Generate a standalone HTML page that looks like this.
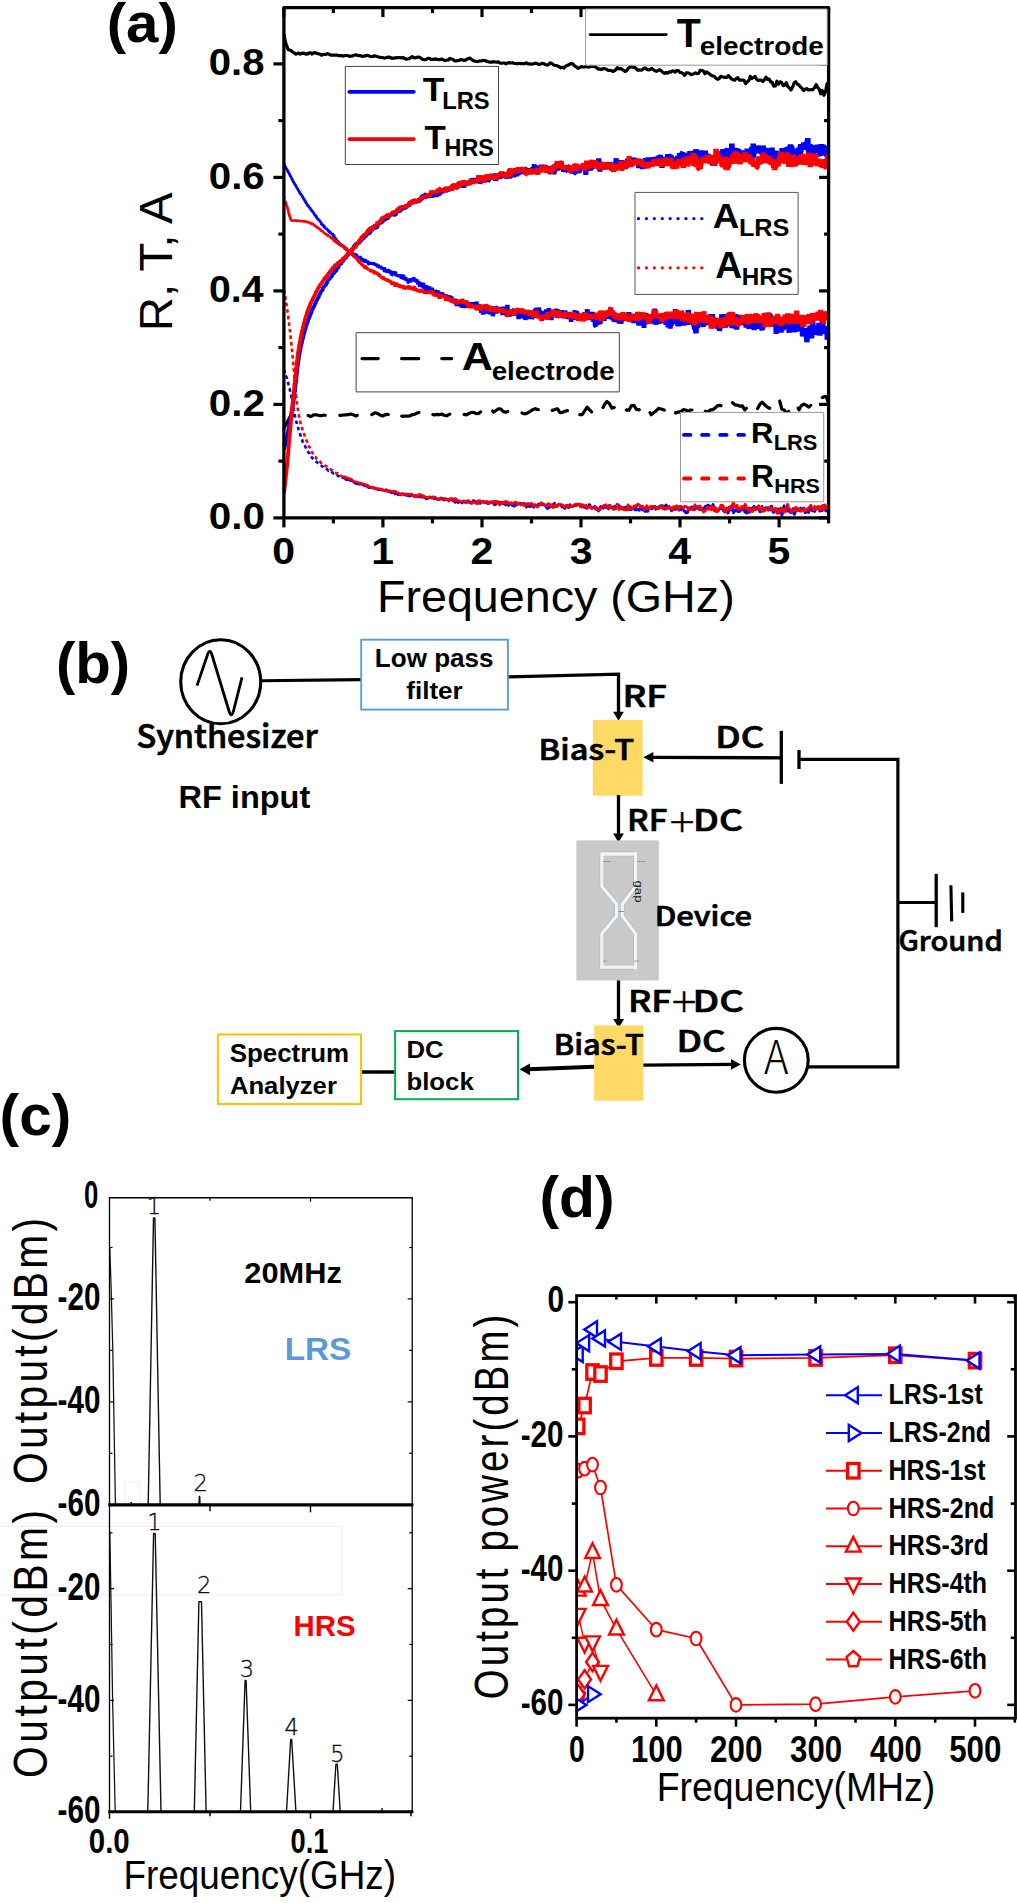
<!DOCTYPE html>
<html lang="en"><head><meta charset="utf-8"><title>Figure</title>
<style>
html,body{margin:0;padding:0;background:#fff;}
body{width:1017px;height:1903px;overflow:hidden;}
svg{display:block;font-family:"Liberation Sans",sans-serif;}
</style></head><body>
<svg width="1017" height="1903" viewBox="0 0 1017 1903">
<rect width="1017" height="1903" fill="#fff"/>
<g id="panel-a" stroke-linejoin="round" stroke-linecap="butt">
<clipPath id="clipA"><rect x="282.7" y="7.6" width="546.7" height="510.3"/></clipPath>
<g clip-path="url(#clipA)">
<polyline points="283.9,33.9 284.6,38.0 285.4,41.5 286.1,44.0 286.9,46.1 287.6,48.3 288.4,49.6 289.1,49.8 289.8,50.2 290.6,50.3 291.3,50.7 292.1,51.6 292.8,52.2 293.6,52.8 294.3,53.0 295.0,53.4 295.8,54.2 296.5,53.8 297.3,53.7 298.0,53.1 298.8,53.2 299.5,53.3 300.2,54.1 301.0,53.8 301.7,53.5 302.5,53.2 303.2,53.5 304.0,53.1 304.7,53.5 305.4,53.9 306.2,54.2 306.9,53.7 307.7,53.8 308.4,53.8 309.2,52.9 309.9,52.8 310.6,52.8 311.4,53.3 312.1,54.0 312.9,53.5 313.6,52.8 315.2,52.6 316.7,53.4 318.3,53.8 319.9,54.2 321.4,55.2 323.0,54.5 324.6,54.3 326.1,54.3 327.7,53.7 329.3,54.3 330.8,55.2 332.4,55.2 334.0,55.1 335.5,55.2 337.1,55.2 338.7,55.6 340.2,55.7 341.8,55.7 343.4,56.1 344.9,55.5 346.5,55.5 348.0,55.6 349.6,56.3 351.2,56.2 352.7,55.9 354.3,55.2 355.9,54.8 357.4,55.5 359.0,55.6 360.6,55.6 362.1,56.5 363.7,56.1 365.3,55.9 366.8,55.3 368.4,55.6 370.0,56.3 371.5,56.7 373.1,56.5 374.7,55.7 376.2,56.2 377.8,56.7 379.4,57.1 380.9,57.4 382.5,57.5 384.1,58.1 385.6,57.8 387.2,57.4 388.7,56.9 390.3,57.5 391.9,58.3 393.4,58.2 395.0,58.1 396.6,57.5 398.1,57.8 399.7,57.5 401.3,57.9 402.8,57.4 404.4,58.3 406.0,59.1 407.5,59.0 409.1,58.7 410.7,57.5 412.2,56.6 413.8,57.7 415.4,57.8 416.9,57.4 418.5,57.0 420.1,57.5 421.6,58.6 423.2,59.5 424.7,59.8 426.3,59.4 427.9,58.3 429.4,58.3 431.0,59.4 432.6,59.4 434.1,59.4 435.7,58.9 437.3,59.5 438.8,59.6 440.4,59.4 442.0,59.1 443.5,60.0 445.1,60.5 446.7,60.2 448.2,60.1 449.8,58.4 451.4,59.0 452.9,59.3 454.5,60.9 456.1,60.8 457.6,60.6 459.2,60.4 460.8,59.5 462.3,59.8 463.9,60.4 465.4,60.2 467.0,59.2 468.6,58.6 470.1,58.1 471.7,59.6 473.3,60.5 474.8,61.2 476.4,61.3 478.0,61.6 479.5,60.9 481.1,61.0 482.7,60.4 484.2,60.5 485.8,60.9 487.4,61.4 488.9,62.0 490.5,62.1 492.1,62.1 493.6,61.7 495.2,62.0 496.8,62.1 498.3,61.9 499.9,63.0 501.4,63.3 503.0,63.0 504.6,63.0 506.1,63.8 507.7,62.9 509.3,62.6 510.8,63.0 512.4,62.7 514.0,63.3 515.5,63.5 517.1,63.8 518.7,63.3 520.2,63.7 521.8,63.6 523.4,63.7 524.9,63.6 526.5,62.8 528.1,63.8 529.6,63.9 531.2,64.1 532.8,64.0 534.3,63.5 535.9,63.1 537.5,63.9 539.0,64.3 540.6,64.1 542.1,63.3 543.7,63.6 545.3,64.5 546.8,65.1 548.4,64.7 550.0,62.9 551.5,63.2 553.1,64.7 554.7,65.2 556.2,65.5 557.8,66.1 559.4,66.8 560.9,67.8 562.5,67.1 564.1,68.0 565.6,66.2 567.2,65.5 568.8,64.8 570.3,63.8 571.9,63.3 573.5,64.6 575.0,66.3 576.6,66.9 578.1,68.4 579.7,67.6 581.3,66.5 582.8,66.9 584.4,67.0 586.0,66.5 587.5,67.0 589.1,67.1 590.7,66.3 592.2,66.2 593.8,66.7 595.4,66.7 596.9,67.9 598.5,69.2 600.1,69.1 601.6,69.4 603.2,68.5 604.8,68.7 606.3,69.2 607.9,70.2 609.5,70.5 611.0,70.3 612.6,71.4 614.2,70.9 615.7,69.7 617.3,67.6 618.8,69.0 620.4,68.4 622.0,69.4 623.5,70.3 625.1,71.6 626.7,70.6 628.2,68.3 629.8,67.2 631.4,66.6 632.9,67.2 634.5,67.3 636.1,68.6 637.6,70.3 639.2,69.9 640.8,70.1 642.3,69.8 643.9,68.2 645.5,68.2 647.0,69.5 648.6,70.0 650.2,69.4 651.7,68.3 653.3,69.7 654.8,70.7 656.4,71.3 658.0,70.6 659.5,69.7 661.1,70.6 662.7,72.1 664.2,73.4 665.8,72.5 667.4,73.2 668.9,71.9 670.5,72.2 672.1,70.9 673.6,71.0 675.2,72.1 676.8,70.4 678.3,70.5 679.9,72.4 681.5,72.7 683.0,73.6 684.6,75.3 686.2,72.9 687.7,72.9 689.3,73.2 690.9,74.6 692.4,74.2 694.0,73.7 695.5,72.8 697.1,73.7 698.7,73.3 700.2,70.3 701.8,70.5 703.4,71.0 704.9,73.7 706.5,71.8 708.1,72.9 709.6,74.1 711.2,75.3 712.8,76.0 714.3,76.3 715.9,78.2 717.5,79.3 719.0,78.8 720.6,76.4 722.2,76.8 723.7,77.2 725.3,77.4 726.9,77.3 728.4,75.5 730.0,77.5 731.6,78.9 733.1,79.8 734.7,80.2 736.2,78.5 737.8,77.7 739.4,80.1 740.9,80.2 742.5,80.1 744.1,80.3 745.6,83.6 747.2,81.9 748.8,80.5 750.3,76.4 751.9,78.5 753.5,77.5 755.0,76.4 756.6,79.1 758.2,80.5 759.7,80.1 761.3,80.2 762.9,81.5 764.4,79.8 766.0,77.2 767.6,79.5 769.1,79.1 770.7,81.9 772.2,82.3 773.8,86.1 775.4,85.9 776.9,81.2 778.5,84.2 780.1,81.8 781.6,82.5 783.2,85.6 784.8,85.2 786.3,82.6 787.9,86.6 789.5,88.0 791.0,90.0 792.6,87.1 794.2,82.9 795.7,81.8 797.3,84.2 798.9,85.0 800.4,86.9 802.0,88.3 803.6,90.6 805.1,89.3 806.7,88.6 808.3,89.9 809.8,89.8 811.4,89.5 812.9,89.6 814.5,87.8 816.1,84.6 817.6,87.5 819.2,89.2 820.8,93.9 822.3,90.5 823.9,95.3 825.5,91.7 827.0,83.7 828.6,82.7" fill="none" stroke="#000" stroke-width="3.2" stroke-linejoin="round"/>
<polyline points="283.9,428.7 284.9,426.4 285.9,424.5 286.9,422.7 287.9,420.9 288.9,419.0 289.8,417.1 290.8,416.2 291.8,415.7 292.8,415.2 293.8,415.2 294.8,415.9 295.8,415.7 296.8,415.1 297.8,415.1 298.8,415.2 299.7,415.4 300.7,416.0 301.7,416.0 302.7,416.0 303.7,415.3 304.7,415.7 305.7,415.7 306.7,415.3 307.7,415.2 308.7,415.8 309.6,416.0 310.6,416.5 311.6,416.2 312.6,415.5 313.6,414.8 316.1,414.8 318.5,415.3 321.0,415.7 323.5,415.2 325.9,415.3 328.4,415.0 330.9,414.1 333.3,413.8 335.8,414.0 338.3,415.0 340.7,415.5 343.2,415.0 345.6,414.8 348.1,414.7 350.6,414.0 353.0,414.6 355.5,415.9 358.0,415.1 360.4,414.5 362.9,414.8 365.4,415.3 367.8,415.3 370.3,415.5 372.7,414.0 375.2,412.8 377.7,413.5 380.1,415.1 382.6,416.0 385.1,414.8 387.5,414.4 390.0,414.9 392.5,415.3 394.9,413.3 397.4,413.6 399.9,415.1 402.3,416.3 404.8,416.1 407.2,416.1 409.7,416.0 412.2,414.6 414.6,414.3 417.1,413.0 419.6,412.2 422.0,412.7 424.5,413.6 427.0,412.2 429.4,413.1 431.9,414.3 434.3,415.0 436.8,414.4 439.3,414.7 441.7,414.0 444.2,415.3 446.7,415.8 449.1,414.4 451.6,413.6 454.1,413.7 456.5,413.4 459.0,412.6 461.5,412.8 463.9,414.4 466.4,414.9 468.8,413.5 471.3,412.4 473.8,412.5 476.2,413.6 478.7,413.5 481.2,411.4 483.6,412.2 486.1,412.3 488.6,409.5 491.0,408.6 493.5,412.1 496.0,410.5 498.4,408.8 500.9,409.0 503.3,411.6 505.8,412.3 508.3,411.2 510.7,412.1 513.2,412.2 515.7,411.3 518.1,411.6 520.6,412.2 523.1,413.5 525.5,413.8 528.0,412.7 530.4,411.3 532.9,409.6 535.4,408.7 537.8,409.7 540.3,409.6 542.8,411.4 545.2,410.6 547.7,409.3 550.2,410.1 552.6,410.5 555.1,409.4 557.6,408.8 560.0,412.6 562.5,412.3 564.9,411.3 567.4,410.6 569.9,410.7 572.3,409.4 574.8,412.4 577.3,414.7 579.7,414.6 582.2,414.7 584.7,410.8 587.1,407.1 589.6,409.9 592.0,412.3 594.5,410.1 597.0,408.2 599.4,407.6 601.9,409.5 604.4,404.8 606.8,401.5 609.3,403.4 611.8,408.1 614.2,407.5 616.7,408.5 619.2,410.8 621.6,410.2 624.1,412.3 626.5,409.9 629.0,410.2 631.5,405.6 633.9,405.4 636.4,409.3 638.9,410.0 641.3,408.3 643.8,407.3 646.3,406.6 648.7,410.2 651.2,414.7 653.7,412.7 656.1,410.9 658.6,408.4 661.0,409.0 663.5,409.8 666.0,410.9 668.4,409.2 670.9,408.3 673.4,408.1 675.8,413.0 678.3,412.1 680.8,411.7 683.2,409.7 685.7,410.0 688.1,411.1 690.6,410.0 693.1,410.0 695.5,409.1 698.0,407.5 700.5,408.7 702.9,409.6 705.4,411.3 707.9,411.9 710.3,409.9 712.8,409.7 715.3,407.7 717.7,405.6 720.2,405.3 722.6,406.5 725.1,405.3 727.6,402.9 730.0,400.3 732.5,402.6 735.0,404.9 737.4,405.1 739.9,406.2 742.4,405.9 744.8,409.9 747.3,407.2 749.7,410.9 752.2,409.9 754.7,408.6 757.1,409.6 759.6,404.7 762.1,402.2 764.5,404.5 767.0,406.9 769.5,408.3 771.9,406.0 774.4,404.6 776.9,402.8 779.3,399.3 781.8,409.2 784.2,410.0 786.7,413.5 789.2,410.8 791.6,409.4 794.1,404.9 796.6,404.7 799.0,409.8 801.5,405.5 804.0,404.1 806.4,405.4 808.9,407.1 811.4,404.8 813.8,404.0 816.3,399.4 818.7,398.9 821.2,398.2 823.7,396.8 826.1,396.3 828.6,403.4" fill="none" stroke="#000" stroke-width="3.2" stroke-dasharray="18 15" stroke-linecap="round"/>
<polyline points="283.9,369.3 284.1,370.0 284.4,370.7 284.6,371.5 284.9,372.3 285.1,373.1 285.4,373.8 285.6,374.7 285.9,375.5 286.1,376.0 286.4,376.7 286.6,377.4 286.9,378.3 287.1,379.2 287.4,380.3 287.6,381.1 287.9,381.9 288.1,382.9 288.4,384.0 288.6,385.0 288.9,386.0 289.1,386.9 289.3,387.8 289.6,388.6 289.8,389.7 290.1,390.8 290.3,391.9 290.6,393.1 290.8,394.4 291.1,395.4 291.3,396.5 291.6,398.0 291.8,399.5 292.1,400.7 292.3,401.9 292.6,403.3 292.8,404.9 293.1,406.2 293.3,407.3 293.6,408.6 293.8,410.0 294.1,411.4 294.3,412.6 294.5,413.8 294.8,415.1 295.0,416.6 295.3,417.8 295.5,418.7 295.8,419.5 296.0,420.5 296.3,421.4 296.5,422.2 296.8,423.3 297.0,424.2 297.3,424.9 297.5,425.8 297.8,426.6 298.0,427.4 298.3,428.3 298.5,429.3 298.8,430.3 299.0,431.3 299.3,432.0 299.5,432.6 299.7,433.3 300.0,433.9 300.2,434.7 300.5,435.4 300.7,436.2 301.0,437.0 301.2,437.8 301.5,438.5 301.7,439.1 302.0,439.7 302.2,440.3 302.5,440.9 302.7,441.9 303.0,442.5 303.2,442.8 303.5,443.1 303.7,443.5 304.0,443.9 304.2,444.6 304.5,445.2 304.7,445.5 304.9,445.7 305.2,446.3 305.4,447.0 305.7,447.6 305.9,447.9 306.2,448.2 306.4,448.7 306.7,449.2 306.9,449.8 307.2,450.3 307.4,450.9 307.7,451.3 307.9,451.8 308.2,452.2 308.4,452.4 308.7,452.7 308.9,452.9 309.2,453.2 309.4,453.9 309.6,454.6 309.9,454.9 310.1,455.1 310.4,455.4 310.6,455.9 310.9,456.2 311.1,456.5 311.4,456.9 311.6,457.2 311.9,457.5 312.1,457.9 312.4,458.2 312.6,458.3 312.9,458.5 313.1,459.0 313.4,459.4 313.6,459.5 314.1,459.8 314.5,460.4 315.0,460.7 315.5,461.2 316.0,461.6 316.4,462.0 316.9,462.2 317.4,462.5 317.8,463.1 318.3,463.5 318.8,463.8 319.2,464.3 319.7,464.5 320.2,464.7 320.6,465.1 321.1,465.5 321.6,465.8 322.0,466.3 322.5,466.7 323.0,466.7 323.5,467.0 323.9,467.7 324.4,468.1 324.9,468.3 325.3,468.7 325.8,468.8 326.3,469.0 326.7,469.1 327.2,469.3 327.7,469.9 328.1,470.5 328.6,470.7 329.1,470.5 329.5,470.5 330.0,471.2 330.5,471.6 330.9,471.6 331.4,471.9 331.9,472.1 332.4,472.4 332.8,473.0 333.3,473.4 333.8,473.5 334.2,473.5 334.7,473.7 335.2,474.0 335.6,474.4 336.1,474.8 336.6,474.9 337.0,474.9 337.5,475.5 338.0,476.0 338.4,476.2 338.9,476.3 339.4,476.3 339.9,476.6 340.3,477.0 340.8,477.1 341.3,477.1 341.7,477.3" fill="none" stroke="#00f" stroke-width="2.6" stroke-dasharray="3.6 3"/>
<polyline points="341.7,477.3 342.2,477.5 342.7,477.8 343.1,477.8 343.6,478.0 344.1,478.1 344.5,478.2 345.0,478.4 345.5,478.9 345.9,479.5 346.4,479.7 346.9,479.4 347.3,479.3 347.8,479.7 348.3,479.8 348.8,479.8 349.2,480.1 349.7,480.3 350.2,480.4 350.6,480.7 351.1,480.7 351.6,480.6 352.0,480.9 352.5,481.1 353.0,481.0 353.4,481.6 353.9,482.3 354.4,482.7 354.8,482.8 355.3,483.0 355.8,483.6 356.3,483.7 356.7,483.6 357.2,483.6 357.7,483.8 358.1,484.2 358.6,484.1 359.1,483.9 359.5,484.1 360.0,484.3 360.5,484.3 360.9,484.1 361.4,483.9 361.9,484.1 362.3,484.4 362.8,484.8 363.3,485.1 363.8,485.0 364.2,485.4 364.7,485.8 365.2,486.0 365.6,486.1 366.1,486.0 366.6,485.9 367.0,486.1 367.5,486.7 368.0,487.2 368.4,487.5 368.9,487.8 369.4,487.5 369.8,487.1 370.3,487.5 370.8,487.7 371.2,487.4 371.7,487.4 372.2,487.6 372.7,488.1 373.1,488.2 373.6,487.9 374.1,488.2 374.5,488.3 375.0,488.6 375.5,489.0 375.9,489.0 376.4,488.7 376.9,488.7 377.3,489.1 377.8,489.4 378.3,489.4 378.7,489.8 379.2,489.8 379.7,489.7 380.2,489.8 380.6,489.6 381.1,489.6 381.6,490.1 382.0,490.2 382.5,489.9 383.0,489.8 383.4,489.9 383.9,490.1 384.4,490.4 384.8,490.7 385.3,490.6 385.8,490.1 386.2,489.7 386.7,490.0 387.2,490.9 387.6,491.3 388.1,491.2 388.6,491.6 389.1,491.6 389.5,491.0 390.0,491.1 390.5,492.0 390.9,492.5 391.4,492.7 391.9,492.9 392.3,492.7 392.8,492.0 393.3,491.7 393.7,491.8 394.2,492.2 394.7,493.5 395.1,494.0 395.6,493.2 396.1,493.1 396.6,493.3 397.0,493.4 397.5,494.2 398.0,494.8 398.4,494.5 398.9,493.8 399.4,494.2 399.8,494.6 400.3,494.1 400.8,494.0 401.2,494.4 401.7,494.3 402.2,493.8 402.6,493.7 403.1,494.1 403.6,494.5 404.1,494.4 404.5,494.5 405.0,494.8 405.5,495.2 405.9,495.4 406.4,495.5 406.9,495.3 407.3,494.9 407.8,495.1 408.3,495.7 408.7,496.0 409.2,496.0 409.7,496.1 410.1,495.8 410.6,495.6 411.1,495.5 411.5,495.2 412.0,495.0 412.5,495.1 413.0,495.4 413.4,495.7 413.9,496.3 414.4,496.4 414.8,495.9 415.3,495.4 415.8,495.3 416.2,496.2 416.7,496.8 417.2,496.7 417.6,496.9 418.1,496.8 418.6,496.0 419.0,495.7 419.5,496.5 420.0,497.1 420.5,496.9 420.9,497.1 421.4,497.2 421.9,496.7 422.3,496.2 422.8,496.4 423.3,496.9 423.7,497.1 424.2,497.5 424.7,497.5 425.1,497.2 425.6,498.2 426.1,498.9 426.5,498.7 427.0,498.8 427.5,498.4 427.9,498.3 428.4,498.2 428.9,498.0 429.4,497.9 429.8,497.9 430.3,497.8 430.8,497.5 431.2,497.4 431.7,497.8 432.2,498.1 432.6,498.0 433.1,497.9 433.6,498.2 434.0,498.8 434.5,498.8 435.0,498.5 435.4,498.8 435.9,498.7 436.4,498.6 436.9,499.1 437.3,499.4 437.8,499.5 438.3,499.4 438.7,499.1 439.2,498.6 439.7,498.6 440.1,499.1 440.6,498.6 441.1,497.8 441.5,498.2 442.0,499.2 442.5,499.2 442.9,499.0 443.4,499.7 443.9,500.2 444.3,499.9 444.8,499.5 445.3,498.7 445.8,498.7 446.2,499.2 446.7,499.2 447.2,499.4 447.6,499.8 448.1,499.7 448.6,499.8 449.0,500.0 449.5,499.5 450.0,499.1 450.4,499.2 450.9,499.3 451.4,499.5 451.8,499.8 452.3,500.1 452.8,500.7 453.3,500.9 453.7,500.4 454.2,500.6 454.7,502.1 455.1,502.4 455.6,501.2 456.1,500.7 456.5,500.9 457.0,501.3 457.5,502.0 457.9,502.7 458.4,502.3 458.9,501.2 459.3,500.9 459.8,501.6 460.3,502.3 460.8,502.3 461.2,502.1 461.7,502.6 462.2,503.1 462.6,501.9 463.1,501.1 463.6,501.8 464.0,502.1 464.5,502.2 465.0,502.5 465.4,502.4 465.9,502.5 466.4,502.4 466.8,501.9 467.3,501.9 467.8,502.2 468.2,502.3 468.7,502.3 469.2,502.4 469.7,502.3 470.1,502.8 470.6,503.2 471.1,503.0 471.5,502.9 472.0,502.5 472.5,501.7 472.9,500.8 473.4,500.4 473.9,500.6 474.3,501.4 474.8,502.0 475.3,501.7 475.7,501.5 476.2,501.7 476.7,502.2 477.2,502.2 477.6,502.3 478.1,503.0 478.6,502.7 479.0,502.3 479.5,503.2 480.0,503.6 480.4,503.2 480.9,502.7 481.4,502.0 481.8,501.5 482.3,501.7 482.8,502.0 483.2,502.4 483.7,502.5 484.2,502.4 484.6,502.2 485.1,502.0 485.6,502.3 486.1,502.9 486.5,503.2 487.0,503.2 487.5,503.3 487.9,503.6 488.4,503.7 488.9,502.5 489.3,502.1 489.8,502.6 490.3,502.1 490.7,501.9 491.2,502.5 491.7,502.5 492.1,502.3 492.6,503.0 493.1,503.0 493.6,502.6 494.0,504.2 494.5,505.0 495.0,504.2 495.4,503.9 495.9,504.1 496.4,504.1 496.8,503.4 497.3,501.7 497.8,501.6 498.2,502.8 498.7,502.9 499.2,502.4 499.6,502.3 500.1,502.4 500.6,502.1 501.1,502.8 501.5,503.7 502.0,503.8 502.5,503.1 502.9,502.3 503.4,503.0 503.9,504.0 504.3,503.5 504.8,503.3 505.3,504.6 505.7,505.0 506.2,503.6 506.7,503.6 507.1,504.5 507.6,504.3 508.1,504.8 508.5,505.6 509.0,504.8 509.5,504.1 510.0,504.3 510.4,503.4 510.9,502.8 511.4,503.5 511.8,504.8 512.3,505.7 512.8,505.0 513.2,504.4 513.7,505.9 514.2,506.4 514.6,504.9 515.1,503.6 515.6,503.8 516.0,504.6 516.5,505.1 517.0,504.8 517.5,504.0 517.9,503.8 518.4,503.7 518.9,503.9 519.3,503.7 519.8,503.1 520.3,503.3 520.7,503.2 521.2,503.8 521.7,504.7 522.1,504.3 522.6,503.5 523.1,503.9 523.5,505.0 524.0,505.1 524.5,503.9 524.9,503.4 525.4,503.9 525.9,505.4 526.4,507.3 526.8,506.8 527.3,505.6 527.8,505.7 528.2,506.0 528.7,506.0 529.2,506.4 529.6,506.8 530.1,506.6 530.6,506.1 531.0,506.1 531.5,505.6 532.0,504.8 532.4,505.3 532.9,506.6 533.4,507.4 533.9,506.8 534.3,505.6 534.8,505.4 535.3,505.9 535.7,506.0 536.2,505.6 536.7,505.4 537.1,506.4 537.6,506.6 538.1,504.4 538.5,503.9 539.0,504.5 539.5,504.8 539.9,505.2 540.4,504.6 540.9,504.1 541.3,504.4 541.8,504.7 542.3,504.6 542.8,503.9 543.2,503.8 543.7,504.2 544.2,505.1 544.6,505.4 545.1,505.0 545.6,505.7 546.0,506.9 546.5,507.7 547.0,508.3 547.4,508.6 547.9,508.4 548.4,507.4 548.8,506.6 549.3,506.7 549.8,507.1 550.3,506.8 550.7,505.8 551.2,505.4 551.7,506.6 552.1,506.4 552.6,504.6 553.1,505.0 553.5,505.7 554.0,504.2 554.5,503.2 554.9,504.8 555.4,506.6 555.9,506.5 556.3,506.2 556.8,506.6 557.3,506.1 557.8,505.0 558.2,505.2 558.7,505.1 559.2,504.4 559.6,504.3 560.1,504.8 560.6,505.3 561.0,505.3 561.5,506.4 562.0,507.1 562.4,506.2 562.9,506.3 563.4,507.0 563.8,507.4 564.3,508.2 564.8,508.7 565.2,508.2 565.7,506.4 566.2,505.3 566.7,506.3 567.1,506.5 567.6,505.6 568.1,506.2 568.5,507.9 569.0,507.7 569.5,505.6 569.9,504.5 570.4,505.6 570.9,506.4 571.3,506.5 571.8,506.8 572.3,506.5 572.7,506.2 573.2,505.9 573.7,505.7 574.2,505.8 574.6,505.2 575.1,505.0 575.6,505.6 576.0,505.8 576.5,504.9 577.0,504.3 577.4,504.6 577.9,504.0 578.4,503.8 578.8,504.2 579.3,504.7 579.8,506.1 580.2,505.6 580.7,504.8 581.2,504.6 581.6,504.7 582.1,505.5 582.6,505.5 583.1,505.2 583.5,506.4 584.0,507.3 584.5,506.9 584.9,507.2 585.4,507.5 585.9,507.4 586.3,508.1 586.8,508.3 587.3,507.5 587.7,506.7 588.2,506.7 588.7,506.2 589.1,504.6 589.6,504.5 590.1,505.4 590.6,506.9 591.0,508.0 591.5,507.3 592.0,507.1 592.4,507.6 592.9,507.7 593.4,507.4 593.8,507.7 594.3,507.4 594.8,506.1 595.2,507.0 595.7,509.1 596.2,509.4 596.6,508.8 597.1,508.5 597.6,508.6 598.0,510.0 598.5,511.1 599.0,510.4 599.5,508.8 599.9,507.5 600.4,506.6 600.9,506.4 601.3,507.1 601.8,507.4 602.3,507.1 602.7,507.6 603.2,508.3 603.7,507.8 604.1,506.3 604.6,505.1 605.1,506.2 605.5,507.5 606.0,507.3 606.5,507.6 607.0,507.4 607.4,507.0 607.9,508.3 608.4,508.9 608.8,507.4 609.3,505.4 609.8,505.8 610.2,507.5 610.7,507.6 611.2,507.1 611.6,507.5 612.1,507.4 612.6,506.8 613.0,506.9 613.5,507.7 614.0,508.3 614.5,507.6 614.9,506.2 615.4,507.0 615.9,508.5 616.3,507.4 616.8,506.3 617.3,506.5 617.7,505.3 618.2,504.6 618.7,505.5 619.1,505.9 619.6,506.0 620.1,506.3 620.5,506.3 621.0,507.3 621.5,509.0 621.9,509.0 622.4,507.4 622.9,507.5 623.4,508.6 623.8,507.9 624.3,507.6 624.8,509.4 625.2,509.2 625.7,507.1 626.2,507.0 626.6,508.6 627.1,508.8 627.6,507.1 628.0,506.2 628.5,508.2 629.0,509.7 629.4,508.3 629.9,508.2 630.4,509.8 630.9,509.8 631.3,508.6 631.8,508.5 632.3,509.0 632.7,509.1 633.2,508.9 633.7,507.9 634.1,508.1 634.6,509.7 635.1,510.0 635.5,508.7 636.0,507.5 636.5,508.8 636.9,510.0 637.4,509.4 637.9,509.3 638.3,509.4 638.8,509.5 639.3,510.5 639.8,509.6 640.2,507.1 640.7,507.7 641.2,508.8 641.6,507.5 642.1,507.8 642.6,510.0 643.0,510.1 643.5,509.6 644.0,510.0 644.4,510.4 644.9,511.4 645.4,511.6 645.8,510.6 646.3,509.9 646.8,510.3 647.3,510.9 647.7,511.5 648.2,510.7 648.7,508.2 649.1,508.2 649.6,508.7 650.1,507.6 650.5,506.8 651.0,507.1 651.5,508.4 651.9,509.0 652.4,508.2 652.9,508.0 653.3,507.9 653.8,507.3 654.3,506.5 654.8,506.2 655.2,508.1 655.7,509.3 656.2,507.6 656.6,507.4 657.1,508.5 657.6,507.6 658.0,507.2 658.5,507.7 659.0,507.2 659.4,506.5 659.9,506.0 660.4,506.0 660.8,507.0 661.3,506.3 661.8,505.6 662.2,507.4 662.7,508.3 663.2,507.3 663.7,505.9 664.1,506.1 664.6,507.0 665.1,506.8 665.5,505.9 666.0,504.9 666.5,505.4 666.9,506.0 667.4,506.2 667.9,506.8 668.3,507.7 668.8,507.9 669.3,507.8 669.7,507.8 670.2,508.0 670.7,509.1 671.2,510.4 671.6,510.9 672.1,510.4 672.6,509.5 673.0,508.3 673.5,508.5 674.0,509.5 674.4,508.6 674.9,507.9 675.4,509.6 675.8,509.4 676.3,507.0 676.8,506.9 677.2,506.7 677.7,506.3 678.2,508.1 678.6,509.8 679.1,510.2 679.6,508.8 680.1,508.3 680.5,509.6 681.0,509.9 681.5,509.3 681.9,508.1 682.4,507.2 682.9,508.3 683.3,509.3 683.8,510.3 684.3,511.4 684.7,511.7 685.2,511.4 685.7,511.7 686.1,513.0 686.6,512.3 687.1,511.3 687.6,512.6 688.0,511.5 688.5,509.3 689.0,509.4 689.4,508.8 689.9,508.2 690.4,509.7 690.8,509.2 691.3,507.0 691.8,506.8 692.2,507.4 692.7,507.5 693.2,507.9 693.6,509.1 694.1,510.0 694.6,509.5 695.0,508.9 695.5,508.7 696.0,508.1 696.5,507.9 696.9,508.1 697.4,508.1 697.9,508.6 698.3,507.9 698.8,506.4 699.3,507.8 699.7,509.8 700.2,509.7 700.7,509.8 701.1,508.9 701.6,508.4 702.1,509.4 702.5,509.4 703.0,508.1 703.5,507.9 704.0,509.4 704.4,509.2 704.9,507.2 705.4,506.1 705.8,506.7 706.3,507.8 706.8,507.3 707.2,505.9 707.7,505.0 708.2,505.1 708.6,506.4 709.1,507.1 709.6,506.2 710.0,505.9 710.5,506.2 711.0,506.3 711.5,506.7 711.9,506.9 712.4,506.0 712.9,504.3 713.3,504.8 713.8,507.8 714.3,510.6 714.7,510.7 715.2,509.2 715.7,508.8 716.1,509.8 716.6,511.6 717.1,511.5 717.5,509.6 718.0,509.6 718.5,510.8 718.9,510.0 719.4,508.7 719.9,508.6 720.4,507.6 720.8,506.5 721.3,507.5 721.8,508.9 722.2,508.7 722.7,508.6 723.2,510.5 723.6,511.2 724.1,511.0 724.6,511.0 725.0,510.3 725.5,510.5 726.0,510.8 726.4,511.2 726.9,511.3 727.4,511.9 727.9,513.2 728.3,512.7 728.8,509.6 729.3,506.8 729.7,506.9 730.2,509.0 730.7,510.2 731.1,509.0 731.6,507.9 732.1,507.2 732.5,507.7 733.0,511.2 733.5,512.8 733.9,512.1 734.4,511.8 734.9,510.7 735.3,510.0 735.8,510.4 736.3,510.5 736.8,509.9 737.2,510.2 737.7,511.7 738.2,511.4 738.6,510.0 739.1,511.0 739.6,511.7 740.0,510.9 740.5,510.5 741.0,510.2 741.4,509.4 741.9,508.2 742.4,508.2 742.8,510.1 743.3,509.6 743.8,507.7 744.3,509.3 744.7,512.1 745.2,512.1 745.7,510.8 746.1,511.5 746.6,513.2 747.1,513.2 747.5,511.8 748.0,510.0 748.5,509.9 748.9,511.4 749.4,512.3 749.9,511.0 750.3,509.4 750.8,508.6 751.3,508.2 751.7,508.2 752.2,507.9 752.7,508.2 753.2,508.2 753.6,506.9 754.1,506.3 754.6,507.3 755.0,509.2 755.5,509.8 756.0,509.1 756.4,508.5 756.9,507.5 757.4,506.7 757.8,506.7 758.3,508.5 758.8,510.2 759.2,510.1 759.7,511.1 760.2,512.0 760.7,511.2 761.1,510.1 761.6,507.7 762.1,506.3 762.5,507.5 763.0,508.7 763.5,509.8 763.9,510.6 764.4,511.0 764.9,510.1 765.3,508.0 765.8,507.7 766.3,508.8 766.7,508.7 767.2,507.5 767.7,508.6 768.2,510.2 768.6,509.3 769.1,508.0 769.6,507.0 770.0,507.6 770.5,510.1 771.0,509.6 771.4,506.2 771.9,506.0 772.4,509.0 772.8,511.2 773.3,512.4 773.8,512.5 774.2,511.6 774.7,511.3 775.2,510.8 775.6,509.3 776.1,509.3 776.6,509.6 777.1,509.2 777.5,511.0 778.0,512.6 778.5,510.7 778.9,508.9 779.4,510.2 779.9,511.7 780.3,512.3 780.8,512.2 781.3,513.0 781.7,515.4 782.2,514.8 782.7,512.5 783.1,510.3 783.6,506.9 784.1,505.6 784.6,507.6 785.0,509.0 785.5,508.2 786.0,508.5 786.4,510.9 786.9,511.2 787.4,509.6 787.8,510.2 788.3,511.3 788.8,510.9 789.2,510.6 789.7,509.1 790.2,509.9 790.6,512.8 791.1,512.0 791.6,511.7 792.0,512.3 792.5,510.2 793.0,508.6 793.5,510.7 793.9,513.7 794.4,514.5 794.9,513.7 795.3,511.4 795.8,508.6 796.3,508.2 796.7,508.5 797.2,508.0 797.7,508.6 798.1,509.7 798.6,510.8 799.1,510.7 799.5,510.5 800.0,509.8 800.5,507.9 801.0,508.7 801.4,509.7 801.9,509.6 802.4,510.0 802.8,509.2 803.3,508.0 803.8,507.9 804.2,510.0 804.7,511.9 805.2,512.8 805.6,512.7 806.1,511.9 806.6,511.7 807.0,511.4 807.5,510.5 808.0,511.1 808.5,512.7 808.9,511.2 809.4,509.7 809.9,510.4 810.3,509.7 810.8,508.4 811.3,509.3 811.7,510.2 812.2,510.7 812.7,510.9 813.1,509.9 813.6,509.7 814.1,511.0 814.5,511.7 815.0,510.9 815.5,509.6 815.9,509.7 816.4,509.2 816.9,507.6 817.4,507.3 817.8,507.7 818.3,508.2 818.8,508.5 819.2,509.8 819.7,511.2 820.2,510.8 820.6,510.7 821.1,510.5 821.6,510.1 822.0,510.9 822.5,510.3 823.0,506.7 823.4,505.4 823.9,506.9 824.4,506.9 824.9,507.8 825.3,510.2 825.8,511.0 826.3,510.7 826.7,510.8 827.2,511.0 827.7,511.7 828.1,512.0 828.6,511.6" fill="none" stroke="#00f" stroke-width="2.6"/>
<polyline points="283.9,289.7 284.1,290.9 284.4,292.0 284.6,293.4 284.9,294.7 285.1,295.9 285.4,297.2 285.6,298.9 285.9,300.5 286.1,302.1 286.4,303.7 286.6,305.3 286.9,307.1 287.1,308.8 287.4,310.7 287.6,312.5 287.9,314.3 288.1,316.3 288.4,318.2 288.6,320.0 288.9,321.9 289.1,323.7 289.3,325.7 289.6,327.8 289.8,329.7 290.1,331.7 290.3,334.0 290.6,336.5 290.8,338.9 291.1,341.1 291.3,343.6 291.6,346.1 291.8,348.6 292.1,351.2 292.3,353.8 292.6,356.4 292.8,359.1 293.1,361.8 293.3,364.3 293.6,366.9 293.8,369.5 294.1,372.1 294.3,374.7 294.5,377.3 294.8,380.3 295.0,383.2 295.3,386.1 295.5,388.9 295.8,391.8 296.0,394.2 296.3,396.7 296.5,399.3 296.8,401.5 297.0,403.6 297.3,405.6 297.5,407.3 297.8,408.9 298.0,410.4 298.3,411.8 298.5,413.1 298.8,414.6 299.0,416.0 299.3,417.1 299.5,418.2 299.7,419.5 300.0,420.7 300.2,421.7 300.5,422.8 300.7,423.9 301.0,424.7 301.2,425.4 301.5,426.4 301.7,427.4 302.0,428.1 302.2,428.8 302.5,429.6 302.7,430.5 303.0,431.1 303.2,431.7 303.5,432.6 303.7,433.3 304.0,433.9 304.2,434.6 304.5,435.3 304.7,436.1 304.9,436.9 305.2,437.5 305.4,437.9 305.7,438.6 305.9,439.2 306.2,439.8 306.4,440.3 306.7,440.9 306.9,441.5 307.2,442.0 307.4,442.9 307.7,443.8 307.9,444.2 308.2,444.5 308.4,445.1 308.7,445.9 308.9,446.7 309.2,446.9 309.4,446.9 309.6,447.3 309.9,448.0 310.1,448.9 310.4,449.5 310.6,449.9 310.9,450.3 311.1,450.7 311.4,451.2 311.6,451.6 311.9,452.0 312.1,452.5 312.4,452.8 312.6,453.2 312.9,453.7 313.1,454.1 313.4,454.7 313.6,455.3 314.1,456.1 314.5,456.5 315.0,456.7 315.5,457.1 316.0,457.8 316.4,458.5 316.9,459.1 317.4,459.6 317.8,459.9 318.3,460.3 318.8,460.7 319.2,461.1 319.7,461.4 320.2,462.0 320.6,462.6 321.1,463.0 321.6,463.4 322.0,463.7 322.5,463.8 323.0,464.0 323.5,464.5 323.9,465.0 324.4,465.3 324.9,465.5 325.3,465.9 325.8,466.3 326.3,466.4 326.7,466.4 327.2,466.7 327.7,467.2 328.1,467.9 328.6,468.2 329.1,468.5 329.5,468.8 330.0,468.9 330.5,469.3 330.9,469.7 331.4,470.1 331.9,470.2 332.4,470.3 332.8,470.8 333.3,471.4 333.8,471.7 334.2,471.8 334.7,472.1 335.2,472.4 335.6,472.8 336.1,473.4 336.6,473.4 337.0,473.1 337.5,473.3 338.0,473.9 338.4,474.3 338.9,474.3 339.4,474.4 339.9,475.0 340.3,475.4 340.8,475.5 341.3,475.8 341.7,476.5" fill="none" stroke="#f00" stroke-width="2.6" stroke-dasharray="3.6 3"/>
<polyline points="341.7,476.5 342.2,476.8 342.7,476.8 343.1,476.7 343.6,476.7 344.1,477.0 344.5,477.1 345.0,476.7 345.5,476.7 345.9,477.3 346.4,477.9 346.9,477.9 347.3,477.9 347.8,478.0 348.3,478.0 348.8,478.4 349.2,479.0 349.7,479.3 350.2,479.1 350.6,478.9 351.1,479.0 351.6,479.5 352.0,480.2 352.5,480.6 353.0,481.0 353.4,481.4 353.9,481.6 354.4,481.5 354.8,481.6 355.3,481.8 355.8,481.9 356.3,482.0 356.7,482.2 357.2,482.3 357.7,482.3 358.1,482.7 358.6,483.2 359.1,482.9 359.5,482.8 360.0,483.0 360.5,483.1 360.9,483.3 361.4,483.5 361.9,483.6 362.3,483.5 362.8,483.8 363.3,484.4 363.8,484.5 364.2,484.2 364.7,484.2 365.2,484.6 365.6,485.0 366.1,485.1 366.6,484.9 367.0,484.9 367.5,485.3 368.0,485.7 368.4,485.9 368.9,486.3 369.4,486.8 369.8,487.1 370.3,487.4 370.8,487.5 371.2,487.2 371.7,486.9 372.2,487.1 372.7,487.6 373.1,487.7 373.6,487.6 374.1,487.7 374.5,487.9 375.0,488.2 375.5,488.4 375.9,488.4 376.4,489.0 376.9,489.2 377.3,488.9 377.8,488.9 378.3,488.7 378.7,488.6 379.2,488.8 379.7,489.1 380.2,489.5 380.6,489.4 381.1,489.1 381.6,489.2 382.0,489.8 382.5,490.2 383.0,490.2 383.4,490.1 383.9,490.0 384.4,490.3 384.8,490.5 385.3,490.5 385.8,490.4 386.2,490.7 386.7,491.1 387.2,490.9 387.6,490.9 388.1,491.3 388.6,491.0 389.1,490.7 389.5,490.7 390.0,490.8 390.5,490.9 390.9,491.3 391.4,491.5 391.9,491.3 392.3,491.6 392.8,491.9 393.3,491.5 393.7,491.1 394.2,491.5 394.7,491.8 395.1,491.6 395.6,491.4 396.1,491.6 396.6,492.1 397.0,492.6 397.5,492.9 398.0,492.9 398.4,492.9 398.9,493.5 399.4,493.8 399.8,493.8 400.3,494.3 400.8,494.9 401.2,494.7 401.7,494.0 402.2,493.4 402.6,493.6 403.1,494.3 403.6,494.4 404.1,494.1 404.5,493.9 405.0,493.9 405.5,494.1 405.9,494.3 406.4,494.0 406.9,494.1 407.3,495.0 407.8,494.7 408.3,494.2 408.7,494.1 409.2,494.2 409.7,494.2 410.1,494.2 410.6,494.3 411.1,494.2 411.5,494.0 412.0,494.2 412.5,495.0 413.0,495.9 413.4,496.2 413.9,496.3 414.4,496.6 414.8,496.7 415.3,496.6 415.8,495.8 416.2,495.6 416.7,496.2 417.2,496.6 417.6,496.5 418.1,495.6 418.6,494.6 419.0,494.7 419.5,494.7 420.0,494.3 420.5,494.6 420.9,495.4 421.4,495.8 421.9,495.5 422.3,495.2 422.8,496.4 423.3,497.5 423.7,497.0 424.2,496.1 424.7,496.4 425.1,497.1 425.6,497.4 426.1,497.5 426.5,497.3 427.0,497.5 427.5,497.7 427.9,497.8 428.4,497.5 428.9,496.7 429.4,496.8 429.8,497.6 430.3,497.5 430.8,497.1 431.2,497.6 431.7,498.0 432.2,497.6 432.6,496.8 433.1,496.8 433.6,497.1 434.0,497.4 434.5,497.3 435.0,497.0 435.4,497.4 435.9,498.1 436.4,498.6 436.9,498.7 437.3,498.5 437.8,498.8 438.3,499.2 438.7,499.1 439.2,499.3 439.7,499.6 440.1,499.0 440.6,498.9 441.1,499.2 441.5,498.8 442.0,498.3 442.5,498.3 442.9,498.4 443.4,498.3 443.9,498.5 444.3,499.0 444.8,499.0 445.3,498.5 445.8,498.8 446.2,499.3 446.7,499.5 447.2,499.5 447.6,499.8 448.1,500.6 448.6,501.1 449.0,500.8 449.5,499.7 450.0,498.6 450.4,498.5 450.9,498.9 451.4,498.9 451.8,498.5 452.3,498.6 452.8,498.7 453.3,498.7 453.7,499.7 454.2,500.5 454.7,499.7 455.1,498.5 455.6,498.5 456.1,499.3 456.5,499.9 457.0,500.2 457.5,500.5 457.9,500.8 458.4,500.9 458.9,501.0 459.3,500.8 459.8,501.3 460.3,501.8 460.8,501.8 461.2,501.7 461.7,501.7 462.2,502.0 462.6,501.6 463.1,501.0 463.6,500.9 464.0,500.9 464.5,501.1 465.0,501.7 465.4,501.7 465.9,501.3 466.4,501.2 466.8,500.8 467.3,500.5 467.8,501.1 468.2,501.2 468.7,500.6 469.2,501.2 469.7,501.9 470.1,502.1 470.6,502.8 471.1,502.9 471.5,502.9 472.0,503.5 472.5,503.2 472.9,502.0 473.4,501.6 473.9,502.2 474.3,502.3 474.8,502.2 475.3,502.9 475.7,503.0 476.2,503.1 476.7,503.8 477.2,503.8 477.6,502.3 478.1,500.9 478.6,500.4 479.0,501.1 479.5,502.3 480.0,501.6 480.4,500.8 480.9,501.9 481.4,502.4 481.8,501.9 482.3,501.5 482.8,501.5 483.2,501.4 483.7,501.2 484.2,501.3 484.6,501.9 485.1,502.1 485.6,502.1 486.1,502.2 486.5,501.7 487.0,501.3 487.5,502.0 487.9,502.8 488.4,502.5 488.9,501.9 489.3,502.3 489.8,503.1 490.3,503.1 490.7,502.1 491.2,501.8 491.7,502.1 492.1,502.1 492.6,501.6 493.1,501.2 493.6,502.1 494.0,503.1 494.5,502.7 495.0,501.6 495.4,501.0 495.9,501.4 496.4,502.5 496.8,503.1 497.3,502.9 497.8,502.4 498.2,501.9 498.7,502.6 499.2,504.4 499.6,505.1 500.1,504.0 500.6,503.3 501.1,503.6 501.5,503.1 502.0,502.0 502.5,502.3 502.9,503.3 503.4,502.8 503.9,502.5 504.3,502.7 504.8,502.4 505.3,501.6 505.7,501.2 506.2,502.3 506.7,503.5 507.1,503.5 507.6,502.5 508.1,502.0 508.5,502.5 509.0,503.2 509.5,503.7 510.0,504.0 510.4,504.3 510.9,504.2 511.4,503.3 511.8,502.7 512.3,503.1 512.8,503.4 513.2,503.4 513.7,503.0 514.2,502.8 514.6,502.7 515.1,502.4 515.6,501.8 516.0,502.2 516.5,503.4 517.0,504.0 517.5,503.6 517.9,503.1 518.4,503.2 518.9,503.3 519.3,503.5 519.8,503.9 520.3,504.6 520.7,505.0 521.2,504.8 521.7,504.9 522.1,504.8 522.6,504.2 523.1,503.6 523.5,504.0 524.0,505.3 524.5,505.8 524.9,505.8 525.4,505.8 525.9,504.5 526.4,503.9 526.8,504.4 527.3,504.2 527.8,503.7 528.2,503.4 528.7,504.1 529.2,504.8 529.6,504.4 530.1,504.3 530.6,503.9 531.0,503.2 531.5,503.3 532.0,503.7 532.4,504.5 532.9,505.5 533.4,505.9 533.9,505.8 534.3,504.8 534.8,504.3 535.3,505.1 535.7,505.7 536.2,505.6 536.7,506.5 537.1,507.1 537.6,506.5 538.1,506.4 538.5,506.0 539.0,505.2 539.5,505.1 539.9,504.4 540.4,503.2 540.9,502.7 541.3,502.9 541.8,503.6 542.3,503.6 542.8,503.5 543.2,504.4 543.7,504.9 544.2,504.9 544.6,504.9 545.1,504.9 545.6,505.0 546.0,505.1 546.5,505.4 547.0,505.3 547.4,505.0 547.9,503.9 548.4,503.5 548.8,504.3 549.3,504.7 549.8,504.3 550.3,504.6 550.7,505.9 551.2,505.8 551.7,504.9 552.1,505.6 552.6,507.3 553.1,507.8 553.5,507.4 554.0,507.0 554.5,506.2 554.9,504.9 555.4,504.5 555.9,505.2 556.3,505.5 556.8,506.0 557.3,506.2 557.8,505.8 558.2,505.1 558.7,504.1 559.2,504.7 559.6,504.8 560.1,504.0 560.6,505.0 561.0,505.7 561.5,505.7 562.0,505.7 562.4,504.8 562.9,504.9 563.4,506.3 563.8,506.6 564.3,506.6 564.8,507.3 565.2,507.2 565.7,506.7 566.2,506.3 566.7,505.6 567.1,505.2 567.6,505.7 568.1,506.6 568.5,507.5 569.0,507.5 569.5,506.7 569.9,506.3 570.4,506.2 570.9,505.9 571.3,506.3 571.8,506.6 572.3,505.9 572.7,506.3 573.2,506.6 573.7,505.4 574.2,504.7 574.6,505.0 575.1,504.9 575.6,504.2 576.0,503.9 576.5,504.3 577.0,505.1 577.4,504.8 577.9,504.0 578.4,504.5 578.8,504.7 579.3,504.0 579.8,504.4 580.2,504.8 580.7,505.4 581.2,506.8 581.6,507.3 582.1,506.4 582.6,505.0 583.1,504.9 583.5,506.2 584.0,506.2 584.5,505.6 584.9,505.8 585.4,506.0 585.9,505.3 586.3,505.1 586.8,506.7 587.3,508.1 587.7,507.8 588.2,507.5 588.7,507.3 589.1,506.6 589.6,506.2 590.1,506.3 590.6,506.7 591.0,507.6 591.5,508.4 592.0,508.6 592.4,508.3 592.9,507.8 593.4,507.7 593.8,507.6 594.3,507.5 594.8,507.5 595.2,506.9 595.7,507.2 596.2,508.1 596.6,507.9 597.1,508.6 597.6,509.6 598.0,509.9 598.5,510.0 599.0,508.8 599.5,508.6 599.9,509.7 600.4,509.1 600.9,508.0 601.3,507.5 601.8,507.2 602.3,507.3 602.7,507.1 603.2,506.1 603.7,505.5 604.1,505.2 604.6,505.4 605.1,505.8 605.5,505.5 606.0,504.7 606.5,505.3 607.0,507.2 607.4,508.0 607.9,507.5 608.4,506.8 608.8,506.1 609.3,505.7 609.8,505.2 610.2,505.2 610.7,506.5 611.2,507.8 611.6,508.2 612.1,508.0 612.6,508.0 613.0,508.7 613.5,509.5 614.0,509.4 614.5,508.4 614.9,508.4 615.4,508.5 615.9,507.6 616.3,505.9 616.8,504.3 617.3,504.8 617.7,506.8 618.2,508.0 618.7,509.1 619.1,509.7 619.6,508.5 620.1,506.7 620.5,507.2 621.0,508.7 621.5,508.8 621.9,508.7 622.4,508.2 622.9,508.2 623.4,509.7 623.8,509.7 624.3,508.5 624.8,509.0 625.2,510.1 625.7,509.8 626.2,509.7 626.6,510.1 627.1,509.5 627.6,506.9 628.0,504.7 628.5,506.0 629.0,508.4 629.4,508.9 629.9,507.0 630.4,506.4 630.9,507.2 631.3,507.6 631.8,508.8 632.3,508.9 632.7,508.2 633.2,508.2 633.7,506.8 634.1,505.9 634.6,506.6 635.1,506.3 635.5,505.5 636.0,505.4 636.5,504.9 636.9,505.3 637.4,505.8 637.9,504.2 638.3,504.0 638.8,504.9 639.3,505.0 639.8,505.3 640.2,506.3 640.7,507.3 641.2,507.5 641.6,506.8 642.1,506.1 642.6,506.2 643.0,507.0 643.5,507.1 644.0,507.9 644.4,509.9 644.9,509.3 645.4,507.5 645.8,507.4 646.3,506.6 646.8,505.7 647.3,506.9 647.7,508.8 648.2,509.1 648.7,508.6 649.1,507.3 649.6,506.7 650.1,507.3 650.5,507.5 651.0,506.9 651.5,506.1 651.9,506.7 652.4,507.2 652.9,506.7 653.3,506.3 653.8,506.8 654.3,507.7 654.8,507.8 655.2,507.3 655.7,507.5 656.2,508.4 656.6,508.8 657.1,508.2 657.6,507.7 658.0,508.4 658.5,508.9 659.0,508.4 659.4,507.6 659.9,507.0 660.4,507.3 660.8,506.6 661.3,505.2 661.8,506.2 662.2,507.3 662.7,507.0 663.2,507.9 663.7,508.7 664.1,508.7 664.6,509.5 665.1,509.1 665.5,507.9 666.0,507.9 666.5,508.8 666.9,509.0 667.4,507.7 667.9,507.5 668.3,508.3 668.8,507.5 669.3,506.3 669.7,506.8 670.2,507.7 670.7,507.8 671.2,508.1 671.6,508.2 672.1,509.2 672.6,510.2 673.0,508.5 673.5,506.6 674.0,506.5 674.4,507.8 674.9,508.1 675.4,507.1 675.8,506.7 676.3,505.8 676.8,505.7 677.2,507.2 677.7,508.3 678.2,509.4 678.6,510.0 679.1,508.3 679.6,506.5 680.1,506.3 680.5,506.3 681.0,506.1 681.5,507.2 681.9,507.9 682.4,507.9 682.9,507.6 683.3,507.4 683.8,507.4 684.3,506.8 684.7,506.1 685.2,506.5 685.7,507.0 686.1,506.8 686.6,506.9 687.1,506.8 687.6,507.7 688.0,509.7 688.5,509.1 689.0,507.7 689.4,508.6 689.9,509.6 690.4,509.5 690.8,508.9 691.3,508.8 691.8,508.6 692.2,508.2 692.7,509.2 693.2,509.8 693.6,509.0 694.1,507.5 694.6,505.2 695.0,504.7 695.5,506.6 696.0,507.1 696.5,506.5 696.9,506.3 697.4,506.7 697.9,507.2 698.3,507.9 698.8,508.8 699.3,507.8 699.7,505.8 700.2,506.0 700.7,508.1 701.1,508.6 701.6,509.0 702.1,510.2 702.5,510.5 703.0,511.2 703.5,512.1 704.0,511.8 704.4,510.7 704.9,511.0 705.4,510.8 705.8,509.6 706.3,508.8 706.8,507.3 707.2,506.8 707.7,508.4 708.2,509.4 708.6,509.4 709.1,509.2 709.6,508.7 710.0,507.1 710.5,506.8 711.0,509.6 711.5,509.9 711.9,507.8 712.4,506.6 712.9,507.2 713.3,508.4 713.8,509.6 714.3,511.1 714.7,509.7 715.2,507.3 715.7,508.1 716.1,510.2 716.6,511.5 717.1,512.0 717.5,511.5 718.0,510.5 718.5,509.4 718.9,508.7 719.4,507.9 719.9,507.8 720.4,507.0 720.8,505.1 721.3,505.8 721.8,507.4 722.2,506.3 722.7,505.4 723.2,505.8 723.6,507.9 724.1,510.2 724.6,511.2 725.0,512.3 725.5,512.0 726.0,509.7 726.4,507.8 726.9,508.0 727.4,508.2 727.9,508.3 728.3,508.7 728.8,507.8 729.3,508.2 729.7,509.6 730.2,509.4 730.7,508.0 731.1,506.1 731.6,505.3 732.1,506.4 732.5,505.9 733.0,502.7 733.5,500.8 733.9,502.7 734.4,505.8 734.9,507.1 735.3,506.8 735.8,507.6 736.3,508.1 736.8,505.8 737.2,505.2 737.7,508.2 738.2,509.7 738.6,509.6 739.1,509.0 739.6,508.3 740.0,508.5 740.5,507.6 741.0,506.6 741.4,507.6 741.9,509.0 742.4,508.3 742.8,506.8 743.3,506.2 743.8,506.9 744.3,507.1 744.7,505.4 745.2,504.1 745.7,505.3 746.1,507.2 746.6,508.2 747.1,509.3 747.5,509.3 748.0,509.8 748.5,509.9 748.9,507.7 749.4,508.4 749.9,511.5 750.3,512.0 750.8,511.0 751.3,511.0 751.7,511.3 752.2,511.3 752.7,511.6 753.2,509.9 753.6,507.7 754.1,508.8 754.6,509.2 755.0,507.9 755.5,508.1 756.0,509.1 756.4,509.3 756.9,508.6 757.4,508.4 757.8,507.8 758.3,506.5 758.8,505.7 759.2,506.4 759.7,508.5 760.2,509.8 760.7,509.7 761.1,508.4 761.6,507.3 762.1,509.6 762.5,511.6 763.0,509.5 763.5,508.7 763.9,509.7 764.4,510.1 764.9,510.6 765.3,510.2 765.8,509.4 766.3,508.9 766.7,508.9 767.2,509.1 767.7,508.6 768.2,508.9 768.6,508.2 769.1,507.8 769.6,509.4 770.0,508.8 770.5,506.7 771.0,507.4 771.4,509.9 771.9,510.2 772.4,509.2 772.8,509.3 773.3,509.7 773.8,509.6 774.2,509.2 774.7,509.6 775.2,508.7 775.6,508.0 776.1,510.3 776.6,512.4 777.1,513.4 777.5,512.1 778.0,510.5 778.5,512.6 778.9,513.2 779.4,511.0 779.9,509.6 780.3,508.3 780.8,507.8 781.3,509.0 781.7,510.6 782.2,511.5 782.7,510.7 783.1,509.2 783.6,508.8 784.1,510.2 784.6,512.1 785.0,511.8 785.5,510.4 786.0,510.0 786.4,508.9 786.9,506.5 787.4,504.3 787.8,504.6 788.3,507.1 788.8,508.3 789.2,508.2 789.7,509.1 790.2,509.5 790.6,509.9 791.1,511.6 791.6,512.3 792.0,511.4 792.5,510.3 793.0,510.9 793.5,510.9 793.9,509.9 794.4,509.6 794.9,509.0 795.3,507.7 795.8,507.3 796.3,509.9 796.7,510.9 797.2,509.5 797.7,509.4 798.1,510.1 798.6,510.3 799.1,509.7 799.5,509.1 800.0,509.8 800.5,511.3 801.0,511.1 801.4,510.0 801.9,510.1 802.4,510.1 802.8,509.9 803.3,510.0 803.8,508.6 804.2,509.1 804.7,510.8 805.2,510.9 805.6,510.6 806.1,509.9 806.6,509.6 807.0,508.7 807.5,508.5 808.0,510.3 808.5,509.9 808.9,507.8 809.4,506.9 809.9,506.7 810.3,505.8 810.8,505.1 811.3,506.1 811.7,507.0 812.2,508.1 812.7,509.0 813.1,509.1 813.6,510.0 814.1,508.7 814.5,506.4 815.0,507.6 815.5,508.9 815.9,508.4 816.4,508.9 816.9,508.4 817.4,506.9 817.8,506.3 818.3,506.5 818.8,507.7 819.2,509.0 819.7,509.5 820.2,509.8 820.6,508.3 821.1,506.3 821.6,506.0 822.0,505.8 822.5,505.6 823.0,507.4 823.4,509.8 823.9,509.1 824.4,506.9 824.9,504.7 825.3,505.1 825.8,507.9 826.3,508.2 826.7,507.2 827.2,507.7 827.7,508.0 828.1,508.6 828.6,509.3" fill="none" stroke="#f00" stroke-width="2.6"/>
<polyline points="283.9,163.8 284.1,164.2 284.4,165.1 284.6,165.2 284.9,165.8 285.1,166.3 285.4,166.7 285.6,167.6 285.9,167.6 286.1,168.1 286.4,168.9 286.6,169.0 286.9,169.1 287.1,170.0 287.4,170.2 287.6,170.9 287.9,171.4 288.1,171.9 288.4,172.2 288.6,172.3 288.9,172.8 289.1,173.6 289.3,173.7 289.6,174.4 289.8,175.0 290.1,175.2 290.3,176.0 290.6,176.6 290.8,176.4 291.1,177.7 291.3,177.5 291.6,178.6 291.8,178.6 292.1,179.2 292.3,179.7 292.6,180.7 292.8,180.6 293.1,181.1 293.3,181.8 293.6,182.0 293.8,182.2 294.1,183.1 294.3,183.3 294.5,184.1 294.8,184.1 295.0,184.5 295.3,184.4 295.5,185.3 295.8,185.8 296.0,185.9 296.3,187.1 296.5,186.9 296.8,187.8 297.0,188.2 297.3,188.1 297.5,188.7 297.8,188.8 298.0,190.1 298.3,189.9 298.5,190.6 298.8,190.9 299.0,191.8 299.3,191.3 299.5,191.9 299.7,192.7 300.0,193.3 300.2,193.5 300.5,193.1 300.7,194.0 301.0,194.5 301.2,194.6 301.5,195.1 301.7,195.4 302.0,195.6 302.2,196.2 302.5,196.4 302.7,197.5 303.0,197.4 303.2,198.0 303.5,198.2 303.7,198.7 304.0,199.3 304.2,199.7 304.5,199.6 304.7,200.6 304.9,201.3 305.2,201.0 305.4,201.3 305.7,202.2 305.9,202.5 306.2,203.2 306.4,203.4 306.7,203.3 306.9,203.8 307.2,204.5 307.4,205.0 307.7,206.0 307.9,205.6 308.2,205.9 308.4,206.0 308.7,206.0 308.9,207.0 309.2,207.1 309.4,208.2 309.6,207.6 309.9,208.0 310.1,208.1 310.4,208.7 310.6,209.1 310.9,209.0 311.1,210.2 311.4,210.0 311.6,210.1 311.9,211.2 312.1,211.7 312.4,211.3 312.6,211.8 312.9,211.9 313.1,212.2 313.4,213.1 313.6,213.0 313.9,213.0 314.2,214.1 314.5,214.4 314.8,215.2 315.0,214.7 315.3,214.6 315.6,216.5 315.9,215.9 316.2,216.3 316.5,217.3 316.8,217.7 317.0,218.4 317.3,218.6 317.6,218.6 317.9,218.8 318.2,219.4 318.5,219.4 318.8,220.1 319.0,221.1 319.3,220.2 319.6,220.7 319.9,222.0 320.2,221.1 320.5,222.1 320.8,222.6 321.1,222.1 321.3,224.6 321.6,224.5 321.9,223.7 322.2,224.5 322.5,225.2 322.8,224.3 323.1,225.1 323.3,226.3 323.6,226.3 323.9,225.9 324.2,225.7 324.5,228.0 324.8,227.1 325.1,227.7 325.3,228.7 325.6,228.2 325.9,229.2 326.2,229.0 326.5,228.1 326.8,229.0 327.1,229.1 327.4,229.5 327.6,229.9 327.9,229.8 328.2,231.2 328.5,231.1 328.8,230.7 329.1,231.8 329.4,231.9 329.6,231.3 329.9,231.4 330.2,232.9 330.5,233.3 330.8,232.8 331.1,233.3 331.4,234.1 331.6,233.7 331.9,234.1 332.2,234.7 332.5,233.4 332.8,234.6 333.1,235.3 333.4,235.5" fill="none" stroke="#00f" stroke-width="2.8" stroke-linejoin="bevel"/>
<polyline points="333.4,235.5 333.6,234.8 333.9,236.2 334.2,237.7 334.5,237.5 334.8,238.0 335.1,238.7 335.4,238.6 335.7,239.0 335.9,239.6 336.2,240.2 336.5,239.8 336.8,241.6 337.1,240.5 337.4,241.3 337.7,241.5 337.9,243.4 338.2,241.2 338.5,243.6 338.8,243.4 339.1,242.7 339.4,243.8 339.7,243.9 339.9,245.3 340.2,244.4 340.5,244.3 340.8,244.2 341.1,245.1 341.4,245.0 341.7,245.0 342.0,246.0 342.2,246.3 342.5,244.7 342.8,246.8 343.1,245.6 343.4,246.6 343.7,245.9 344.0,247.6 344.2,247.0 344.5,247.4 344.8,248.0 345.1,247.8 345.4,248.8 345.7,248.6 346.0,249.1 346.2,248.5 346.5,249.3 346.8,250.5 347.1,250.0 347.4,250.1 347.7,250.9 348.0,249.6 348.2,250.5 348.5,250.5 348.8,251.8 349.1,251.8 349.4,251.1 349.7,253.0 350.0,251.9 350.3,252.3 350.5,252.9 350.8,252.7 351.1,253.7 351.4,252.9 351.7,254.1 352.0,254.3 352.3,252.4 352.5,254.1 352.8,255.3 353.1,253.1 353.4,254.5 353.7,256.7 354.0,254.2 354.3,253.6 354.5,254.2 354.8,253.3 355.1,254.8 355.4,254.5 355.7,255.8 356.0,255.1 356.3,254.2 356.6,255.2 356.8,255.7 357.1,257.5 357.4,256.5 357.7,257.4 358.0,256.0 358.3,257.4 358.6,256.8 358.8,258.1 359.1,256.0 359.4,258.7 359.7,257.9 360.0,256.1 360.3,258.2 360.6,259.3 360.8,258.3 361.1,258.1 361.4,258.4 361.7,260.9 362.0,259.3 362.3,261.4 362.6,258.2 362.8,259.9 363.1,260.5 363.4,259.8 363.7,260.1 364.0,261.6 364.3,259.4 364.6,261.2 364.9,262.6 365.1,260.1 365.4,260.2 365.7,260.5 366.0,261.3 366.3,262.7 366.6,261.2 366.9,260.6 367.1,261.6 367.4,261.1 367.7,263.2 368.0,261.8 368.3,262.0 368.6,264.2 368.9,264.4 369.1,263.7 369.4,263.0 369.7,262.8 370.0,263.4 370.3,263.4 370.6,263.5 370.9,263.3 371.1,262.9 371.4,263.1 371.7,263.6 372.0,263.4 372.3,264.1 372.6,263.0 372.9,264.2 373.2,262.3 373.4,263.9 373.7,263.7 374.0,264.7 374.3,264.4 374.6,264.0 374.9,264.2 375.2,264.9 375.4,265.5 375.7,264.5 376.0,264.5 376.3,264.3 376.6,263.7 376.9,265.3 377.2,267.1 377.4,265.5 377.7,267.3 378.0,266.9 378.3,264.9 378.6,265.5 378.9,266.9 379.2,267.1 379.5,266.7 379.7,268.5 380.0,266.6 380.3,267.6 380.6,265.6 380.9,268.6 381.2,266.8 381.5,268.6 381.7,267.1 382.0,269.3 382.3,267.7 382.6,269.0 382.9,269.6" fill="none" stroke="#00f" stroke-width="3.3" stroke-linejoin="bevel"/>
<polyline points="382.9,269.6 383.2,269.0 383.5,268.6 383.7,268.8 384.0,267.7 384.3,268.6 384.6,272.2 384.9,270.1 385.2,271.8 385.5,270.3 385.7,269.4 386.0,271.5 386.3,271.5 386.6,270.3 386.9,270.9 387.2,269.1 387.5,270.5 387.8,270.4 388.0,269.3 388.3,271.7 388.6,271.3 388.9,272.5 389.2,271.3 389.5,270.6 389.8,270.4 390.0,271.9 390.3,272.7 390.6,272.9 390.9,273.6 391.2,272.1 391.5,270.9 391.8,275.0 392.0,274.9 392.3,271.1 392.6,274.5 392.9,272.5 393.2,274.3 393.5,272.2 393.8,272.4 394.1,273.2 394.3,272.6 394.6,273.6 394.9,273.2 395.2,271.9 395.5,272.9 395.8,275.0 396.1,275.3 396.3,274.9 396.6,275.0 396.9,274.9 397.2,275.8 397.5,274.5 397.8,275.4 398.1,275.2 398.3,275.7 398.6,275.1 398.9,277.3 399.2,274.3 399.5,275.8 399.8,275.8 400.1,275.7 400.3,275.2 400.6,275.7 400.9,276.4 401.2,276.9 401.5,278.7 401.8,276.7 402.1,277.4 402.4,277.5 402.6,274.4 402.9,279.5 403.2,277.5 403.5,276.3 403.8,276.8 404.1,276.6 404.4,279.8 404.6,279.6 404.9,277.9 405.2,279.2 405.5,277.0 405.8,279.0 406.1,279.2 406.4,279.1 406.6,280.2 406.9,279.9 407.2,281.0 407.5,280.4 407.8,281.1 408.1,280.3 408.4,282.4 408.7,282.6 408.9,280.3 409.2,280.6 409.5,282.0 409.8,281.1 410.1,282.1 410.4,278.2 410.7,282.5 410.9,278.4 411.2,281.4 411.5,279.8 411.8,280.5 412.1,280.6 412.4,278.9 412.7,279.0 412.9,280.3 413.2,281.1 413.5,277.3 413.8,278.2 414.1,279.9 414.4,280.5 414.7,279.9 414.9,280.3 415.2,279.1 415.5,282.0 415.8,281.0 416.1,282.2 416.4,279.8 416.7,279.4 417.0,282.1 417.2,281.6 417.5,280.7 417.8,283.2 418.1,284.2 418.4,281.9 418.7,282.9 419.0,284.0 419.2,282.1 419.5,283.9 419.8,286.7 420.1,284.1 420.4,284.8 420.7,282.4 421.0,285.0 421.2,285.4 421.5,284.6 421.8,285.0 422.1,287.3 422.4,285.4 422.7,286.1 423.0,284.0 423.3,282.8 423.5,287.6 423.8,287.6 424.1,287.6 424.4,287.5 424.7,287.7 425.0,286.9 425.3,285.7 425.5,289.1 425.8,289.6 426.1,290.2 426.4,286.3 426.7,286.2 427.0,290.2 427.3,290.5 427.5,288.2 427.8,287.0 428.1,287.2 428.4,288.4 428.7,287.9 429.0,288.5 429.3,289.8 429.5,286.5 429.8,289.3 430.1,291.0 430.4,290.2 430.7,291.9 431.0,289.8 431.3,288.5 431.6,292.0 431.8,288.8 432.1,287.6 432.4,290.2" fill="none" stroke="#00f" stroke-width="3.7" stroke-linejoin="bevel"/>
<polyline points="432.4,290.2 432.7,292.6 433.0,292.3 433.3,291.8 433.6,293.4 433.8,293.5 434.1,292.3 434.4,292.4 434.7,291.5 435.0,294.2 435.3,290.0 435.6,291.3 435.8,291.7 436.1,294.0 436.4,290.7 436.7,293.8 437.0,290.8 437.3,292.0 437.6,294.9 437.8,294.3 438.1,291.0 438.4,292.3 438.7,294.0 439.0,293.6 439.3,293.6 439.6,295.1 439.9,294.4 440.1,295.1 440.4,294.9 440.7,293.6 441.0,295.9 441.3,293.4 441.6,294.5 441.9,293.6 442.1,293.5 442.4,293.1 442.7,294.1 443.0,294.1 443.3,295.6 443.6,294.6 443.9,296.9 444.1,296.1 444.4,294.7 444.7,296.0 445.0,295.3 445.3,297.8 445.6,294.2 445.9,297.3 446.2,295.9 446.4,296.6 446.7,295.3 447.0,297.4 447.3,298.4 447.6,299.9 447.9,297.5 448.2,299.0 448.4,296.4 448.7,295.1 449.0,300.9 449.3,299.6 449.6,297.2 449.9,295.9 450.2,297.5 450.4,297.7 450.7,297.6 451.0,297.7 451.3,296.2 451.6,298.1 451.9,301.2 452.2,300.3 452.4,299.4 452.7,301.3 453.0,300.6 453.3,301.3 453.6,301.9 453.9,299.9 454.2,301.9 454.5,303.2 454.7,302.8 455.0,301.8 455.3,298.7 455.6,301.9 455.9,300.0 456.2,301.8 456.5,306.2 456.7,302.2 457.0,304.4 457.3,305.3 457.6,304.9 457.9,300.3 458.2,305.9 458.5,304.4 458.7,301.5 459.0,302.4 459.3,306.4 459.6,303.8 459.9,304.6 460.2,304.2 460.5,302.8 460.8,305.1 461.0,304.8 461.3,302.0 461.6,307.7 461.9,305.4 462.2,304.2 462.5,307.2 462.8,306.3 463.0,307.6 463.3,305.3 463.6,306.7 463.9,304.4 464.2,304.1 464.5,305.8 464.8,306.6 465.0,305.5 465.3,305.8 465.6,308.0 465.9,304.1 466.2,305.5 466.5,304.4 466.8,308.0 467.0,304.1 467.3,301.8 467.6,304.3 467.9,307.8 468.2,305.1 468.5,305.1 468.8,304.5 469.1,305.2 469.3,303.8 469.6,305.4 469.9,304.1 470.2,305.6 470.5,304.2 470.8,302.6 471.1,305.2 471.3,303.1 471.6,305.9 471.9,305.0 472.2,304.8 472.5,302.2 472.8,305.8 473.1,302.4 473.3,307.3 473.6,305.0 473.9,303.2 474.2,303.7 474.5,306.8 474.8,307.3 475.1,303.6 475.4,307.6 475.6,304.4 475.9,306.5 476.2,305.7 476.5,301.6 476.8,303.1 477.1,304.5 477.4,308.7 477.6,305.7 477.9,306.4 478.2,306.8 478.5,304.4 478.8,310.1 479.1,306.6 479.4,307.1 479.6,309.0 479.9,304.6 480.2,310.4 480.5,308.2 480.8,308.3 481.1,312.8 481.4,311.7 481.6,311.1 481.9,308.1" fill="none" stroke="#00f" stroke-width="4.0" stroke-linejoin="bevel"/>
<polyline points="481.9,308.1 482.2,308.1 482.5,309.0 482.8,309.9 483.1,314.7 483.4,310.3 483.7,311.9 483.9,308.9 484.2,308.6 484.5,307.0 484.8,310.0 485.1,309.8 485.4,313.2 485.7,311.1 485.9,313.5 486.2,309.3 486.5,313.2 486.8,311.2 487.1,312.2 487.4,311.4 487.7,309.5 487.9,311.3 488.2,309.7 488.5,311.9 488.8,307.3 489.1,311.1 489.4,307.9 489.7,305.7 489.9,314.4 490.2,311.7 490.5,310.2 490.8,307.5 491.1,310.8 491.4,309.2 491.7,311.4 492.0,309.0 492.2,312.5 492.5,308.6 492.8,316.2 493.1,314.1 493.4,307.0 493.7,310.2 494.0,312.4 494.2,306.3 494.5,308.6 494.8,308.4 495.1,311.4 495.4,309.3 495.7,309.5 496.0,313.7 496.2,309.2 496.5,310.6 496.8,307.6 497.1,307.5 497.4,311.3 497.7,311.1 498.0,309.4 498.3,308.4 498.5,310.5 498.8,309.8 499.1,308.3 499.4,308.6 499.7,307.1 500.0,308.9 500.3,311.2 500.5,313.0 500.8,307.9 501.1,310.2 501.4,310.3 501.7,310.3 502.0,312.9 502.3,310.7 502.5,315.2 502.8,310.9 503.1,312.0 503.4,306.6 503.7,309.6 504.0,311.1 504.3,310.5 504.5,309.5 504.8,312.7 505.1,311.7 505.4,312.1 505.7,306.5 506.0,311.5 506.3,315.7 506.6,310.2 506.8,306.6 507.1,313.9 507.4,304.9 507.7,312.2 508.0,310.1 508.3,313.3 508.6,312.8 508.8,314.8 509.1,314.5 509.4,316.7 509.7,309.9 510.0,314.7 510.3,311.5 510.6,311.6 510.8,313.7 511.1,312.2 511.4,312.5 511.7,313.4 512.0,312.3 512.3,312.3 512.6,314.6 512.9,315.3 513.1,314.4 513.4,312.4 513.7,309.9 514.0,309.7 514.3,312.2 514.6,311.0 514.9,312.8 515.1,310.8 515.4,312.9 515.7,312.4 516.0,313.9 516.3,313.4 516.6,309.4 516.9,315.9 517.1,313.4 517.4,314.6 517.7,311.3 518.0,309.5 518.3,314.0 518.6,319.2 518.9,311.9 519.1,311.9 519.4,316.8 519.7,313.6 520.0,313.2 520.3,318.0 520.6,311.6 520.9,312.1 521.2,312.5 521.4,315.3 521.7,314.6 522.0,314.5 522.3,312.2 522.6,315.5 522.9,310.3 523.2,312.8 523.4,318.5 523.7,310.3 524.0,313.8 524.3,315.5 524.6,314.2 524.9,318.5 525.2,314.2 525.4,320.0 525.7,316.9 526.0,311.8 526.3,312.0 526.6,315.6 526.9,316.9 527.2,312.8 527.5,314.9 527.7,314.3 528.0,313.3 528.3,317.0 528.6,312.8 528.9,319.1 529.2,311.1 529.5,317.7 529.7,315.5 530.0,315.5 530.3,312.2 530.6,312.0 530.9,312.7 531.2,312.2 531.5,312.2 531.7,313.3 532.0,317.2 532.3,318.0 532.6,317.8 532.9,312.6 533.2,312.9 533.5,312.5 533.7,311.5 534.0,312.4 534.3,314.0 534.6,315.0 534.9,315.8 535.2,308.7 535.5,309.3 535.8,314.4 536.0,312.0 536.3,310.4 536.6,307.8 536.9,312.9 537.2,311.2 537.5,309.1 537.8,315.8 538.0,313.6 538.3,312.2 538.6,313.9 538.9,307.5 539.2,310.5 539.5,312.2 539.8,315.1 540.0,311.0 540.3,311.7 540.6,314.5 540.9,314.5 541.2,317.0 541.5,313.9 541.8,311.9 542.0,311.6 542.3,312.6 542.6,312.1 542.9,315.4 543.2,315.1 543.5,311.2 543.8,312.9 544.1,315.8 544.3,312.7 544.6,311.9 544.9,312.1 545.2,313.4 545.5,314.8 545.8,312.5 546.1,309.5 546.3,313.0 546.6,314.9 546.9,312.5 547.2,316.2 547.5,312.8 547.8,314.0 548.1,311.1 548.3,313.2 548.6,311.0 548.9,308.2 549.2,314.3 549.5,315.9 549.8,313.0 550.1,314.4 550.4,314.1 550.6,316.0 550.9,313.4 551.2,314.7 551.5,320.1 551.8,315.6 552.1,314.4 552.4,312.4 552.6,316.6 552.9,317.1 553.2,312.4 553.5,316.4 553.8,314.6 554.1,313.6 554.4,312.8 554.6,314.4 554.9,316.9 555.2,311.6 555.5,314.9 555.8,314.9 556.1,308.7 556.4,311.2 556.6,315.7 556.9,314.2 557.2,313.6 557.5,314.7 557.8,317.5 558.1,311.0 558.4,311.1 558.7,312.4 558.9,314.1 559.2,312.7 559.5,311.8 559.8,316.0 560.1,314.4 560.4,315.1 560.7,312.2 560.9,313.4 561.2,317.3 561.5,315.7 561.8,310.0 562.1,316.7 562.4,314.0 562.7,315.9 562.9,311.3 563.2,314.5 563.5,315.4 563.8,317.2 564.1,314.9 564.4,312.3 564.7,312.7 565.0,317.5 565.2,310.5 565.5,314.9 565.8,316.9 566.1,314.1 566.4,316.0 566.7,316.0 567.0,316.2 567.2,314.9 567.5,316.0 567.8,319.1 568.1,313.6 568.4,316.3 568.7,312.1 569.0,313.8 569.2,313.6 569.5,314.7 569.8,312.0 570.1,316.1 570.4,317.7 570.7,314.4 571.0,322.0 571.2,316.2 571.5,314.8 571.8,316.4 572.1,312.2 572.4,313.6 572.7,315.1 573.0,316.4 573.3,312.6 573.5,317.1 573.8,316.4 574.1,313.5 574.4,313.9 574.7,310.3 575.0,316.0 575.3,320.2 575.5,313.9 575.8,312.4 576.1,316.0 576.4,311.7 576.7,311.2 577.0,317.4 577.3,317.0 577.5,319.0 577.8,314.5 578.1,314.1 578.4,314.4 578.7,319.0 579.0,317.8 579.3,319.5 579.6,319.9 579.8,319.2 580.1,319.8 580.4,316.2 580.7,314.6 581.0,314.1" fill="none" stroke="#00f" stroke-width="4.4" stroke-linejoin="bevel"/>
<polyline points="581.0,314.1 581.3,315.7 581.6,317.3 581.8,315.7 582.1,314.2 582.4,316.5 582.7,315.6 583.0,316.6 583.3,317.2 583.6,315.8 583.8,318.8 584.1,313.3 584.4,320.0 584.7,314.8 585.0,319.4 585.3,312.1 585.6,313.7 585.8,318.0 586.1,317.0 586.4,318.7 586.7,315.9 587.0,314.7 587.3,309.2 587.6,319.2 587.9,312.5 588.1,317.2 588.4,315.0 588.7,313.5 589.0,314.4 589.3,314.7 589.6,316.4 589.9,316.0 590.1,315.6 590.4,313.0 590.7,320.0 591.0,317.6 591.3,319.8 591.6,319.2 591.9,319.0 592.1,314.4 592.4,312.0 592.7,314.3 593.0,321.3 593.3,318.4 593.6,321.9 593.9,318.1 594.1,316.3 594.4,318.4 594.7,318.0 595.0,320.8 595.3,325.8 595.6,326.0 595.9,321.2 596.2,319.5 596.4,317.7 596.7,321.9 597.0,320.8 597.3,320.2 597.6,318.0 597.9,320.8 598.2,323.3 598.4,317.3 598.7,318.8 599.0,318.6 599.3,322.7 599.6,319.1 599.9,323.3 600.2,323.7 600.4,318.8 600.7,319.0 601.0,316.0 601.3,313.4 601.6,317.1 601.9,312.0 602.2,318.1 602.5,314.3 602.7,319.6 603.0,315.7 603.3,316.8 603.6,316.5 603.9,314.3 604.2,320.9 604.5,315.5 604.7,317.9 605.0,315.4 605.3,314.6 605.6,316.5 605.9,316.4 606.2,318.5 606.5,313.8 606.7,317.0 607.0,314.0 607.3,318.9 607.6,311.4 607.9,317.8 608.2,311.9 608.5,316.2 608.7,313.5 609.0,315.3 609.3,313.1 609.6,314.9 609.9,311.5 610.2,313.1 610.5,313.1 610.8,310.5 611.0,317.0 611.3,311.7 611.6,315.1 611.9,319.5 612.2,314.3 612.5,316.3 612.8,311.3 613.0,317.3 613.3,316.0 613.6,315.7 613.9,321.7 614.2,315.3 614.5,319.6 614.8,313.3 615.0,312.8 615.3,317.6 615.6,322.1 615.9,317.5 616.2,317.7 616.5,316.4 616.8,319.4 617.1,322.1 617.3,319.4 617.6,321.7 617.9,314.5 618.2,321.5 618.5,321.5 618.8,320.0 619.1,323.4 619.3,321.3 619.6,320.6 619.9,321.6 620.2,321.0 620.5,316.8 620.8,319.0 621.1,323.8 621.3,321.2 621.6,317.8 621.9,321.5 622.2,319.3 622.5,319.4 622.8,317.7 623.1,319.4 623.3,319.1 623.6,320.8 623.9,317.2 624.2,320.5 624.5,312.9 624.8,317.5 625.1,317.9 625.4,315.0 625.6,317.3 625.9,316.8 626.2,317.1 626.5,319.0 626.8,319.6 627.1,319.0 627.4,313.9 627.6,319.0 627.9,318.4 628.2,318.7 628.5,315.6 628.8,312.1 629.1,320.4 629.4,316.3 629.6,317.7 629.9,319.0 630.2,316.8 630.5,321.9 630.8,316.0 631.1,317.7 631.4,321.2 631.7,313.9 631.9,315.9 632.2,315.0 632.5,322.3 632.8,318.9 633.1,319.5 633.4,316.1 633.7,313.9 633.9,323.1 634.2,317.5 634.5,317.9 634.8,314.6 635.1,317.5 635.4,321.1 635.7,318.1 635.9,320.5 636.2,319.9 636.5,317.7 636.8,319.4 637.1,317.4 637.4,322.7 637.7,311.9 637.9,315.1 638.2,316.8 638.5,322.8 638.8,325.5 639.1,322.0 639.4,320.3 639.7,313.4 640.0,316.2 640.2,321.5 640.5,316.6 640.8,316.7 641.1,320.2 641.4,316.8 641.7,319.4 642.0,322.3 642.2,323.8 642.5,320.7 642.8,317.4 643.1,324.2 643.4,324.9 643.7,318.5 644.0,327.9 644.2,314.6 644.5,321.1 644.8,317.6 645.1,314.3 645.4,323.9 645.7,322.7 646.0,313.1 646.2,320.5 646.5,320.1 646.8,319.1 647.1,316.7 647.4,315.9 647.7,319.4 648.0,320.7 648.3,319.8 648.5,318.8 648.8,315.8 649.1,319.1 649.4,314.1 649.7,322.0 650.0,317.8 650.3,314.2 650.5,315.5 650.8,318.2 651.1,321.8 651.4,321.2 651.7,319.5 652.0,318.1 652.3,319.7 652.5,323.3 652.8,321.2 653.1,317.5 653.4,316.6 653.7,323.2 654.0,320.2 654.3,324.1 654.6,320.8 654.8,308.6 655.1,318.9 655.4,320.1 655.7,320.9 656.0,322.7 656.3,324.6 656.6,319.1 656.8,319.7 657.1,314.4 657.4,323.6 657.7,317.3 658.0,314.5 658.3,324.2 658.6,316.3 658.8,323.0 659.1,316.5 659.4,313.6 659.7,318.0 660.0,317.1 660.3,320.1 660.6,317.1 660.8,314.6 661.1,318.6 661.4,318.6 661.7,317.1 662.0,315.9 662.3,323.4 662.6,318.4 662.9,320.8 663.1,317.4 663.4,316.0 663.7,318.4 664.0,315.6 664.3,322.8 664.6,321.2 664.9,323.2 665.1,320.2 665.4,320.3 665.7,321.4 666.0,324.7 666.3,321.4 666.6,322.6 666.9,319.6 667.1,322.3 667.4,318.0 667.7,320.9 668.0,327.3 668.3,322.2 668.6,326.1 668.9,318.7 669.2,317.3 669.4,321.7 669.7,320.3 670.0,326.0 670.3,328.5 670.6,323.3 670.9,322.3 671.2,326.1 671.4,321.1 671.7,320.3 672.0,319.2 672.3,316.4 672.6,318.6 672.9,322.1 673.2,320.6 673.4,319.0 673.7,324.1 674.0,316.7 674.3,318.0 674.6,321.5 674.9,322.8 675.2,309.1 675.4,318.3 675.7,318.0 676.0,315.4 676.3,318.0 676.6,320.5 676.9,319.0 677.2,324.1 677.5,319.1 677.7,326.2 678.0,320.2 678.3,319.8 678.6,326.5 678.9,315.6 679.2,325.3 679.5,318.4 679.7,323.4 680.0,320.8" fill="none" stroke="#00f" stroke-width="4.9" stroke-linejoin="bevel"/>
<polyline points="680.0,320.8 680.3,323.9 680.6,314.0 680.9,318.6 681.2,316.2 681.5,319.4 681.7,319.6 682.0,321.3 682.3,322.4 682.6,319.7 682.9,321.0 683.2,321.9 683.5,325.6 683.8,322.1 684.0,319.1 684.3,322.3 684.6,319.5 684.9,320.8 685.2,323.3 685.5,322.7 685.8,321.9 686.0,320.2 686.3,319.9 686.6,315.2 686.9,322.0 687.2,324.9 687.5,316.1 687.8,319.6 688.0,318.5 688.3,310.0 688.6,313.5 688.9,316.4 689.2,315.5 689.5,318.3 689.8,315.9 690.0,321.2 690.3,321.9 690.6,321.5 690.9,315.3 691.2,315.8 691.5,323.2 691.8,317.9 692.1,322.6 692.3,319.1 692.6,324.0 692.9,320.2 693.2,324.0 693.5,324.9 693.8,324.4 694.1,324.0 694.3,326.6 694.6,329.2 694.9,319.3 695.2,326.0 695.5,330.4 695.8,331.7 696.1,333.1 696.3,325.7 696.6,318.9 696.9,328.1 697.2,323.4 697.5,327.9 697.8,317.8 698.1,319.8 698.3,319.5 698.6,315.8 698.9,314.5 699.2,316.3 699.5,321.3 699.8,323.6 700.1,322.7 700.4,325.0 700.6,313.4 700.9,320.0 701.2,319.1 701.5,319.0 701.8,313.2 702.1,321.8 702.4,316.3 702.6,319.4 702.9,321.0 703.2,327.0 703.5,317.9 703.8,323.5 704.1,322.7 704.4,320.6 704.6,321.1 704.9,317.8 705.2,323.7 705.5,320.9 705.8,320.5 706.1,321.2 706.4,318.9 706.7,321.9 706.9,316.8 707.2,323.0 707.5,325.2 707.8,320.4 708.1,316.1 708.4,321.5 708.7,321.7 708.9,320.6 709.2,318.8 709.5,319.9 709.8,318.2 710.1,324.9 710.4,314.2 710.7,317.3 710.9,322.1 711.2,314.7 711.5,317.9 711.8,314.5 712.1,323.5 712.4,314.2 712.7,319.7 712.9,327.0 713.2,317.8 713.5,321.6 713.8,324.3 714.1,321.9 714.4,328.0 714.7,319.8 715.0,322.8 715.2,323.4 715.5,318.0 715.8,323.0 716.1,325.7 716.4,327.0 716.7,324.4 717.0,320.8 717.2,326.7 717.5,328.4 717.8,322.0 718.1,325.0 718.4,325.4 718.7,318.2 719.0,329.4 719.2,324.5 719.5,331.0 719.8,325.8 720.1,322.6 720.4,320.5 720.7,328.3 721.0,320.8 721.3,320.7 721.5,323.4 721.8,314.3 722.1,322.3 722.4,325.1 722.7,320.3 723.0,327.9 723.3,316.0 723.5,317.8 723.8,322.4 724.1,318.8 724.4,319.0 724.7,314.1 725.0,322.8 725.3,325.0 725.5,327.5 725.8,321.5 726.1,325.9 726.4,321.1 726.7,319.1 727.0,322.1 727.3,323.9 727.5,316.7 727.8,321.6 728.1,320.2 728.4,317.8 728.7,325.6 729.0,324.4 729.3,312.6 729.6,321.9 729.8,325.0 730.1,322.3 730.4,323.5 730.7,325.8 731.0,323.1 731.3,321.8 731.6,321.8 731.8,320.0 732.1,327.9 732.4,327.1 732.7,319.2 733.0,323.5 733.3,317.7 733.6,320.9 733.8,326.8 734.1,320.0 734.4,325.4 734.7,320.9 735.0,317.4 735.3,314.1 735.6,321.6 735.9,318.8 736.1,320.0 736.4,318.1 736.7,329.7 737.0,322.0 737.3,319.5 737.6,318.7 737.9,322.9 738.1,317.3 738.4,316.3 738.7,319.9 739.0,320.9 739.3,321.4 739.6,319.7 739.9,316.1 740.1,315.0 740.4,322.1 740.7,323.8 741.0,323.4 741.3,317.2 741.6,320.0 741.9,319.8 742.1,319.3 742.4,319.7 742.7,321.5 743.0,324.9 743.3,323.4 743.6,320.9 743.9,320.0 744.2,322.7 744.4,323.0 744.7,316.7 745.0,323.3 745.3,321.0 745.6,323.0 745.9,325.1 746.2,327.5 746.4,324.2 746.7,325.3 747.0,319.4 747.3,326.6 747.6,324.1 747.9,320.4 748.2,323.2 748.4,321.1 748.7,320.0 749.0,328.9 749.3,324.6 749.6,326.6 749.9,318.4 750.2,323.7 750.4,321.6 750.7,317.4 751.0,324.8 751.3,323.3 751.6,322.1 751.9,324.6 752.2,319.2 752.5,320.8 752.7,320.2 753.0,323.7 753.3,325.1 753.6,325.3 753.9,325.4 754.2,330.1 754.5,323.0 754.7,321.5 755.0,324.6 755.3,326.4 755.6,324.6 755.9,324.1 756.2,323.8 756.5,318.6 756.7,328.1 757.0,323.8 757.3,322.6 757.6,324.7 757.9,325.8 758.2,328.5 758.5,326.9 758.8,322.0 759.0,319.2 759.3,326.6 759.6,322.3 759.9,322.0 760.2,320.0 760.5,322.6 760.8,321.8 761.0,320.0 761.3,327.3 761.6,322.9 761.9,329.3 762.2,330.0 762.5,325.8 762.8,328.4 763.0,321.0 763.3,319.2 763.6,323.9 763.9,323.3 764.2,323.6 764.5,323.6 764.8,322.1 765.0,321.1 765.3,323.9 765.6,324.9 765.9,323.8 766.2,318.8 766.5,323.0 766.8,316.1 767.1,322.0 767.3,316.0 767.6,325.2 767.9,323.3 768.2,318.9 768.5,318.8 768.8,321.1 769.1,313.1 769.3,320.2 769.6,319.4 769.9,322.6 770.2,314.5 770.5,317.5 770.8,319.1 771.1,326.7 771.3,319.4 771.6,322.5 771.9,319.4 772.2,317.6 772.5,323.7 772.8,320.2 773.1,317.9 773.4,320.6 773.6,322.4 773.9,325.2 774.2,323.8 774.5,326.1 774.8,317.8 775.1,321.1 775.4,326.0 775.6,321.6 775.9,326.4 776.2,333.9 776.5,317.6 776.8,317.9 777.1,327.8 777.4,325.3 777.6,322.1 777.9,324.6 778.2,326.7 778.5,325.7 778.8,325.1 779.1,326.6 779.4,324.1 779.6,326.0 779.9,328.2 780.2,325.6 780.5,332.0 780.8,320.6 781.1,332.5 781.4,326.4 781.7,324.9 781.9,324.6 782.2,325.2 782.5,321.4 782.8,330.2 783.1,326.2 783.4,325.3 783.7,327.6 783.9,327.9 784.2,320.8 784.5,328.2 784.8,327.2 785.1,326.3 785.4,326.0 785.7,324.5 785.9,325.8 786.2,323.6 786.5,324.5 786.8,323.2 787.1,319.9 787.4,328.1 787.7,318.9 788.0,326.8 788.2,322.7 788.5,324.7 788.8,326.5 789.1,332.8 789.4,319.6 789.7,328.6 790.0,328.8 790.2,322.0 790.5,325.8 790.8,319.1 791.1,320.0 791.4,323.7 791.7,325.5 792.0,323.7 792.2,331.5 792.5,326.0 792.8,326.2 793.1,328.6 793.4,326.0 793.7,332.4 794.0,323.6 794.2,322.2 794.5,331.8 794.8,326.4 795.1,321.0 795.4,325.2 795.7,330.5 796.0,330.2 796.3,323.2 796.5,319.4 796.8,330.3 797.1,326.0 797.4,329.1 797.7,327.2 798.0,325.0 798.3,326.4 798.5,328.8 798.8,318.4 799.1,326.9 799.4,327.1 799.7,322.4 800.0,326.7 800.3,327.7 800.5,323.6 800.8,331.4 801.1,325.0 801.4,324.3 801.7,326.1 802.0,329.7 802.3,329.6 802.5,336.5 802.8,331.0 803.1,330.0 803.4,328.3 803.7,331.6 804.0,334.0 804.3,336.1 804.6,333.5 804.8,333.1 805.1,329.2 805.4,333.9 805.7,335.9 806.0,334.5 806.3,335.9 806.6,334.9 806.8,342.3 807.1,339.8 807.4,338.1 807.7,331.6 808.0,333.4 808.3,332.3 808.6,328.1 808.8,336.2 809.1,327.6 809.4,330.2 809.7,334.1 810.0,325.5 810.3,336.4 810.6,335.0 810.9,331.3 811.1,328.8 811.4,330.9 811.7,338.3 812.0,331.2 812.3,330.4 812.6,320.3 812.9,324.8 813.1,329.6 813.4,334.3 813.7,328.9 814.0,334.8 814.3,329.7 814.6,329.2 814.9,332.3 815.1,329.9 815.4,332.2 815.7,333.3 816.0,325.3 816.3,329.0 816.6,332.5 816.9,334.3 817.1,330.7 817.4,329.2 817.7,328.0 818.0,325.5 818.3,329.3 818.6,335.2 818.9,322.9 819.2,326.1 819.4,327.2 819.7,325.0 820.0,335.7 820.3,331.1 820.6,331.4 820.9,324.6 821.2,333.6 821.4,330.0 821.7,322.7 822.0,325.9 822.3,329.7 822.6,320.8 822.9,333.1 823.2,326.1 823.4,328.8 823.7,325.9 824.0,329.1 824.3,331.4 824.6,327.6 824.9,333.8 825.2,326.9 825.5,330.5 825.7,326.1 826.0,331.8 826.3,333.1 826.6,329.4 826.9,326.5 827.2,339.8 827.5,331.6 827.7,330.0 828.0,338.4 828.3,336.6 828.6,330.9" fill="none" stroke="#00f" stroke-width="5.3" stroke-linejoin="bevel"/>
<polyline points="283.9,196.0 284.1,196.7 284.4,197.7 284.6,198.8 284.9,199.3 285.1,200.4 285.4,201.1 285.6,201.8" fill="none" stroke="#f00" stroke-width="2.4" stroke-dasharray="2.5 2.5"/>
<polyline points="285.6,201.8 285.9,202.8 286.1,203.8 286.4,204.3 286.6,205.1 286.9,206.0 287.1,206.9 287.4,207.4 287.6,208.5 287.9,209.5 288.1,210.5 288.4,211.3 288.6,212.3 288.9,213.3 289.1,214.5 289.3,215.2 289.6,216.1 289.8,216.8 290.1,217.3 290.3,218.1 290.6,218.7 290.8,219.4 291.1,219.9 291.3,220.1 291.6,220.5 291.8,220.6 292.1,220.7 292.3,220.6 292.6,220.6 292.8,220.2 293.1,220.5 293.3,220.7 293.6,220.4 293.8,220.7 294.1,220.4 294.3,220.4 294.5,219.9 294.8,220.8 295.0,220.6 295.3,220.6 295.5,220.5 295.8,220.4 296.0,220.9 296.3,220.8 296.5,220.6 296.8,220.4 297.0,221.0 297.3,221.1 297.5,220.4 297.8,220.5 298.0,220.5 298.3,221.0 298.5,220.9 298.8,220.8 299.0,220.7 299.3,220.9 299.5,220.9 299.7,220.6 300.0,221.0 300.2,221.1 300.5,221.1 300.7,221.1 301.0,221.0 301.2,221.1 301.5,221.2 301.7,220.7 302.0,221.0 302.2,221.2 302.5,220.8 302.7,221.3 303.0,221.2 303.2,221.2 303.5,221.4 303.7,221.4 304.0,221.3 304.2,221.8 304.5,221.5 304.7,221.4 304.9,221.4 305.2,221.5 305.4,221.0 305.7,221.5 305.9,221.8 306.2,221.9 306.4,221.9 306.7,221.9 306.9,222.2 307.2,221.7 307.4,222.5 307.7,222.1 307.9,222.2 308.2,222.8 308.4,222.3 308.7,222.4 308.9,222.8 309.2,222.0 309.4,222.5 309.6,222.9 309.9,223.0 310.1,223.2 310.4,223.0 310.6,223.1 310.9,223.7 311.1,223.7 311.4,223.7 311.6,223.7 311.9,223.8 312.1,224.0 312.4,223.7 312.6,223.8 312.9,224.2 313.1,225.1 313.4,224.6 313.6,224.5 313.9,224.9 314.2,225.0 314.5,225.3 314.8,226.0 315.0,226.6 315.3,225.7 315.6,226.3 315.9,226.2 316.2,226.7 316.5,226.9 316.8,226.5 317.0,227.7 317.3,227.5 317.6,228.1 317.9,227.9 318.2,228.0 318.5,228.2 318.8,228.6 319.0,229.4 319.3,229.0 319.6,229.0 319.9,229.2 320.2,229.0 320.5,229.9 320.8,230.7 321.1,230.7 321.3,230.7 321.6,230.6 321.9,231.6 322.2,231.1 322.5,231.4 322.8,232.2 323.1,231.8 323.3,232.6 323.6,232.5 323.9,232.8 324.2,232.8 324.5,233.6 324.8,233.1 325.1,234.4 325.3,233.8 325.6,234.1 325.9,233.4 326.2,234.0 326.5,234.6 326.8,235.0 327.1,234.8 327.4,235.3 327.6,234.3 327.9,236.6 328.2,235.6 328.5,236.9 328.8,235.6 329.1,236.6 329.4,235.8 329.6,236.9 329.9,236.4 330.2,237.0 330.5,236.8 330.8,237.5 331.1,239.1 331.4,238.3 331.6,238.9 331.9,238.0 332.2,238.4 332.5,238.9 332.8,238.9 333.1,239.2 333.4,239.8" fill="none" stroke="#f00" stroke-width="2.8" stroke-linejoin="bevel"/>
<polyline points="333.4,239.8 333.6,238.9 333.9,239.9 334.2,240.4 334.5,241.2 334.8,241.0 335.1,241.0 335.4,241.3 335.7,241.6 335.9,241.7 336.2,242.4 336.5,242.1 336.8,243.0 337.1,242.9 337.4,243.1 337.7,242.5 337.9,242.9 338.2,243.3 338.5,244.1 338.8,243.9 339.1,243.5 339.4,243.5 339.7,245.1 339.9,244.8 340.2,244.7 340.5,244.8 340.8,245.2 341.1,245.1 341.4,246.3 341.7,245.0 342.0,246.6 342.2,246.2 342.5,246.1 342.8,246.0 343.1,246.3 343.4,246.5 343.7,246.5 344.0,247.5 344.2,247.2 344.5,247.0 344.8,248.4 345.1,248.9 345.4,248.9 345.7,247.8 346.0,248.1 346.2,249.1 346.5,249.0 346.8,249.1 347.1,249.0 347.4,250.8 347.7,250.3 348.0,250.4 348.2,250.3 348.5,250.7 348.8,251.2 349.1,251.1 349.4,252.9 349.7,250.1 350.0,251.6 350.3,251.8 350.5,252.9 350.8,252.6 351.1,252.0 351.4,252.3 351.7,253.6 352.0,254.6 352.3,254.1 352.5,254.6 352.8,254.2 353.1,255.7 353.4,255.3 353.7,255.3 354.0,256.0 354.3,255.4 354.5,257.0 354.8,257.3 355.1,257.1 355.4,256.7 355.7,257.7 356.0,258.2 356.3,257.7 356.6,258.4 356.8,259.2 357.1,259.2 357.4,259.8 357.7,259.7 358.0,260.3 358.3,261.3 358.6,261.4 358.8,261.8 359.1,261.6 359.4,262.0 359.7,263.1 360.0,263.0 360.3,263.0 360.6,262.8 360.8,263.6 361.1,262.8 361.4,264.3 361.7,264.1 362.0,265.0 362.3,265.6 362.6,265.1 362.8,265.1 363.1,265.4 363.4,265.8 363.7,266.3 364.0,266.8 364.3,266.7 364.6,266.4 364.9,266.2 365.1,269.2 365.4,266.9 365.7,266.7 366.0,266.8 366.3,267.6 366.6,267.6 366.9,268.5 367.1,268.4 367.4,268.2 367.7,269.5 368.0,269.4 368.3,268.9 368.6,270.1 368.9,269.4 369.1,270.6 369.4,269.6 369.7,269.9 370.0,270.5 370.3,270.9 370.6,270.8 370.9,272.2 371.1,271.1 371.4,270.9 371.7,270.3 372.0,271.7 372.3,271.6 372.6,270.7 372.9,270.6 373.2,272.3 373.4,271.3 373.7,271.4 374.0,272.0 374.3,273.2 374.6,273.3 374.9,272.4 375.2,271.3 375.4,273.2 375.7,272.1 376.0,272.0 376.3,274.4 376.6,274.0 376.9,272.6 377.2,273.2 377.4,273.6 377.7,274.2 378.0,273.9 378.3,275.0 378.6,272.9 378.9,275.7 379.2,276.4 379.5,275.2 379.7,274.4 380.0,276.1 380.3,276.0 380.6,277.0 380.9,276.5 381.2,277.5 381.5,277.7 381.7,278.3 382.0,277.9 382.3,276.3 382.6,278.0 382.9,278.0" fill="none" stroke="#f00" stroke-width="3.3" stroke-linejoin="bevel"/>
<polyline points="382.9,278.0 383.2,276.6 383.5,279.0 383.7,279.4 384.0,278.4 384.3,279.9 384.6,278.8 384.9,278.3 385.2,280.1 385.5,279.8 385.7,278.2 386.0,280.4 386.3,280.2 386.6,279.6 386.9,280.1 387.2,280.6 387.5,278.8 387.8,280.6 388.0,280.0 388.3,280.7 388.6,280.7 388.9,281.8 389.2,280.1 389.5,281.4 389.8,280.2 390.0,282.3 390.3,282.0 390.6,281.4 390.9,281.9 391.2,282.7 391.5,282.5 391.8,283.7 392.0,282.7 392.3,285.1 392.6,283.0 392.9,282.1 393.2,282.6 393.5,282.8 393.8,283.9 394.1,283.2 394.3,284.0 394.6,283.8 394.9,283.9 395.2,286.7 395.5,283.1 395.8,283.6 396.1,283.3 396.3,284.9 396.6,283.6 396.9,283.9 397.2,286.3 397.5,286.0 397.8,284.6 398.1,285.4 398.3,285.0 398.6,285.7 398.9,284.0 399.2,287.2 399.5,286.9 399.8,286.8 400.1,287.3 400.3,286.8 400.6,286.5 400.9,287.9 401.2,286.5 401.5,285.8 401.8,286.1 402.1,285.4 402.4,286.3 402.6,287.4 402.9,285.8 403.2,286.8 403.5,285.7 403.8,287.6 404.1,289.3 404.4,288.5 404.6,287.2 404.9,286.9 405.2,287.6 405.5,286.5 405.8,288.4 406.1,288.0 406.4,286.5 406.6,287.3 406.9,287.3 407.2,286.1 407.5,286.5 407.8,288.3 408.1,287.4 408.4,289.2 408.7,287.7 408.9,287.4 409.2,289.4 409.5,286.4 409.8,286.0 410.1,287.5 410.4,287.2 410.7,286.7 410.9,288.3 411.2,287.2 411.5,287.9 411.8,289.8 412.1,289.3 412.4,289.1 412.7,287.6 412.9,288.6 413.2,287.8 413.5,289.3 413.8,290.2 414.1,287.0 414.4,286.5 414.7,288.9 414.9,289.6 415.2,288.3 415.5,290.7 415.8,289.9 416.1,291.2 416.4,289.4 416.7,289.7 417.0,290.5 417.2,290.8 417.5,291.7 417.8,291.1 418.1,289.1 418.4,290.7 418.7,289.1 419.0,291.3 419.2,290.6 419.5,291.0 419.8,290.8 420.1,289.8 420.4,292.7 420.7,289.9 421.0,290.0 421.2,290.8 421.5,290.8 421.8,291.2 422.1,290.3 422.4,291.0 422.7,292.0 423.0,291.1 423.3,290.3 423.5,291.1 423.8,291.5 424.1,291.5 424.4,292.3 424.7,292.4 425.0,293.9 425.3,292.3 425.5,291.1 425.8,292.6 426.1,293.2 426.4,291.4 426.7,292.2 427.0,292.3 427.3,292.0 427.5,291.8 427.8,292.6 428.1,293.4 428.4,290.7 428.7,292.5 429.0,293.4 429.3,292.4 429.5,291.3 429.8,294.1 430.1,291.2 430.4,292.7 430.7,290.5 431.0,291.9 431.3,292.8 431.6,291.4 431.8,291.4 432.1,293.2 432.4,292.7" fill="none" stroke="#f00" stroke-width="3.7" stroke-linejoin="bevel"/>
<polyline points="432.4,292.7 432.7,293.6 433.0,292.1 433.3,294.8 433.6,293.6 433.8,295.9 434.1,293.1 434.4,296.3 434.7,295.2 435.0,293.9 435.3,294.7 435.6,295.0 435.8,295.7 436.1,295.3 436.4,296.9 436.7,294.7 437.0,294.2 437.3,294.4 437.6,295.4 437.8,294.1 438.1,295.1 438.4,294.6 438.7,295.3 439.0,295.8 439.3,296.8 439.6,298.9 439.9,295.3 440.1,296.2 440.4,293.9 440.7,298.4 441.0,295.2 441.3,297.2 441.6,296.2 441.9,297.2 442.1,295.8 442.4,296.2 442.7,295.2 443.0,296.0 443.3,295.7 443.6,294.8 443.9,295.7 444.1,296.6 444.4,295.1 444.7,296.7 445.0,296.3 445.3,297.3 445.6,297.8 445.9,300.8 446.2,296.7 446.4,299.1 446.7,297.1 447.0,296.1 447.3,300.0 447.6,297.7 447.9,299.1 448.2,298.8 448.4,301.0 448.7,299.7 449.0,299.8 449.3,298.5 449.6,297.8 449.9,300.2 450.2,301.1 450.4,298.2 450.7,301.1 451.0,301.1 451.3,301.0 451.6,300.7 451.9,300.4 452.2,302.0 452.4,301.5 452.7,299.2 453.0,299.6 453.3,301.1 453.6,301.4 453.9,302.0 454.2,300.6 454.5,302.6 454.7,301.9 455.0,302.7 455.3,303.0 455.6,302.2 455.9,302.3 456.2,303.1 456.5,302.5 456.7,302.4 457.0,303.1 457.3,303.3 457.6,302.7 457.9,301.6 458.2,301.0 458.5,302.1 458.7,302.6 459.0,302.2 459.3,299.6 459.6,300.8 459.9,303.0 460.2,301.7 460.5,302.2 460.8,301.9 461.0,303.4 461.3,301.1 461.6,302.8 461.9,301.8 462.2,299.1 462.5,299.7 462.8,302.1 463.0,302.4 463.3,302.3 463.6,303.6 463.9,302.6 464.2,301.8 464.5,303.0 464.8,300.9 465.0,302.2 465.3,303.0 465.6,300.3 465.9,301.9 466.2,303.0 466.5,301.0 466.8,302.0 467.0,304.9 467.3,303.9 467.6,305.2 467.9,306.8 468.2,302.7 468.5,303.4 468.8,307.3 469.1,305.2 469.3,308.2 469.6,304.8 469.9,306.5 470.2,306.9 470.5,304.9 470.8,306.7 471.1,307.1 471.3,305.6 471.6,307.3 471.9,305.7 472.2,306.9 472.5,305.8 472.8,306.1 473.1,305.9 473.3,308.4 473.6,304.5 473.9,307.4 474.2,304.8 474.5,308.1 474.8,307.7 475.1,307.8 475.4,305.9 475.6,308.2 475.9,307.1 476.2,309.9 476.5,308.4 476.8,307.5 477.1,308.0 477.4,310.4 477.6,307.2 477.9,309.2 478.2,305.1 478.5,308.1 478.8,304.6 479.1,306.8 479.4,307.0 479.6,308.2 479.9,307.6 480.2,306.7 480.5,310.0 480.8,305.8 481.1,308.7 481.4,307.3 481.6,310.8 481.9,306.2" fill="none" stroke="#f00" stroke-width="4.0" stroke-linejoin="bevel"/>
<polyline points="481.9,306.2 482.2,305.8 482.5,306.4 482.8,306.3 483.1,307.3 483.4,306.6 483.7,305.1 483.9,307.5 484.2,306.3 484.5,306.0 484.8,307.5 485.1,306.9 485.4,307.0 485.7,308.1 485.9,304.0 486.2,308.2 486.5,305.2 486.8,306.2 487.1,310.7 487.4,307.5 487.7,306.4 487.9,306.8 488.2,309.4 488.5,307.7 488.8,309.9 489.1,309.8 489.4,308.7 489.7,308.1 489.9,306.1 490.2,308.0 490.5,307.0 490.8,310.4 491.1,310.5 491.4,309.6 491.7,306.3 492.0,311.0 492.2,311.4 492.5,309.3 492.8,307.5 493.1,311.8 493.4,309.8 493.7,311.5 494.0,307.3 494.2,308.5 494.5,309.1 494.8,309.6 495.1,309.9 495.4,309.3 495.7,310.4 496.0,310.8 496.2,311.1 496.5,309.4 496.8,310.7 497.1,308.1 497.4,312.6 497.7,308.7 498.0,308.7 498.3,307.8 498.5,310.0 498.8,312.0 499.1,311.2 499.4,308.1 499.7,310.4 500.0,310.6 500.3,310.9 500.5,310.2 500.8,310.6 501.1,312.7 501.4,311.3 501.7,309.0 502.0,308.4 502.3,310.9 502.5,311.6 502.8,308.8 503.1,311.3 503.4,312.9 503.7,311.3 504.0,310.1 504.3,308.9 504.5,312.1 504.8,310.5 505.1,311.9 505.4,309.6 505.7,311.0 506.0,311.0 506.3,313.0 506.6,312.0 506.8,312.0 507.1,317.1 507.4,310.2 507.7,311.6 508.0,312.0 508.3,312.2 508.6,311.6 508.8,311.3 509.1,313.8 509.4,311.5 509.7,311.5 510.0,311.7 510.3,314.1 510.6,312.0 510.8,313.8 511.1,311.2 511.4,309.7 511.7,310.4 512.0,312.4 512.3,312.7 512.6,312.7 512.9,311.3 513.1,312.8 513.4,312.6 513.7,315.7 514.0,313.0 514.3,312.8 514.6,312.3 514.9,309.4 515.1,313.4 515.4,313.3 515.7,310.1 516.0,312.6 516.3,311.2 516.6,310.6 516.9,310.7 517.1,311.9 517.4,309.2 517.7,308.2 518.0,312.2 518.3,311.0 518.6,309.1 518.9,310.9 519.1,312.3 519.4,311.4 519.7,309.4 520.0,312.4 520.3,310.5 520.6,310.3 520.9,312.1 521.2,310.2 521.4,310.1 521.7,309.7 522.0,309.9 522.3,313.9 522.6,310.1 522.9,310.6 523.2,310.0 523.4,313.1 523.7,310.2 524.0,311.2 524.3,313.7 524.6,309.8 524.9,313.2 525.2,313.7 525.4,311.5 525.7,313.2 526.0,311.7 526.3,312.8 526.6,312.0 526.9,311.2 527.2,312.7 527.5,311.3 527.7,311.4 528.0,314.3 528.3,311.6 528.6,312.0 528.9,312.9 529.2,311.3 529.5,310.5 529.7,312.1 530.0,315.8 530.3,312.7 530.6,313.7 530.9,314.0 531.2,313.0 531.5,314.1 531.7,310.9 532.0,313.2 532.3,313.6 532.6,312.4 532.9,312.4 533.2,311.8 533.5,312.7 533.7,313.9 534.0,313.7 534.3,317.7 534.6,316.6 534.9,312.6 535.2,315.1 535.5,311.6 535.8,311.9 536.0,317.2 536.3,314.8 536.6,310.7 536.9,317.2 537.2,315.4 537.5,316.7 537.8,316.9 538.0,317.2 538.3,316.9 538.6,315.8 538.9,318.6 539.2,316.6 539.5,318.8 539.8,316.8 540.0,317.3 540.3,319.3 540.6,317.8 540.9,319.3 541.2,319.5 541.5,316.1 541.8,321.1 542.0,317.0 542.3,316.6 542.6,318.8 542.9,315.7 543.2,315.9 543.5,319.5 543.8,316.2 544.1,316.1 544.3,318.0 544.6,315.6 544.9,315.1 545.2,317.5 545.5,319.5 545.8,315.2 546.1,317.0 546.3,318.5 546.6,316.1 546.9,319.4 547.2,315.7 547.5,312.3 547.8,319.8 548.1,313.9 548.3,316.2 548.6,315.2 548.9,316.0 549.2,313.1 549.5,314.2 549.8,315.4 550.1,316.3 550.4,314.7 550.6,311.8 550.9,315.9 551.2,313.0 551.5,313.1 551.8,317.2 552.1,311.7 552.4,313.7 552.6,309.7 552.9,310.6 553.2,314.1 553.5,314.0 553.8,315.5 554.1,316.2 554.4,312.4 554.6,314.3 554.9,314.7 555.2,314.3 555.5,312.8 555.8,312.4 556.1,314.2 556.4,314.5 556.6,314.0 556.9,310.5 557.2,318.0 557.5,316.4 557.8,313.5 558.1,314.1 558.4,312.1 558.7,311.9 558.9,310.7 559.2,315.7 559.5,313.1 559.8,314.7 560.1,312.4 560.4,313.9 560.7,312.6 560.9,315.5 561.2,313.9 561.5,315.1 561.8,314.7 562.1,315.2 562.4,316.3 562.7,312.5 562.9,314.1 563.2,312.7 563.5,316.7 563.8,318.5 564.1,316.2 564.4,315.4 564.7,313.7 565.0,313.3 565.2,313.1 565.5,312.5 565.8,314.0 566.1,315.2 566.4,316.8 566.7,314.1 567.0,316.3 567.2,316.8 567.5,314.2 567.8,314.9 568.1,313.7 568.4,316.6 568.7,313.0 569.0,314.5 569.2,315.5 569.5,316.5 569.8,317.1 570.1,317.6 570.4,312.4 570.7,317.7 571.0,313.9 571.2,315.5 571.5,316.2 571.8,316.0 572.1,315.4 572.4,313.5 572.7,314.3 573.0,315.4 573.3,318.1 573.5,318.9 573.8,312.1 574.1,317.6 574.4,318.7 574.7,313.7 575.0,318.7 575.3,314.5 575.5,314.2 575.8,315.6 576.1,314.3 576.4,318.9 576.7,318.7 577.0,316.8 577.3,316.5 577.5,316.8 577.8,315.9 578.1,318.3 578.4,321.1 578.7,316.3 579.0,317.7 579.3,315.8 579.6,313.5 579.8,317.4 580.1,316.6 580.4,319.5 580.7,316.1 581.0,317.3" fill="none" stroke="#f00" stroke-width="4.4" stroke-linejoin="bevel"/>
<polyline points="581.0,317.3 581.3,317.5 581.6,316.3 581.8,320.2 582.1,317.0 582.4,317.2 582.7,315.0 583.0,321.5 583.3,318.1 583.6,313.6 583.8,318.5 584.1,318.5 584.4,314.1 584.7,312.6 585.0,317.1 585.3,318.6 585.6,318.3 585.8,317.8 586.1,318.6 586.4,318.5 586.7,316.5 587.0,316.7 587.3,315.8 587.6,316.7 587.9,319.1 588.1,315.3 588.4,316.2 588.7,317.8 589.0,317.2 589.3,316.1 589.6,316.6 589.9,317.0 590.1,315.3 590.4,314.7 590.7,317.5 591.0,316.9 591.3,319.1 591.6,317.3 591.9,316.0 592.1,315.2 592.4,316.6 592.7,317.0 593.0,318.2 593.3,316.3 593.6,318.8 593.9,316.3 594.1,316.5 594.4,318.2 594.7,315.7 595.0,316.6 595.3,314.9 595.6,317.0 595.9,315.0 596.2,312.8 596.4,315.5 596.7,314.2 597.0,317.0 597.3,316.4 597.6,319.4 597.9,315.9 598.2,317.8 598.4,315.3 598.7,319.7 599.0,317.3 599.3,315.4 599.6,314.8 599.9,318.9 600.2,316.4 600.4,310.5 600.7,314.1 601.0,315.4 601.3,321.4 601.6,317.7 601.9,314.8 602.2,315.4 602.5,315.0 602.7,313.9 603.0,315.7 603.3,314.1 603.6,319.4 603.9,310.7 604.2,316.2 604.5,316.8 604.7,312.3 605.0,313.9 605.3,312.9 605.6,315.9 605.9,313.9 606.2,312.7 606.5,316.3 606.7,314.1 607.0,314.0 607.3,313.9 607.6,314.5 607.9,315.5 608.2,311.8 608.5,312.1 608.7,310.1 609.0,312.5 609.3,313.6 609.6,315.2 609.9,312.1 610.2,312.9 610.5,308.2 610.8,307.7 611.0,309.3 611.3,314.5 611.6,315.7 611.9,313.5 612.2,315.1 612.5,310.5 612.8,313.5 613.0,314.9 613.3,314.4 613.6,312.0 613.9,316.9 614.2,314.2 614.5,318.3 614.8,316.3 615.0,317.5 615.3,315.7 615.6,316.2 615.9,314.2 616.2,315.5 616.5,318.3 616.8,319.8 617.1,318.8 617.3,318.0 617.6,317.6 617.9,318.7 618.2,314.8 618.5,315.0 618.8,317.5 619.1,317.9 619.3,317.2 619.6,316.7 619.9,316.6 620.2,319.9 620.5,317.3 620.8,320.3 621.1,316.2 621.3,314.9 621.6,318.5 621.9,316.0 622.2,317.6 622.5,317.8 622.8,312.2 623.1,314.6 623.3,315.5 623.6,317.5 623.9,315.8 624.2,317.2 624.5,315.8 624.8,318.8 625.1,317.0 625.4,317.8 625.6,320.0 625.9,313.4 626.2,315.3 626.5,318.8 626.8,320.2 627.1,318.7 627.4,319.0 627.6,318.5 627.9,320.5 628.2,319.1 628.5,317.3 628.8,316.6 629.1,321.8 629.4,317.7 629.6,319.9 629.9,320.2 630.2,318.7 630.5,319.7 630.8,316.8 631.1,316.9 631.4,319.2 631.7,320.1 631.9,314.9 632.2,314.7 632.5,318.0 632.8,319.2 633.1,316.7 633.4,315.7 633.7,319.9 633.9,314.8 634.2,319.0 634.5,316.2 634.8,319.7 635.1,318.3 635.4,319.4 635.7,318.2 635.9,316.0 636.2,320.1 636.5,318.7 636.8,316.8 637.1,319.0 637.4,313.4 637.7,321.1 637.9,312.1 638.2,319.1 638.5,315.4 638.8,313.8 639.1,316.0 639.4,320.2 639.7,317.6 640.0,316.5 640.2,315.2 640.5,314.0 640.8,313.4 641.1,312.4 641.4,317.6 641.7,313.0 642.0,318.9 642.2,314.6 642.5,317.2 642.8,318.7 643.1,312.6 643.4,314.7 643.7,312.5 644.0,318.3 644.2,317.6 644.5,315.3 644.8,316.8 645.1,315.4 645.4,317.3 645.7,316.9 646.0,319.1 646.2,313.9 646.5,317.9 646.8,320.2 647.1,316.2 647.4,316.9 647.7,317.8 648.0,317.9 648.3,319.5 648.5,318.9 648.8,323.7 649.1,322.2 649.4,321.3 649.7,317.7 650.0,315.3 650.3,318.3 650.5,318.2 650.8,314.7 651.1,317.8 651.4,315.2 651.7,315.4 652.0,319.1 652.3,315.0 652.5,315.0 652.8,317.9 653.1,317.5 653.4,317.9 653.7,311.7 654.0,310.0 654.3,313.2 654.6,311.2 654.8,318.0 655.1,311.7 655.4,310.5 655.7,311.5 656.0,317.6 656.3,313.2 656.6,316.2 656.8,313.6 657.1,317.9 657.4,316.5 657.7,318.1 658.0,315.8 658.3,317.3 658.6,314.6 658.8,315.4 659.1,316.5 659.4,317.7 659.7,318.4 660.0,317.7 660.3,316.0 660.6,317.5 660.8,317.2 661.1,317.9 661.4,318.0 661.7,319.3 662.0,322.1 662.3,316.3 662.6,316.2 662.9,319.7 663.1,312.8 663.4,319.9 663.7,314.7 664.0,316.3 664.3,316.0 664.6,313.9 664.9,314.3 665.1,316.3 665.4,318.7 665.7,319.0 666.0,315.5 666.3,312.2 666.6,313.7 666.9,315.9 667.1,315.0 667.4,314.1 667.7,311.7 668.0,317.6 668.3,314.1 668.6,315.2 668.9,317.8 669.2,318.4 669.4,313.1 669.7,315.4 670.0,316.8 670.3,316.1 670.6,314.1 670.9,316.3 671.2,312.7 671.4,317.2 671.7,318.4 672.0,316.7 672.3,318.6 672.6,317.1 672.9,313.1 673.2,311.7 673.4,314.1 673.7,314.9 674.0,317.3 674.3,317.3 674.6,313.8 674.9,314.0 675.2,315.6 675.4,315.1 675.7,310.0 676.0,311.2 676.3,313.3 676.6,312.7 676.9,310.1 677.2,312.3 677.5,312.5 677.7,317.0 678.0,317.3 678.3,317.9 678.6,318.9 678.9,313.6 679.2,312.9 679.5,316.1 679.7,313.1 680.0,313.3" fill="none" stroke="#f00" stroke-width="4.9" stroke-linejoin="bevel"/>
<polyline points="680.0,313.3 680.3,314.9 680.6,318.6 680.9,311.7 681.2,312.1 681.5,317.1 681.7,311.2 682.0,316.0 682.3,318.3 682.6,317.5 682.9,321.2 683.2,317.6 683.5,320.8 683.8,314.1 684.0,316.2 684.3,320.5 684.6,315.7 684.9,321.4 685.2,316.8 685.5,316.1 685.8,317.2 686.0,320.2 686.3,317.8 686.6,318.0 686.9,317.5 687.2,314.0 687.5,313.5 687.8,313.8 688.0,319.4 688.3,319.7 688.6,317.8 688.9,316.8 689.2,323.0 689.5,319.4 689.8,313.4 690.0,321.0 690.3,319.7 690.6,319.7 690.9,316.7 691.2,318.1 691.5,318.7 691.8,321.7 692.1,316.3 692.3,317.8 692.6,319.5 692.9,317.7 693.2,315.7 693.5,321.3 693.8,321.4 694.1,320.0 694.3,319.5 694.6,324.9 694.9,318.7 695.2,314.3 695.5,317.8 695.8,314.3 696.1,324.1 696.3,317.0 696.6,313.2 696.9,312.6 697.2,317.8 697.5,318.5 697.8,315.4 698.1,319.4 698.3,317.2 698.6,320.4 698.9,316.0 699.2,316.2 699.5,312.1 699.8,315.4 700.1,318.0 700.4,316.7 700.6,319.9 700.9,316.6 701.2,317.4 701.5,315.9 701.8,314.7 702.1,322.4 702.4,316.5 702.6,315.6 702.9,320.6 703.2,312.7 703.5,319.5 703.8,311.3 704.1,315.7 704.4,315.2 704.6,317.0 704.9,315.1 705.2,320.4 705.5,319.9 705.8,322.9 706.1,316.5 706.4,319.8 706.7,316.1 706.9,316.6 707.2,321.7 707.5,316.6 707.8,317.8 708.1,318.1 708.4,317.6 708.7,319.0 708.9,319.1 709.2,316.6 709.5,322.1 709.8,322.8 710.1,321.9 710.4,317.4 710.7,321.2 710.9,315.6 711.2,328.8 711.5,322.8 711.8,322.3 712.1,320.5 712.4,317.8 712.7,321.8 712.9,324.0 713.2,319.1 713.5,317.2 713.8,327.9 714.1,319.6 714.4,320.3 714.7,323.2 715.0,322.2 715.2,320.1 715.5,320.8 715.8,321.5 716.1,323.9 716.4,320.0 716.7,322.5 717.0,320.5 717.2,322.3 717.5,320.2 717.8,318.7 718.1,320.0 718.4,318.9 718.7,324.3 719.0,319.4 719.2,319.9 719.5,322.3 719.8,321.1 720.1,328.2 720.4,320.6 720.7,321.9 721.0,326.9 721.3,319.6 721.5,322.7 721.8,320.4 722.1,321.8 722.4,320.0 722.7,321.1 723.0,322.1 723.3,320.1 723.5,319.1 723.8,327.4 724.1,321.2 724.4,322.7 724.7,324.0 725.0,317.4 725.3,318.1 725.5,323.3 725.8,323.4 726.1,318.0 726.4,321.7 726.7,320.7 727.0,324.9 727.3,319.8 727.5,316.2 727.8,320.3 728.1,319.2 728.4,314.0 728.7,316.2 729.0,314.6 729.3,316.5 729.6,314.9 729.8,322.5 730.1,320.1 730.4,322.3 730.7,311.8 731.0,317.3 731.3,318.1 731.6,319.9 731.8,320.6 732.1,325.6 732.4,312.1 732.7,318.5 733.0,318.3 733.3,322.5 733.6,319.0 733.8,318.1 734.1,319.6 734.4,317.9 734.7,322.2 735.0,319.2 735.3,318.0 735.6,319.1 735.9,319.8 736.1,321.4 736.4,324.0 736.7,320.0 737.0,322.7 737.3,324.4 737.6,319.8 737.9,326.4 738.1,323.7 738.4,320.1 738.7,319.7 739.0,323.3 739.3,322.1 739.6,320.7 739.9,322.3 740.1,324.1 740.4,320.7 740.7,321.2 741.0,321.2 741.3,318.2 741.6,320.2 741.9,322.1 742.1,320.1 742.4,315.0 742.7,322.2 743.0,320.8 743.3,322.1 743.6,318.7 743.9,323.0 744.2,318.1 744.4,317.2 744.7,321.3 745.0,321.4 745.3,323.1 745.6,318.8 745.9,321.9 746.2,320.5 746.4,319.9 746.7,320.6 747.0,316.3 747.3,314.2 747.6,324.5 747.9,320.9 748.2,317.9 748.4,321.5 748.7,320.1 749.0,318.0 749.3,314.7 749.6,315.3 749.9,319.4 750.2,318.2 750.4,319.6 750.7,319.0 751.0,321.8 751.3,323.4 751.6,319.3 751.9,315.4 752.2,315.9 752.5,323.2 752.7,318.4 753.0,319.5 753.3,316.9 753.6,320.7 753.9,315.1 754.2,318.2 754.5,316.0 754.7,315.1 755.0,323.1 755.3,318.3 755.6,313.5 755.9,317.8 756.2,315.0 756.5,316.9 756.7,319.6 757.0,317.5 757.3,315.4 757.6,314.9 757.9,314.6 758.2,321.9 758.5,316.6 758.8,323.0 759.0,319.6 759.3,319.9 759.6,317.7 759.9,318.7 760.2,316.1 760.5,321.4 760.8,317.3 761.0,318.6 761.3,319.7 761.6,323.1 761.9,318.0 762.2,318.6 762.5,317.2 762.8,319.4 763.0,319.9 763.3,317.9 763.6,317.6 763.9,316.9 764.2,313.4 764.5,320.5 764.8,313.0 765.0,327.2 765.3,315.9 765.6,321.0 765.9,312.9 766.2,321.2 766.5,315.7 766.8,321.6 767.1,322.1 767.3,316.6 767.6,316.5 767.9,321.1 768.2,312.3 768.5,320.3 768.8,315.0 769.1,322.6 769.3,322.7 769.6,319.9 769.9,323.3 770.2,319.3 770.5,327.0 770.8,320.4 771.1,322.7 771.3,324.0 771.6,320.7 771.9,322.0 772.2,322.6 772.5,318.9 772.8,320.3 773.1,319.9 773.4,317.0 773.6,320.8 773.9,317.9 774.2,321.3 774.5,318.0 774.8,317.9 775.1,320.7 775.4,323.2 775.6,322.3 775.9,321.1 776.2,316.5 776.5,318.4 776.8,318.8 777.1,316.5 777.4,315.8 777.6,314.0 777.9,319.9 778.2,316.8 778.5,316.6 778.8,321.7 779.1,318.9 779.4,322.3 779.6,320.7 779.9,319.2 780.2,325.7 780.5,323.7 780.8,323.8 781.1,321.4 781.4,324.1 781.7,321.0 781.9,324.7 782.2,323.8 782.5,320.4 782.8,321.2 783.1,321.5 783.4,321.8 783.7,318.5 783.9,317.1 784.2,321.9 784.5,322.5 784.8,323.1 785.1,314.5 785.4,321.9 785.7,322.9 785.9,317.9 786.2,315.4 786.5,322.0 786.8,318.6 787.1,322.4 787.4,320.2 787.7,313.4 788.0,317.8 788.2,319.3 788.5,318.5 788.8,318.1 789.1,319.5 789.4,322.9 789.7,323.1 790.0,313.9 790.2,322.3 790.5,316.6 790.8,322.4 791.1,316.5 791.4,318.3 791.7,321.0 792.0,314.3 792.2,323.0 792.5,320.8 792.8,322.5 793.1,322.0 793.4,320.5 793.7,322.0 794.0,319.9 794.2,313.9 794.5,323.6 794.8,321.9 795.1,320.8 795.4,319.2 795.7,314.7 796.0,315.5 796.3,316.2 796.5,317.0 796.8,310.5 797.1,321.1 797.4,321.3 797.7,318.1 798.0,317.6 798.3,319.1 798.5,321.2 798.8,322.8 799.1,320.0 799.4,321.5 799.7,321.1 800.0,323.1 800.3,316.0 800.5,318.9 800.8,314.8 801.1,322.1 801.4,320.4 801.7,321.5 802.0,320.7 802.3,321.6 802.5,321.4 802.8,326.9 803.1,321.7 803.4,318.8 803.7,326.8 804.0,321.9 804.3,319.1 804.6,316.9 804.8,321.0 805.1,319.3 805.4,315.3 805.7,316.6 806.0,321.8 806.3,322.2 806.6,317.2 806.8,319.6 807.1,321.9 807.4,320.9 807.7,319.1 808.0,320.6 808.3,320.7 808.6,320.5 808.8,324.2 809.1,314.2 809.4,315.6 809.7,314.6 810.0,319.5 810.3,318.6 810.6,317.1 810.9,316.2 811.1,324.2 811.4,317.4 811.7,321.5 812.0,318.6 812.3,320.3 812.6,313.0 812.9,316.5 813.1,318.2 813.4,313.8 813.7,318.2 814.0,320.2 814.3,318.5 814.6,318.9 814.9,317.5 815.1,315.0 815.4,317.7 815.7,317.4 816.0,313.8 816.3,315.8 816.6,313.5 816.9,315.8 817.1,319.9 817.4,319.1 817.7,320.5 818.0,311.6 818.3,313.6 818.6,316.2 818.9,317.7 819.2,313.4 819.4,314.9 819.7,313.5 820.0,317.1 820.3,318.1 820.6,309.9 820.9,317.9 821.2,315.2 821.4,311.3 821.7,321.4 822.0,313.8 822.3,316.0 822.6,317.0 822.9,315.9 823.2,320.7 823.4,324.1 823.7,311.4 824.0,318.4 824.3,314.9 824.6,314.3 824.9,317.0 825.2,316.6 825.5,315.8 825.7,313.1 826.0,316.5 826.3,314.0 826.6,318.8 826.9,319.2 827.2,317.5 827.5,316.4 827.7,315.8 828.0,311.3 828.3,314.7 828.6,317.1" fill="none" stroke="#f00" stroke-width="5.3" stroke-linejoin="bevel"/>
<polyline points="283.9,449.0 284.1,448.5 284.4,447.8 284.6,446.6 284.9,445.9 285.1,445.1 285.4,444.0 285.6,443.0 285.9,442.2 286.1,441.7 286.4,440.3 286.6,439.2 286.9,438.3 287.1,436.9 287.4,435.5 287.6,434.5 287.9,433.3 288.1,431.2 288.4,430.3 288.6,429.0 288.9,427.2 289.1,425.7 289.3,424.5 289.6,422.8 289.8,421.7 290.1,420.5 290.3,419.0 290.6,417.6 290.8,416.6 291.1,415.2 291.3,414.0 291.6,412.1 291.8,411.6 292.1,409.8 292.3,408.8 292.6,407.4 292.8,405.7 293.1,404.1 293.3,402.4 293.6,400.9 293.8,399.3 294.1,397.4 294.3,395.2 294.5,393.2 294.8,390.9 295.0,389.1 295.3,386.8 295.5,384.5 295.8,382.6 296.0,380.8 296.3,378.5 296.5,376.4 296.8,373.5 297.0,371.9 297.3,369.3 297.5,367.4 297.8,365.1 298.0,363.3 298.3,361.7 298.5,359.9 298.8,358.1 299.0,356.4 299.3,355.0 299.5,353.5 299.7,351.7 300.0,351.4 300.2,349.6 300.5,348.7 300.7,347.2 301.0,345.9 301.2,345.0 301.5,343.6 301.7,343.2 302.0,341.3 302.2,340.8 302.5,339.4 302.7,338.5 303.0,338.3 303.2,336.8 303.5,335.5 303.7,334.2 304.0,333.6 304.2,332.7 304.5,332.3 304.7,330.6 304.9,329.6 305.2,329.3 305.4,328.6 305.7,328.2 305.9,326.6 306.2,325.3 306.4,325.1 306.7,324.2 306.9,323.6 307.2,323.4 307.4,321.9 307.7,322.0 307.9,321.0 308.2,320.1 308.4,319.2 308.7,318.7 308.9,318.0 309.2,317.7 309.4,317.3 309.6,316.2 309.9,315.8 310.1,315.3 310.4,314.7 310.6,313.8 310.9,313.6 311.1,312.9 311.4,312.4 311.6,311.1 311.9,310.5 312.1,309.3 312.4,310.0 312.6,309.2 312.9,308.1 313.1,307.9 313.4,307.4 313.6,306.1 313.9,306.3 314.2,306.0 314.5,305.4 314.8,304.2 315.0,303.6 315.3,303.7 315.6,302.9 315.9,301.8 316.2,301.2 316.5,301.1 316.8,300.0 317.0,299.5 317.3,299.8 317.6,298.7 317.9,297.8 318.2,297.6 318.5,297.7 318.8,296.4 319.0,295.5 319.3,294.6 319.6,295.5 319.9,293.1 320.2,294.0 320.5,292.7 320.8,292.1 321.1,291.7 321.3,291.5 321.6,291.6 321.9,290.3 322.2,290.4 322.5,290.7 322.8,288.0 323.1,288.4 323.3,287.5 323.6,288.2 323.9,286.7 324.2,286.2 324.5,285.7 324.8,285.9 325.1,286.0 325.3,285.1 325.6,285.5 325.9,284.9 326.2,283.6 326.5,283.7 326.8,282.9 327.1,282.4 327.4,281.1 327.6,280.9 327.9,281.1 328.2,280.1 328.5,280.6 328.8,279.9 329.1,278.9 329.4,279.5 329.6,278.7 329.9,278.7 330.2,277.7 330.5,276.6 330.8,277.3 331.1,276.5 331.4,276.6 331.6,276.4 331.9,276.1 332.2,274.5 332.5,273.7 332.8,274.2 333.1,274.4 333.4,273.4" fill="none" stroke="#00f" stroke-width="3.9" stroke-linejoin="bevel"/>
<polyline points="333.4,273.4 333.6,273.5 333.9,272.6 334.2,272.5 334.5,272.1 334.8,271.5 335.1,271.7 335.4,271.2 335.7,271.5 335.9,270.4 336.2,270.5 336.5,269.5 336.8,269.5 337.1,268.5 337.4,267.9 337.7,268.4 337.9,267.7 338.2,267.3 338.5,266.0 338.8,265.1 339.1,265.2 339.4,265.4 339.7,264.0 339.9,265.2 340.2,263.2 340.5,264.0 340.8,264.7 341.1,261.5 341.4,261.7 341.7,262.7 342.0,261.7 342.2,261.6 342.5,261.1 342.8,261.6 343.1,260.8 343.4,259.8 343.7,259.6 344.0,258.7 344.2,258.9 344.5,257.3 344.8,258.6 345.1,257.7 345.4,258.6 345.7,257.9 346.0,256.1 346.2,257.0 346.5,255.8 346.8,255.8 347.1,256.0 347.4,255.3 347.7,255.1 348.0,254.8 348.2,253.7 348.5,253.5 348.8,253.8 349.1,253.7 349.4,252.7 349.7,252.6 350.0,251.5 350.3,250.2 350.5,250.9 350.8,251.1 351.1,250.8 351.4,250.8 351.7,250.5 352.0,250.1 352.3,249.4 352.5,249.0 352.8,248.0 353.1,248.3 353.4,247.8 353.7,248.1 354.0,246.0 354.3,246.3 354.5,245.2 354.8,245.5 355.1,244.8 355.4,245.6 355.7,244.7 356.0,243.2 356.3,245.4 356.6,243.7 356.8,243.1 357.1,243.7 357.4,243.3 357.7,242.7 358.0,243.7 358.3,242.8 358.6,243.4 358.8,243.0 359.1,242.8 359.4,242.2 359.7,241.7 360.0,241.2 360.3,242.2 360.6,239.6 360.8,239.9 361.1,239.9 361.4,240.3 361.7,239.8 362.0,239.0 362.3,238.8 362.6,240.0 362.8,238.0 363.1,236.2 363.4,239.2 363.7,237.0 364.0,237.2 364.3,237.2 364.6,235.9 364.9,237.4 365.1,236.2 365.4,235.0 365.7,235.9 366.0,235.8 366.3,235.2 366.6,235.4 366.9,233.7 367.1,235.2 367.4,233.6 367.7,234.9 368.0,233.2 368.3,233.5 368.6,235.0 368.9,232.9 369.1,233.4 369.4,232.7 369.7,230.9 370.0,232.6 370.3,232.3 370.6,230.2 370.9,230.9 371.1,229.6 371.4,230.2 371.7,230.9 372.0,230.0 372.3,228.8 372.6,228.8 372.9,229.3 373.2,229.1 373.4,229.0 373.7,229.2 374.0,227.0 374.3,228.3 374.6,229.0 374.9,228.3 375.2,227.2 375.4,227.0 375.7,227.4 376.0,227.6 376.3,226.9 376.6,228.0 376.9,227.5 377.2,225.6 377.4,226.4 377.7,225.5 378.0,224.5 378.3,224.7 378.6,225.0 378.9,223.0 379.2,223.9 379.5,224.4 379.7,223.3 380.0,223.3 380.3,224.0 380.6,222.9 380.9,222.8 381.2,224.0 381.5,222.2 381.7,222.0 382.0,221.9 382.3,222.6 382.6,221.3 382.9,220.8" fill="none" stroke="#00f" stroke-width="4.2" stroke-linejoin="bevel"/>
<polyline points="382.9,220.8 383.2,220.4 383.5,221.2 383.7,219.5 384.0,220.8 384.3,219.7 384.6,218.3 384.9,219.7 385.2,219.3 385.5,217.8 385.7,218.8 386.0,218.5 386.3,217.9 386.6,216.9 386.9,219.5 387.2,218.1 387.5,218.0 387.8,217.9 388.0,217.5 388.3,217.3 388.6,216.1 388.9,216.9 389.2,215.8 389.5,215.4 389.8,216.2 390.0,215.3 390.3,213.8 390.6,214.8 390.9,215.5 391.2,214.9 391.5,215.5 391.8,214.4 392.0,213.8 392.3,215.2 392.6,214.6 392.9,213.4 393.2,214.8 393.5,214.1 393.8,215.1 394.1,214.9 394.3,214.6 394.6,212.1 394.9,214.3 395.2,214.3 395.5,214.2 395.8,213.6 396.1,212.8 396.3,213.0 396.6,211.1 396.9,212.5 397.2,211.2 397.5,212.0 397.8,211.5 398.1,213.0 398.3,211.6 398.6,211.3 398.9,211.2 399.2,212.6 399.5,209.6 399.8,210.5 400.1,210.2 400.3,209.8 400.6,209.5 400.9,208.7 401.2,210.0 401.5,209.5 401.8,208.2 402.1,208.1 402.4,208.4 402.6,208.4 402.9,208.5 403.2,207.6 403.5,206.3 403.8,208.3 404.1,205.7 404.4,206.2 404.6,207.2 404.9,205.9 405.2,207.9 405.5,208.0 405.8,207.4 406.1,206.4 406.4,206.1 406.6,206.1 406.9,205.4 407.2,207.3 407.5,204.6 407.8,206.2 408.1,205.3 408.4,204.9 408.7,205.4 408.9,205.4 409.2,204.8 409.5,203.6 409.8,202.8 410.1,202.7 410.4,204.0 410.7,203.7 410.9,203.6 411.2,202.1 411.5,204.4 411.8,201.0 412.1,202.7 412.4,202.9 412.7,201.6 412.9,200.9 413.2,201.5 413.5,200.7 413.8,201.6 414.1,200.4 414.4,200.4 414.7,201.7 414.9,200.0 415.2,201.3 415.5,201.3 415.8,202.2 416.1,201.5 416.4,200.3 416.7,202.4 417.0,200.3 417.2,200.5 417.5,200.5 417.8,202.9 418.1,200.6 418.4,199.6 418.7,200.9 419.0,199.9 419.2,202.3 419.5,198.9 419.8,200.1 420.1,198.2 420.4,200.9 420.7,198.0 421.0,198.7 421.2,197.4 421.5,199.0 421.8,198.4 422.1,195.1 422.4,198.1 422.7,197.8 423.0,197.1 423.3,197.7 423.5,195.2 423.8,194.4 424.1,196.9 424.4,197.9 424.7,194.6 425.0,194.6 425.3,194.9 425.5,194.4 425.8,196.6 426.1,195.9 426.4,197.2 426.7,197.3 427.0,194.7 427.3,196.5 427.5,193.4 427.8,195.8 428.1,196.7 428.4,195.2 428.7,194.1 429.0,195.6 429.3,197.5 429.5,195.8 429.8,194.6 430.1,196.7 430.4,197.0 430.7,195.0 431.0,195.9 431.3,197.2 431.6,196.3 431.8,196.7 432.1,195.4 432.4,195.5" fill="none" stroke="#00f" stroke-width="4.4" stroke-linejoin="bevel"/>
<polyline points="432.4,195.5 432.7,194.2 433.0,194.6 433.3,197.1 433.6,194.8 433.8,194.1 434.1,194.5 434.4,193.7 434.7,195.4 435.0,195.7 435.3,193.5 435.6,195.6 435.8,196.8 436.1,193.0 436.4,194.9 436.7,194.3 437.0,195.4 437.3,195.2 437.6,194.9 437.8,193.8 438.1,192.9 438.4,195.9 438.7,192.2 439.0,194.3 439.3,194.1 439.6,191.9 439.9,192.7 440.1,194.3 440.4,190.1 440.7,193.3 441.0,191.8 441.3,191.8 441.6,190.3 441.9,192.4 442.1,190.6 442.4,192.6 442.7,190.3 443.0,192.5 443.3,191.9 443.6,189.1 443.9,190.9 444.1,191.0 444.4,188.3 444.7,190.5 445.0,191.8 445.3,189.7 445.6,191.9 445.9,188.9 446.2,188.7 446.4,190.7 446.7,190.6 447.0,189.4 447.3,189.4 447.6,190.5 447.9,188.4 448.2,191.5 448.4,189.3 448.7,189.1 449.0,188.7 449.3,187.9 449.6,189.7 449.9,187.3 450.2,188.1 450.4,188.6 450.7,189.4 451.0,189.1 451.3,187.1 451.6,188.7 451.9,187.4 452.2,186.1 452.4,186.1 452.7,185.4 453.0,187.8 453.3,188.7 453.6,186.0 453.9,186.9 454.2,185.8 454.5,187.2 454.7,185.6 455.0,185.9 455.3,186.0 455.6,186.2 455.9,186.2 456.2,186.3 456.5,186.2 456.7,185.0 457.0,186.8 457.3,183.7 457.6,186.0 457.9,184.4 458.2,185.6 458.5,185.7 458.7,182.5 459.0,185.5 459.3,186.6 459.6,185.8 459.9,185.2 460.2,181.8 460.5,184.4 460.8,183.4 461.0,185.9 461.3,184.1 461.6,183.7 461.9,182.2 462.2,185.6 462.5,183.8 462.8,184.2 463.0,186.0 463.3,184.7 463.6,185.0 463.9,187.8 464.2,183.8 464.5,183.8 464.8,185.1 465.0,186.3 465.3,182.3 465.6,183.9 465.9,182.7 466.2,182.1 466.5,184.6 466.8,182.6 467.0,183.9 467.3,183.4 467.6,183.3 467.9,183.0 468.2,181.3 468.5,182.5 468.8,182.7 469.1,182.7 469.3,181.7 469.6,183.3 469.9,182.6 470.2,181.9 470.5,182.5 470.8,181.8 471.1,182.4 471.3,178.7 471.6,179.5 471.9,180.7 472.2,181.3 472.5,178.1 472.8,180.7 473.1,181.2 473.3,180.6 473.6,180.6 473.9,179.0 474.2,181.0 474.5,177.9 474.8,182.2 475.1,179.9 475.4,182.4 475.6,178.3 475.9,181.4 476.2,181.0 476.5,179.6 476.8,179.1 477.1,182.5 477.4,181.5 477.6,183.0 477.9,180.8 478.2,181.2 478.5,181.6 478.8,182.1 479.1,181.7 479.4,182.2 479.6,180.4 479.9,178.9 480.2,183.9 480.5,181.2 480.8,181.7 481.1,180.3 481.4,182.3 481.6,181.1 481.9,182.3" fill="none" stroke="#00f" stroke-width="4.6" stroke-linejoin="bevel"/>
<polyline points="481.9,182.3 482.2,179.7 482.5,180.5 482.8,180.8 483.1,180.0 483.4,180.8 483.7,182.6 483.9,179.3 484.2,179.7 484.5,180.3 484.8,178.5 485.1,178.1 485.4,181.4 485.7,180.8 485.9,177.3 486.2,177.4 486.5,180.5 486.8,181.1 487.1,180.2 487.4,179.9 487.7,181.4 487.9,178.9 488.2,180.7 488.5,180.5 488.8,177.2 489.1,179.5 489.4,178.5 489.7,177.3 489.9,176.9 490.2,178.6 490.5,177.9 490.8,179.1 491.1,175.2 491.4,176.8 491.7,179.4 492.0,177.7 492.2,176.6 492.5,176.9 492.8,174.8 493.1,175.5 493.4,178.5 493.7,177.8 494.0,179.6 494.2,177.3 494.5,177.4 494.8,173.5 495.1,177.5 495.4,180.8 495.7,178.6 496.0,177.4 496.2,179.4 496.5,178.8 496.8,177.9 497.1,176.7 497.4,177.4 497.7,178.4 498.0,175.6 498.3,177.6 498.5,177.4 498.8,178.6 499.1,177.5 499.4,175.2 499.7,178.6 500.0,176.0 500.3,174.7 500.5,176.3 500.8,175.2 501.1,177.2 501.4,173.3 501.7,173.6 502.0,174.9 502.3,177.9 502.5,176.8 502.8,173.5 503.1,172.3 503.4,174.5 503.7,172.9 504.0,175.8 504.3,175.1 504.5,174.8 504.8,174.1 505.1,177.2 505.4,173.3 505.7,172.7 506.0,176.6 506.3,177.0 506.6,174.3 506.8,176.0 507.1,178.8 507.4,173.7 507.7,174.9 508.0,175.9 508.3,171.9 508.6,175.1 508.8,176.6 509.1,175.3 509.4,177.2 509.7,176.8 510.0,175.0 510.3,176.6 510.6,176.4 510.8,173.0 511.1,174.2 511.4,174.3 511.7,174.7 512.0,174.7 512.3,173.0 512.6,175.3 512.9,172.1 513.1,176.6 513.4,175.3 513.7,177.0 514.0,175.1 514.3,173.6 514.6,171.9 514.9,175.2 515.1,174.0 515.4,174.4 515.7,174.9 516.0,175.5 516.3,173.3 516.6,176.2 516.9,173.0 517.1,173.0 517.4,174.0 517.7,174.5 518.0,175.0 518.3,169.4 518.6,174.6 518.9,169.7 519.1,171.2 519.4,172.6 519.7,173.8 520.0,170.0 520.3,168.8 520.6,173.0 520.9,171.8 521.2,169.4 521.4,170.5 521.7,167.6 522.0,171.7 522.3,169.8 522.6,172.7 522.9,167.0 523.2,171.6 523.4,174.1 523.7,170.5 524.0,170.5 524.3,167.0 524.6,170.9 524.9,170.3 525.2,169.4 525.4,167.8 525.7,170.6 526.0,168.9 526.3,169.8 526.6,171.3 526.9,170.7 527.2,170.9 527.5,172.6 527.7,169.0 528.0,173.5 528.3,169.1 528.6,169.5 528.9,171.2 529.2,172.3 529.5,171.3 529.7,170.0 530.0,169.4 530.3,170.1 530.6,168.8 530.9,171.3 531.2,169.8 531.5,172.7 531.7,168.6 532.0,169.5 532.3,170.3 532.6,167.4 532.9,168.0 533.2,174.0 533.5,168.9 533.7,171.4 534.0,166.9 534.3,164.3 534.6,169.4 534.9,168.3 535.2,168.8 535.5,167.8 535.8,167.2 536.0,166.1 536.3,170.1 536.6,165.6 536.9,170.0 537.2,167.9 537.5,166.3 537.8,167.1 538.0,170.0 538.3,169.6 538.6,169.1 538.9,168.4 539.2,166.2 539.5,170.5 539.8,167.3 540.0,167.0 540.3,167.0 540.6,167.1 540.9,165.2 541.2,167.0 541.5,166.3 541.8,166.8 542.0,164.6 542.3,171.1 542.6,165.4 542.9,168.1 543.2,168.2 543.5,169.4 543.8,171.0 544.1,168.3 544.3,168.9 544.6,166.8 544.9,170.4 545.2,165.2 545.5,167.4 545.8,168.4 546.1,169.3 546.3,169.5 546.6,170.2 546.9,169.3 547.2,168.5 547.5,169.0 547.8,171.4 548.1,169.5 548.3,170.8 548.6,169.1 548.9,166.2 549.2,168.6 549.5,170.5 549.8,173.0 550.1,172.8 550.4,173.4 550.6,169.1 550.9,171.9 551.2,170.5 551.5,171.8 551.8,170.6 552.1,168.2 552.4,172.0 552.6,171.3 552.9,172.1 553.2,169.0 553.5,172.3 553.8,172.4 554.1,172.7 554.4,172.5 554.6,168.8 554.9,164.7 555.2,171.0 555.5,167.2 555.8,168.1 556.1,170.3 556.4,168.5 556.6,168.2 556.9,168.7 557.2,163.6 557.5,170.5 557.8,166.1 558.1,166.0 558.4,167.6 558.7,166.2 558.9,164.8 559.2,166.1 559.5,165.6 559.8,165.1 560.1,170.2 560.4,163.8 560.7,162.4 560.9,164.9 561.2,165.0 561.5,169.6 561.8,167.4 562.1,168.8 562.4,168.5 562.7,165.8 562.9,169.3 563.2,168.2 563.5,171.7 563.8,168.6 564.1,168.3 564.4,170.0 564.7,170.1 565.0,165.3 565.2,171.3 565.5,171.0 565.8,170.7 566.1,166.9 566.4,165.2 566.7,168.6 567.0,170.6 567.2,170.0 567.5,167.2 567.8,170.9 568.1,166.4 568.4,166.5 568.7,169.1 569.0,168.0 569.2,167.9 569.5,166.4 569.8,171.4 570.1,167.2 570.4,170.3 570.7,171.1 571.0,169.6 571.2,170.2 571.5,171.8 571.8,173.1 572.1,171.9 572.4,167.4 572.7,166.6 573.0,169.2 573.3,168.3 573.5,171.7 573.8,171.0 574.1,170.4 574.4,173.2 574.7,173.1 575.0,171.0 575.3,171.9 575.5,173.4 575.8,170.6 576.1,171.8 576.4,169.3 576.7,171.2 577.0,171.6 577.3,170.7 577.5,171.1 577.8,171.9 578.1,171.3 578.4,168.8 578.7,168.8 579.0,167.4 579.3,173.0 579.6,170.2 579.8,170.0 580.1,168.7 580.4,169.7 580.7,169.6 581.0,166.8" fill="none" stroke="#00f" stroke-width="4.9" stroke-linejoin="bevel"/>
<polyline points="581.0,166.8 581.3,167.8 581.6,170.2 581.8,165.1 582.1,165.5 582.4,168.5 582.7,165.5 583.0,168.5 583.3,164.8 583.6,167.4 583.8,168.5 584.1,167.7 584.4,168.5 584.7,166.7 585.0,166.8 585.3,167.2 585.6,168.5 585.8,174.8 586.1,167.4 586.4,171.6 586.7,167.5 587.0,165.8 587.3,167.7 587.6,169.1 587.9,168.8 588.1,168.8 588.4,169.7 588.7,169.8 589.0,170.4 589.3,166.2 589.6,168.5 589.9,166.5 590.1,168.8 590.4,168.0 590.7,168.3 591.0,166.8 591.3,165.8 591.6,166.8 591.9,168.4 592.1,168.4 592.4,163.2 592.7,166.9 593.0,166.7 593.3,163.0 593.6,163.5 593.9,164.5 594.1,166.2 594.4,160.4 594.7,164.2 595.0,163.7 595.3,165.1 595.6,167.5 595.9,167.2 596.2,163.6 596.4,163.5 596.7,164.7 597.0,166.6 597.3,167.1 597.6,164.8 597.9,167.1 598.2,162.3 598.4,161.8 598.7,158.4 599.0,162.4 599.3,165.5 599.6,166.2 599.9,171.6 600.2,165.9 600.4,165.2 600.7,163.0 601.0,163.9 601.3,164.2 601.6,165.1 601.9,164.4 602.2,163.0 602.5,168.4 602.7,167.3 603.0,169.4 603.3,163.3 603.6,164.1 603.9,165.3 604.2,169.3 604.5,166.5 604.7,167.3 605.0,166.5 605.3,167.0 605.6,165.3 605.9,167.1 606.2,164.3 606.5,165.3 606.7,166.2 607.0,165.6 607.3,166.1 607.6,163.2 607.9,165.3 608.2,164.0 608.5,165.3 608.7,167.5 609.0,162.4 609.3,166.5 609.6,162.9 609.9,163.5 610.2,167.9 610.5,166.5 610.8,165.6 611.0,166.3 611.3,167.2 611.6,163.2 611.9,165.4 612.2,164.1 612.5,165.8 612.8,164.3 613.0,166.5 613.3,164.9 613.6,163.5 613.9,164.6 614.2,165.6 614.5,166.8 614.8,164.0 615.0,163.5 615.3,164.6 615.6,165.5 615.9,162.6 616.2,158.3 616.5,164.2 616.8,162.7 617.1,162.5 617.3,168.8 617.6,163.0 617.9,164.8 618.2,160.4 618.5,163.9 618.8,165.1 619.1,164.0 619.3,163.3 619.6,165.0 619.9,164.1 620.2,167.0 620.5,164.7 620.8,162.6 621.1,160.2 621.3,163.0 621.6,164.0 621.9,162.1 622.2,162.5 622.5,161.1 622.8,162.4 623.1,165.0 623.3,164.2 623.6,164.4 623.9,164.1 624.2,164.3 624.5,166.4 624.8,169.3 625.1,166.1 625.4,169.0 625.6,164.3 625.9,164.4 626.2,167.9 626.5,162.6 626.8,162.0 627.1,163.5 627.4,159.9 627.6,159.2 627.9,165.7 628.2,160.5 628.5,161.6 628.8,161.4 629.1,160.0 629.4,163.3 629.6,162.7 629.9,162.9 630.2,162.5 630.5,160.8 630.8,163.5 631.1,162.4 631.4,158.6 631.7,159.8 631.9,158.7 632.2,163.6 632.5,161.1 632.8,160.6 633.1,159.4 633.4,160.9 633.7,157.6 633.9,160.0 634.2,160.1 634.5,160.3 634.8,159.0 635.1,161.9 635.4,158.6 635.7,160.3 635.9,161.3 636.2,161.8 636.5,160.9 636.8,160.0 637.1,160.4 637.4,161.9 637.7,160.9 637.9,162.8 638.2,160.4 638.5,163.5 638.8,168.2 639.1,160.7 639.4,163.5 639.7,166.5 640.0,164.4 640.2,166.0 640.5,159.3 640.8,162.9 641.1,167.6 641.4,162.8 641.7,164.9 642.0,159.6 642.2,166.3 642.5,169.0 642.8,163.7 643.1,164.7 643.4,164.8 643.7,168.7 644.0,162.9 644.2,160.0 644.5,168.1 644.8,161.0 645.1,164.9 645.4,158.1 645.7,162.3 646.0,163.6 646.2,160.5 646.5,161.6 646.8,164.0 647.1,160.9 647.4,163.5 647.7,166.3 648.0,157.3 648.3,162.6 648.5,163.0 648.8,160.7 649.1,164.9 649.4,164.3 649.7,162.2 650.0,162.1 650.3,160.6 650.5,158.0 650.8,161.6 651.1,159.2 651.4,158.8 651.7,162.6 652.0,159.5 652.3,162.1 652.5,157.4 652.8,158.8 653.1,159.8 653.4,162.9 653.7,159.5 654.0,161.5 654.3,158.1 654.6,160.0 654.8,161.6 655.1,157.5 655.4,158.0 655.7,161.0 656.0,156.9 656.3,160.4 656.6,160.4 656.8,159.4 657.1,161.6 657.4,160.9 657.7,160.4 658.0,156.5 658.3,156.7 658.6,160.9 658.8,156.6 659.1,160.6 659.4,159.7 659.7,158.5 660.0,160.0 660.3,155.0 660.6,160.2 660.8,163.6 661.1,157.7 661.4,161.8 661.7,161.6 662.0,167.9 662.3,158.5 662.6,158.9 662.9,158.9 663.1,158.4 663.4,156.6 663.7,160.6 664.0,158.2 664.3,162.0 664.6,160.9 664.9,157.3 665.1,158.7 665.4,162.6 665.7,158.4 666.0,159.4 666.3,160.8 666.6,157.6 666.9,159.4 667.1,162.1 667.4,160.9 667.7,154.0 668.0,161.7 668.3,157.6 668.6,156.6 668.9,156.5 669.2,161.0 669.4,158.8 669.7,157.7 670.0,156.2 670.3,159.7 670.6,161.0 670.9,155.8 671.2,155.6 671.4,157.5 671.7,160.0 672.0,157.8 672.3,158.7 672.6,157.1 672.9,162.4 673.2,159.3 673.4,160.2 673.7,162.7 674.0,159.7 674.3,160.3 674.6,161.6 674.9,159.8 675.2,164.4 675.4,161.2 675.7,160.1 676.0,160.5 676.3,158.6 676.6,164.2 676.9,164.9 677.2,160.6 677.5,160.0 677.7,155.9 678.0,159.4 678.3,162.8 678.6,158.5 678.9,162.2 679.2,163.5 679.5,153.2 679.7,158.4 680.0,157.1" fill="none" stroke="#00f" stroke-width="5.2" stroke-linejoin="bevel"/>
<polyline points="680.0,157.1 680.3,157.2 680.6,153.7 680.9,157.1 681.2,154.5 681.5,159.7 681.7,160.4 682.0,153.2 682.3,153.0 682.6,155.2 682.9,155.9 683.2,156.0 683.5,158.2 683.8,152.8 684.0,155.1 684.3,155.7 684.6,156.2 684.9,154.8 685.2,156.4 685.5,156.1 685.8,161.1 686.0,157.2 686.3,153.3 686.6,160.2 686.9,159.5 687.2,157.1 687.5,157.0 687.8,158.0 688.0,163.6 688.3,158.3 688.6,162.5 688.9,161.6 689.2,158.1 689.5,160.0 689.8,157.1 690.0,151.0 690.3,156.6 690.6,156.4 690.9,160.1 691.2,159.1 691.5,159.8 691.8,158.1 692.1,159.2 692.3,157.8 692.6,156.3 692.9,158.0 693.2,158.8 693.5,158.5 693.8,153.8 694.1,154.7 694.3,152.2 694.6,152.2 694.9,155.7 695.2,153.2 695.5,158.6 695.8,149.4 696.1,152.2 696.3,156.0 696.6,158.5 696.9,154.8 697.2,160.6 697.5,158.0 697.8,154.2 698.1,156.0 698.3,157.5 698.6,153.9 698.9,159.0 699.2,155.6 699.5,157.5 699.8,158.4 700.1,154.9 700.4,158.5 700.6,150.9 700.9,157.1 701.2,150.3 701.5,157.9 701.8,153.3 702.1,157.7 702.4,157.9 702.6,153.9 702.9,152.4 703.2,157.4 703.5,151.0 703.8,156.2 704.1,153.8 704.4,153.3 704.6,152.9 704.9,159.2 705.2,150.7 705.5,153.7 705.8,156.6 706.1,158.4 706.4,160.5 706.7,160.0 706.9,155.4 707.2,158.0 707.5,160.4 707.8,159.1 708.1,154.0 708.4,159.2 708.7,160.1 708.9,155.3 709.2,157.8 709.5,159.0 709.8,160.9 710.1,163.4 710.4,162.5 710.7,160.8 710.9,160.2 711.2,158.7 711.5,158.3 711.8,159.1 712.1,159.2 712.4,162.4 712.7,165.4 712.9,161.1 713.2,162.3 713.5,161.5 713.8,160.6 714.1,163.1 714.4,162.8 714.7,160.1 715.0,159.5 715.2,161.5 715.5,158.4 715.8,160.2 716.1,162.1 716.4,159.2 716.7,154.2 717.0,160.7 717.2,155.7 717.5,154.9 717.8,154.4 718.1,160.3 718.4,152.5 718.7,157.3 719.0,158.0 719.2,157.6 719.5,155.1 719.8,156.3 720.1,156.6 720.4,152.5 720.7,157.6 721.0,158.2 721.3,153.0 721.5,153.1 721.8,151.8 722.1,157.4 722.4,151.5 722.7,152.9 723.0,149.3 723.3,157.2 723.5,153.2 723.8,154.5 724.1,157.9 724.4,155.5 724.7,150.5 725.0,154.7 725.3,155.3 725.5,151.0 725.8,150.6 726.1,150.6 726.4,155.2 726.7,153.2 727.0,150.2 727.3,154.6 727.5,154.8 727.8,150.4 728.1,148.4 728.4,155.6 728.7,159.4 729.0,156.2 729.3,154.9 729.6,152.4 729.8,150.2 730.1,152.2 730.4,153.5 730.7,151.0 731.0,153.9 731.3,151.2 731.6,152.7 731.8,143.6 732.1,148.5 732.4,152.8 732.7,153.2 733.0,151.6 733.3,154.8 733.6,152.3 733.8,152.3 734.1,147.9 734.4,151.6 734.7,152.6 735.0,154.2 735.3,153.9 735.6,151.1 735.9,151.7 736.1,148.2 736.4,153.2 736.7,148.8 737.0,151.2 737.3,152.1 737.6,157.8 737.9,156.1 738.1,150.8 738.4,149.3 738.7,152.8 739.0,151.5 739.3,155.0 739.6,155.1 739.9,156.1 740.1,151.8 740.4,153.7 740.7,155.4 741.0,155.8 741.3,153.5 741.6,154.2 741.9,157.4 742.1,150.4 742.4,154.4 742.7,155.1 743.0,151.1 743.3,152.4 743.6,155.5 743.9,153.8 744.2,158.2 744.4,157.0 744.7,161.5 745.0,151.8 745.3,160.3 745.6,153.1 745.9,157.1 746.2,157.3 746.4,154.9 746.7,153.4 747.0,152.3 747.3,148.8 747.6,152.5 747.9,150.9 748.2,154.8 748.4,151.0 748.7,152.4 749.0,154.0 749.3,152.8 749.6,152.5 749.9,151.6 750.2,150.9 750.4,153.2 750.7,153.7 751.0,149.4 751.3,156.1 751.6,153.0 751.9,146.8 752.2,158.6 752.5,152.9 752.7,148.9 753.0,155.4 753.3,143.5 753.6,158.0 753.9,146.6 754.2,146.2 754.5,148.0 754.7,151.1 755.0,149.4 755.3,152.8 755.6,147.9 755.9,153.2 756.2,150.6 756.5,146.9 756.7,152.7 757.0,150.4 757.3,148.8 757.6,152.9 757.9,145.7 758.2,148.0 758.5,153.3 758.8,149.2 759.0,151.4 759.3,151.3 759.6,149.4 759.9,151.8 760.2,147.2 760.5,152.2 760.8,147.6 761.0,150.7 761.3,148.3 761.6,152.4 761.9,152.5 762.2,154.5 762.5,149.8 762.8,148.9 763.0,145.7 763.3,148.2 763.6,151.3 763.9,152.8 764.2,151.1 764.5,152.3 764.8,148.1 765.0,149.6 765.3,154.6 765.6,154.2 765.9,148.2 766.2,151.2 766.5,152.7 766.8,148.5 767.1,153.0 767.3,152.7 767.6,153.2 767.9,157.5 768.2,149.4 768.5,155.4 768.8,153.6 769.1,154.1 769.3,150.0 769.6,152.4 769.9,152.3 770.2,157.4 770.5,153.0 770.8,157.2 771.1,152.2 771.3,152.2 771.6,153.5 771.9,147.7 772.2,152.3 772.5,152.3 772.8,153.8 773.1,155.0 773.4,151.8 773.6,151.6 773.9,158.8 774.2,152.1 774.5,153.9 774.8,152.7 775.1,154.3 775.4,159.5 775.6,159.4 775.9,150.8 776.2,155.5 776.5,160.5 776.8,155.5 777.1,157.6 777.4,162.0 777.6,163.4 777.9,161.4 778.2,155.9 778.5,156.9 778.8,157.4 779.1,155.8 779.4,154.8 779.6,162.6 779.9,157.1 780.2,158.5 780.5,159.5 780.8,157.2 781.1,155.7 781.4,155.8 781.7,159.0 781.9,155.9 782.2,148.2 782.5,156.9 782.8,158.4 783.1,152.2 783.4,151.0 783.7,151.0 783.9,155.4 784.2,148.8 784.5,153.9 784.8,154.7 785.1,152.9 785.4,151.2 785.7,148.7 785.9,148.8 786.2,150.7 786.5,147.8 786.8,150.3 787.1,147.9 787.4,154.8 787.7,155.4 788.0,148.4 788.2,154.9 788.5,151.8 788.8,151.2 789.1,152.4 789.4,152.4 789.7,146.9 790.0,158.7 790.2,148.6 790.5,144.4 790.8,151.2 791.1,151.3 791.4,149.1 791.7,145.8 792.0,154.9 792.2,151.2 792.5,152.1 792.8,149.9 793.1,151.2 793.4,149.8 793.7,153.2 794.0,151.9 794.2,154.3 794.5,154.4 794.8,153.1 795.1,153.3 795.4,156.6 795.7,148.6 796.0,154.0 796.3,158.0 796.5,150.7 796.8,156.4 797.1,152.7 797.4,154.4 797.7,153.5 798.0,153.7 798.3,155.9 798.5,153.8 798.8,147.6 799.1,160.3 799.4,153.0 799.7,151.5 800.0,155.6 800.3,156.1 800.5,144.9 800.8,152.1 801.1,144.2 801.4,148.4 801.7,149.3 802.0,147.5 802.3,146.5 802.5,144.4 802.8,146.3 803.1,146.8 803.4,146.4 803.7,142.5 804.0,143.9 804.3,149.3 804.6,148.1 804.8,145.0 805.1,147.9 805.4,147.2 805.7,149.1 806.0,147.1 806.3,145.2 806.6,143.7 806.8,146.9 807.1,140.9 807.4,147.8 807.7,138.1 808.0,145.2 808.3,147.1 808.6,150.5 808.8,158.0 809.1,150.0 809.4,149.3 809.7,144.2 810.0,154.6 810.3,144.6 810.6,151.4 810.9,148.5 811.1,158.6 811.4,150.3 811.7,151.7 812.0,148.5 812.3,150.2 812.6,153.9 812.9,147.3 813.1,148.0 813.4,148.1 813.7,146.7 814.0,146.4 814.3,149.8 814.6,154.0 814.9,154.1 815.1,145.7 815.4,147.7 815.7,149.8 816.0,151.6 816.3,150.4 816.6,150.6 816.9,152.0 817.1,153.4 817.4,144.7 817.7,151.0 818.0,153.9 818.3,156.3 818.6,154.6 818.9,150.2 819.2,150.2 819.4,153.3 819.7,152.5 820.0,153.5 820.3,155.9 820.6,148.2 820.9,150.9 821.2,144.1 821.4,154.0 821.7,151.8 822.0,148.3 822.3,151.5 822.6,154.9 822.9,153.3 823.2,149.8 823.4,148.9 823.7,150.3 824.0,146.8 824.3,146.9 824.6,149.2 824.9,150.3 825.2,151.4 825.5,149.1 825.7,148.2 826.0,151.2 826.3,150.2 826.6,152.9 826.9,156.5 827.2,155.4 827.5,150.0 827.7,151.2 828.0,147.7 828.3,152.6 828.6,150.2" fill="none" stroke="#00f" stroke-width="5.6" stroke-linejoin="bevel"/>
<polyline points="283.9,493.5 284.1,491.8 284.4,489.1 284.6,487.2 284.9,485.1 285.1,483.1 285.4,480.8 285.6,478.5 285.9,476.2 286.1,473.9 286.4,471.9 286.6,469.2 286.9,466.9 287.1,464.5 287.4,461.9 287.6,458.8 287.9,455.9 288.1,453.5 288.4,449.9 288.6,447.0 288.9,444.5 289.1,441.5 289.3,438.6 289.6,435.5 289.8,433.1 290.1,430.5 290.3,427.5 290.6,425.3 290.8,422.1 291.1,419.2 291.3,416.7 291.6,413.9 291.8,411.4 292.1,408.8 292.3,406.4 292.6,404.1 292.8,401.5 293.1,399.1 293.3,396.5 293.6,394.0 293.8,391.9 294.1,389.7 294.3,387.3 294.5,384.8 294.8,382.0 295.0,379.9 295.3,377.6 295.5,375.4 295.8,372.7 296.0,370.5 296.3,368.3 296.5,366.1 296.8,363.5 297.0,361.8 297.3,359.3 297.5,357.3 297.8,355.7 298.0,353.5 298.3,352.0 298.5,350.4 298.8,348.6 299.0,347.1 299.3,345.2 299.5,343.9 299.7,342.5 300.0,341.1 300.2,340.9 300.5,338.7 300.7,338.1 301.0,336.4 301.2,335.5 301.5,334.0 301.7,332.5 302.0,332.3 302.2,330.6 302.5,329.6 302.7,329.1 303.0,327.3 303.2,326.4 303.5,325.5 303.7,324.6 304.0,322.4 304.2,322.6 304.5,322.0 304.7,320.9 304.9,319.8 305.2,318.9 305.4,318.0 305.7,317.4 305.9,316.1 306.2,315.7 306.4,315.2 306.7,314.3 306.9,313.4 307.2,312.3 307.4,311.7 307.7,311.3 307.9,310.5 308.2,309.7 308.4,308.5 308.7,308.7 308.9,307.7 309.2,307.0 309.4,307.0 309.6,306.0 309.9,305.5 310.1,305.1 310.4,304.2 310.6,303.5 310.9,302.9 311.1,302.8 311.4,302.1 311.6,300.8 311.9,301.5 312.1,300.5 312.4,299.7 312.6,299.5 312.9,298.8 313.1,298.5 313.4,297.7 313.6,297.0 313.9,297.0 314.2,296.3 314.5,295.8 314.8,295.3 315.0,294.6 315.3,294.5 315.6,293.2 315.9,292.2 316.2,291.7 316.5,291.3 316.8,291.5 317.0,290.0 317.3,290.3 317.6,289.6 317.9,288.3 318.2,288.9 318.5,287.7 318.8,287.4 319.0,287.0 319.3,286.9 319.6,285.9 319.9,285.8 320.2,284.7 320.5,284.2 320.8,284.8 321.1,284.0 321.3,283.5 321.6,283.4 321.9,283.0 322.2,282.1 322.5,281.8 322.8,282.0 323.1,281.1 323.3,280.2 323.6,280.6 323.9,280.0 324.2,278.6 324.5,278.3 324.8,279.1 325.1,278.6 325.3,277.5 325.6,277.8 325.9,277.0 326.2,276.7 326.5,275.8 326.8,276.8 327.1,276.3 327.4,275.5 327.6,274.2 327.9,274.4 328.2,274.7 328.5,273.4 328.8,272.9 329.1,273.0 329.4,272.7 329.6,272.0 329.9,271.3 330.2,271.4 330.5,270.9 330.8,270.8 331.1,270.5 331.4,270.4 331.6,269.5 331.9,269.4 332.2,269.0 332.5,268.1 332.8,268.0 333.1,267.4 333.4,268.3" fill="none" stroke="#f00" stroke-width="3.9" stroke-linejoin="bevel"/>
<polyline points="333.4,268.3 333.6,267.0 333.9,267.2 334.2,267.0 334.5,266.8 334.8,265.5 335.1,265.4 335.4,265.9 335.7,265.9 335.9,265.0 336.2,265.0 336.5,263.7 336.8,265.1 337.1,265.1 337.4,264.1 337.7,263.7 337.9,263.4 338.2,262.9 338.5,262.0 338.8,263.0 339.1,262.9 339.4,263.3 339.7,262.0 339.9,261.4 340.2,261.7 340.5,260.7 340.8,261.0 341.1,260.0 341.4,260.3 341.7,260.8 342.0,260.3 342.2,260.5 342.5,260.4 342.8,259.0 343.1,258.5 343.4,257.6 343.7,258.5 344.0,258.3 344.2,258.5 344.5,257.1 344.8,257.2 345.1,257.5 345.4,256.5 345.7,256.3 346.0,257.4 346.2,255.7 346.5,255.7 346.8,255.7 347.1,255.4 347.4,253.9 347.7,253.7 348.0,253.2 348.2,254.6 348.5,254.0 348.8,252.7 349.1,253.6 349.4,253.0 349.7,253.3 350.0,250.8 350.3,250.9 350.5,251.0 350.8,250.8 351.1,250.8 351.4,250.5 351.7,249.6 352.0,250.1 352.3,248.6 352.5,249.4 352.8,249.3 353.1,247.7 353.4,248.3 353.7,247.6 354.0,247.9 354.3,248.7 354.5,246.7 354.8,247.6 355.1,245.8 355.4,247.1 355.7,247.0 356.0,245.3 356.3,244.9 356.6,244.7 356.8,245.2 357.1,243.5 357.4,244.6 357.7,243.6 358.0,243.4 358.3,242.7 358.6,241.5 358.8,242.0 359.1,240.9 359.4,240.4 359.7,241.5 360.0,240.8 360.3,239.9 360.6,239.6 360.8,238.7 361.1,239.7 361.4,237.6 361.7,237.3 362.0,237.5 362.3,237.9 362.6,236.7 362.8,236.7 363.1,235.6 363.4,235.8 363.7,234.9 364.0,235.4 364.3,233.8 364.6,236.1 364.9,234.9 365.1,233.6 365.4,234.7 365.7,232.9 366.0,234.0 366.3,232.8 366.6,233.2 366.9,232.6 367.1,231.8 367.4,231.7 367.7,231.7 368.0,229.6 368.3,230.8 368.6,231.2 368.9,229.6 369.1,229.5 369.4,228.9 369.7,228.3 370.0,230.0 370.3,228.4 370.6,228.1 370.9,228.7 371.1,228.3 371.4,230.5 371.7,228.5 372.0,226.6 372.3,229.0 372.6,227.9 372.9,227.1 373.2,226.7 373.4,225.8 373.7,228.1 374.0,226.6 374.3,225.8 374.6,227.2 374.9,226.1 375.2,224.4 375.4,224.6 375.7,225.0 376.0,227.1 376.3,225.0 376.6,224.4 376.9,224.6 377.2,224.2 377.4,221.5 377.7,223.7 378.0,224.0 378.3,222.8 378.6,222.9 378.9,222.6 379.2,222.2 379.5,221.2 379.7,221.3 380.0,222.2 380.3,221.0 380.6,220.3 380.9,220.8 381.2,219.2 381.5,219.2 381.7,220.4 382.0,219.1 382.3,217.5 382.6,217.6 382.9,218.7" fill="none" stroke="#f00" stroke-width="4.2" stroke-linejoin="bevel"/>
<polyline points="382.9,218.7 383.2,217.7 383.5,218.7 383.7,219.1 384.0,217.3 384.3,217.4 384.6,217.0 384.9,217.3 385.2,216.8 385.5,217.4 385.7,216.4 386.0,216.0 386.3,216.6 386.6,215.8 386.9,217.8 387.2,216.9 387.5,214.9 387.8,214.6 388.0,215.7 388.3,215.9 388.6,216.8 388.9,215.3 389.2,214.8 389.5,216.6 389.8,214.7 390.0,214.6 390.3,214.5 390.6,215.7 390.9,214.1 391.2,215.6 391.5,212.9 391.8,213.9 392.0,214.8 392.3,212.4 392.6,212.4 392.9,213.7 393.2,211.0 393.5,213.6 393.8,212.3 394.1,211.3 394.3,214.1 394.6,211.0 394.9,211.8 395.2,211.5 395.5,212.2 395.8,210.8 396.1,211.9 396.3,211.6 396.6,210.9 396.9,211.4 397.2,208.7 397.5,211.1 397.8,210.4 398.1,209.9 398.3,209.4 398.6,208.5 398.9,208.3 399.2,209.1 399.5,209.0 399.8,208.5 400.1,207.6 400.3,207.5 400.6,208.4 400.9,209.7 401.2,205.7 401.5,206.6 401.8,207.1 402.1,206.9 402.4,207.6 402.6,207.9 402.9,207.2 403.2,207.0 403.5,207.2 403.8,207.9 404.1,206.8 404.4,205.8 404.6,206.8 404.9,206.2 405.2,208.1 405.5,206.2 405.8,206.0 406.1,206.9 406.4,207.3 406.6,205.1 406.9,206.1 407.2,204.7 407.5,205.4 407.8,204.2 408.1,204.9 408.4,205.9 408.7,204.3 408.9,204.3 409.2,203.2 409.5,204.1 409.8,203.8 410.1,202.4 410.4,202.0 410.7,202.2 410.9,201.8 411.2,202.2 411.5,201.8 411.8,201.6 412.1,201.9 412.4,202.2 412.7,202.0 412.9,199.7 413.2,202.0 413.5,202.2 413.8,202.3 414.1,201.9 414.4,201.5 414.7,202.9 414.9,203.7 415.2,201.3 415.5,203.1 415.8,201.1 416.1,201.1 416.4,200.0 416.7,199.3 417.0,200.5 417.2,201.2 417.5,201.7 417.8,201.1 418.1,200.1 418.4,202.1 418.7,199.6 419.0,199.5 419.2,198.6 419.5,199.4 419.8,198.8 420.1,199.5 420.4,199.0 420.7,200.3 421.0,198.1 421.2,196.5 421.5,197.8 421.8,197.4 422.1,198.7 422.4,196.0 422.7,198.2 423.0,196.4 423.3,197.0 423.5,198.0 423.8,195.8 424.1,196.7 424.4,196.4 424.7,196.0 425.0,196.4 425.3,196.7 425.5,195.6 425.8,196.4 426.1,195.8 426.4,196.4 426.7,197.2 427.0,196.1 427.3,195.7 427.5,195.0 427.8,193.5 428.1,196.5 428.4,194.3 428.7,196.7 429.0,195.2 429.3,194.4 429.5,196.2 429.8,195.6 430.1,193.2 430.4,193.2 430.7,193.3 431.0,194.0 431.3,190.5 431.6,193.1 431.8,193.8 432.1,190.8 432.4,192.0" fill="none" stroke="#f00" stroke-width="4.4" stroke-linejoin="bevel"/>
<polyline points="432.4,192.0 432.7,193.0 433.0,191.2 433.3,192.3 433.6,191.7 433.8,192.2 434.1,193.6 434.4,191.2 434.7,192.1 435.0,193.4 435.3,193.0 435.6,191.0 435.8,192.4 436.1,191.8 436.4,191.0 436.7,191.5 437.0,193.4 437.3,190.7 437.6,190.3 437.8,190.3 438.1,189.3 438.4,190.7 438.7,190.1 439.0,189.1 439.3,191.3 439.6,188.8 439.9,188.8 440.1,189.9 440.4,188.6 440.7,189.8 441.0,191.8 441.3,189.4 441.6,190.4 441.9,190.2 442.1,190.5 442.4,189.1 442.7,190.0 443.0,191.5 443.3,190.1 443.6,189.7 443.9,191.4 444.1,191.0 444.4,190.9 444.7,191.0 445.0,189.8 445.3,188.8 445.6,187.6 445.9,188.3 446.2,188.4 446.4,188.1 446.7,187.7 447.0,189.6 447.3,188.1 447.6,188.4 447.9,188.8 448.2,189.0 448.4,188.9 448.7,188.5 449.0,189.5 449.3,187.2 449.6,187.7 449.9,187.4 450.2,187.0 450.4,186.4 450.7,188.0 451.0,187.3 451.3,189.2 451.6,189.9 451.9,189.5 452.2,185.1 452.4,189.4 452.7,186.4 453.0,185.1 453.3,187.6 453.6,184.9 453.9,184.7 454.2,185.8 454.5,183.9 454.7,186.2 455.0,187.9 455.3,186.2 455.6,187.3 455.9,188.4 456.2,188.2 456.5,183.4 456.7,187.0 457.0,186.2 457.3,186.9 457.6,185.7 457.9,186.0 458.2,186.0 458.5,186.9 458.7,186.9 459.0,185.8 459.3,184.2 459.6,181.6 459.9,182.8 460.2,181.5 460.5,183.1 460.8,183.7 461.0,185.2 461.3,183.3 461.6,186.0 461.9,183.5 462.2,180.8 462.5,182.5 462.8,181.4 463.0,183.4 463.3,184.8 463.6,183.6 463.9,183.5 464.2,181.4 464.5,180.4 464.8,184.1 465.0,183.6 465.3,183.4 465.6,183.7 465.9,184.9 466.2,183.1 466.5,182.7 466.8,182.7 467.0,184.9 467.3,183.4 467.6,185.6 467.9,181.9 468.2,184.5 468.5,183.4 468.8,183.6 469.1,183.7 469.3,184.3 469.6,185.2 469.9,180.2 470.2,182.2 470.5,182.0 470.8,179.3 471.1,182.3 471.3,181.2 471.6,181.8 471.9,180.1 472.2,180.9 472.5,181.1 472.8,181.8 473.1,180.9 473.3,179.6 473.6,184.0 473.9,181.2 474.2,181.4 474.5,181.1 474.8,183.4 475.1,179.3 475.4,181.4 475.6,180.4 475.9,180.6 476.2,182.1 476.5,180.1 476.8,181.9 477.1,180.5 477.4,179.4 477.6,178.8 477.9,178.5 478.2,178.7 478.5,175.3 478.8,177.6 479.1,180.0 479.4,179.0 479.6,179.0 479.9,178.3 480.2,178.9 480.5,179.2 480.8,175.6 481.1,177.9 481.4,178.5 481.6,178.4 481.9,178.4" fill="none" stroke="#f00" stroke-width="4.6" stroke-linejoin="bevel"/>
<polyline points="481.9,178.4 482.2,176.1 482.5,177.5 482.8,176.6 483.1,182.9 483.4,177.9 483.7,176.8 483.9,175.5 484.2,178.4 484.5,181.0 484.8,177.6 485.1,179.4 485.4,181.1 485.7,179.3 485.9,176.7 486.2,176.4 486.5,177.1 486.8,179.6 487.1,174.2 487.4,179.6 487.7,177.8 487.9,179.8 488.2,175.5 488.5,176.7 488.8,175.9 489.1,177.0 489.4,177.2 489.7,176.7 489.9,179.8 490.2,175.4 490.5,175.4 490.8,177.4 491.1,176.8 491.4,176.3 491.7,174.4 492.0,176.2 492.2,176.8 492.5,177.7 492.8,179.3 493.1,178.0 493.4,177.0 493.7,177.6 494.0,177.1 494.2,176.2 494.5,176.7 494.8,176.9 495.1,176.3 495.4,177.0 495.7,177.3 496.0,176.5 496.2,179.8 496.5,175.0 496.8,178.8 497.1,175.3 497.4,176.4 497.7,174.5 498.0,176.0 498.3,177.3 498.5,173.9 498.8,175.1 499.1,175.0 499.4,174.9 499.7,173.3 500.0,173.4 500.3,174.2 500.5,176.9 500.8,175.0 501.1,174.2 501.4,171.5 501.7,173.7 502.0,174.5 502.3,172.5 502.5,174.6 502.8,174.6 503.1,174.4 503.4,177.1 503.7,173.3 504.0,174.2 504.3,175.4 504.5,176.7 504.8,174.6 505.1,172.7 505.4,175.8 505.7,176.4 506.0,173.9 506.3,177.0 506.6,177.8 506.8,174.8 507.1,174.9 507.4,174.0 507.7,174.2 508.0,172.5 508.3,173.2 508.6,173.5 508.8,173.0 509.1,171.0 509.4,170.3 509.7,170.1 510.0,170.3 510.3,176.6 510.6,172.7 510.8,171.5 511.1,170.6 511.4,173.5 511.7,168.5 512.0,170.3 512.3,171.8 512.6,170.6 512.9,171.4 513.1,172.1 513.4,170.1 513.7,171.7 514.0,173.4 514.3,172.1 514.6,171.3 514.9,172.9 515.1,169.1 515.4,172.9 515.7,168.2 516.0,169.6 516.3,172.5 516.6,170.7 516.9,168.9 517.1,171.0 517.4,172.6 517.7,170.4 518.0,167.1 518.3,172.8 518.6,169.3 518.9,170.1 519.1,170.2 519.4,170.6 519.7,170.4 520.0,168.1 520.3,168.8 520.6,171.5 520.9,167.2 521.2,172.0 521.4,168.8 521.7,169.7 522.0,168.0 522.3,169.6 522.6,168.5 522.9,170.4 523.2,168.9 523.4,170.1 523.7,167.2 524.0,172.2 524.3,169.1 524.6,170.5 524.9,171.2 525.2,172.6 525.4,171.0 525.7,174.4 526.0,174.3 526.3,170.9 526.6,174.8 526.9,169.8 527.2,172.8 527.5,171.9 527.7,172.3 528.0,171.7 528.3,172.9 528.6,173.0 528.9,172.5 529.2,170.5 529.5,170.2 529.7,169.9 530.0,171.3 530.3,172.1 530.6,174.5 530.9,170.4 531.2,170.0 531.5,172.0 531.7,169.8 532.0,168.9 532.3,170.9 532.6,169.2 532.9,170.5 533.2,174.0 533.5,171.8 533.7,171.7 534.0,170.0 534.3,172.4 534.6,171.7 534.9,172.6 535.2,171.0 535.5,170.8 535.8,169.3 536.0,169.6 536.3,170.7 536.6,170.5 536.9,170.7 537.2,170.6 537.5,168.0 537.8,174.9 538.0,170.8 538.3,169.8 538.6,168.2 538.9,171.9 539.2,169.2 539.5,168.2 539.8,170.3 540.0,172.7 540.3,169.9 540.6,171.2 540.9,167.9 541.2,170.4 541.5,165.7 541.8,168.5 542.0,170.2 542.3,169.6 542.6,170.7 542.9,168.1 543.2,166.1 543.5,169.2 543.8,167.2 544.1,170.6 544.3,168.4 544.6,164.9 544.9,171.5 545.2,166.8 545.5,167.0 545.8,172.5 546.1,171.7 546.3,171.0 546.6,167.5 546.9,170.1 547.2,169.7 547.5,168.2 547.8,169.3 548.1,169.2 548.3,170.3 548.6,167.7 548.9,171.2 549.2,166.8 549.5,170.5 549.8,171.4 550.1,168.8 550.4,169.2 550.6,173.6 550.9,169.6 551.2,172.4 551.5,171.3 551.8,168.3 552.1,171.1 552.4,168.7 552.6,169.8 552.9,165.3 553.2,168.7 553.5,170.3 553.8,169.8 554.1,169.1 554.4,166.8 554.6,166.7 554.9,164.5 555.2,165.6 555.5,165.3 555.8,164.5 556.1,165.0 556.4,164.0 556.6,162.8 556.9,162.6 557.2,164.8 557.5,167.0 557.8,165.1 558.1,163.1 558.4,168.2 558.7,164.6 558.9,163.0 559.2,165.0 559.5,166.2 559.8,161.1 560.1,162.0 560.4,165.3 560.7,162.7 560.9,163.0 561.2,167.8 561.5,161.0 561.8,168.1 562.1,167.1 562.4,168.9 562.7,167.0 562.9,169.8 563.2,167.6 563.5,165.7 563.8,167.5 564.1,168.5 564.4,165.2 564.7,169.9 565.0,166.4 565.2,168.8 565.5,167.8 565.8,168.0 566.1,167.8 566.4,168.0 566.7,169.3 567.0,168.8 567.2,166.7 567.5,167.6 567.8,169.5 568.1,168.6 568.4,168.5 568.7,167.2 569.0,166.7 569.2,166.9 569.5,168.3 569.8,167.0 570.1,169.7 570.4,172.6 570.7,167.2 571.0,170.3 571.2,169.0 571.5,169.6 571.8,166.1 572.1,169.7 572.4,167.0 572.7,168.5 573.0,170.0 573.3,170.7 573.5,166.9 573.8,167.0 574.1,166.3 574.4,164.2 574.7,167.2 575.0,167.1 575.3,167.9 575.5,167.4 575.8,168.2 576.1,169.1 576.4,163.5 576.7,170.9 577.0,166.7 577.3,166.2 577.5,166.7 577.8,168.8 578.1,167.2 578.4,167.7 578.7,168.9 579.0,166.8 579.3,167.5 579.6,167.8 579.8,165.3 580.1,168.7 580.4,165.8 580.7,167.8 581.0,165.7" fill="none" stroke="#f00" stroke-width="4.9" stroke-linejoin="bevel"/>
<polyline points="581.0,165.7 581.3,166.4 581.6,166.0 581.8,168.3 582.1,167.8 582.4,167.9 582.7,165.8 583.0,164.5 583.3,163.8 583.6,166.8 583.8,165.6 584.1,168.9 584.4,170.1 584.7,167.3 585.0,166.9 585.3,168.6 585.6,169.0 585.8,164.4 586.1,167.0 586.4,168.7 586.7,160.6 587.0,164.8 587.3,165.7 587.6,163.7 587.9,166.5 588.1,161.7 588.4,167.8 588.7,167.3 589.0,164.9 589.3,166.1 589.6,161.7 589.9,167.6 590.1,165.9 590.4,163.9 590.7,163.2 591.0,162.3 591.3,163.6 591.6,159.8 591.9,165.2 592.1,163.9 592.4,162.5 592.7,164.9 593.0,164.9 593.3,165.3 593.6,165.7 593.9,166.7 594.1,165.6 594.4,167.7 594.7,163.9 595.0,168.0 595.3,160.7 595.6,161.5 595.9,162.8 596.2,165.5 596.4,166.3 596.7,162.7 597.0,164.8 597.3,164.1 597.6,166.7 597.9,163.1 598.2,166.9 598.4,165.0 598.7,168.8 599.0,166.5 599.3,164.2 599.6,166.1 599.9,166.0 600.2,163.4 600.4,165.1 600.7,162.4 601.0,169.8 601.3,163.6 601.6,163.7 601.9,167.8 602.2,167.3 602.5,162.8 602.7,166.8 603.0,165.9 603.3,163.4 603.6,165.3 603.9,163.7 604.2,166.6 604.5,164.3 604.7,162.7 605.0,164.4 605.3,169.7 605.6,163.9 605.9,165.3 606.2,167.4 606.5,162.7 606.7,169.3 607.0,161.8 607.3,167.2 607.6,162.6 607.9,166.1 608.2,168.9 608.5,166.0 608.7,165.5 609.0,165.2 609.3,164.2 609.6,168.3 609.9,165.5 610.2,165.0 610.5,167.2 610.8,168.7 611.0,168.8 611.3,165.3 611.6,165.3 611.9,168.9 612.2,170.1 612.5,164.8 612.8,170.9 613.0,167.5 613.3,169.7 613.6,171.8 613.9,168.0 614.2,168.8 614.5,165.5 614.8,163.8 615.0,169.0 615.3,166.5 615.6,166.4 615.9,169.7 616.2,170.4 616.5,165.0 616.8,169.0 617.1,168.1 617.3,168.5 617.6,168.0 617.9,168.8 618.2,165.7 618.5,164.5 618.8,167.8 619.1,169.8 619.3,166.5 619.6,169.7 619.9,167.7 620.2,163.6 620.5,161.2 620.8,165.2 621.1,168.3 621.3,164.2 621.6,170.7 621.9,167.3 622.2,162.4 622.5,164.0 622.8,168.5 623.1,169.0 623.3,163.4 623.6,165.2 623.9,166.2 624.2,163.8 624.5,165.8 624.8,168.5 625.1,162.3 625.4,165.3 625.6,165.8 625.9,166.3 626.2,162.7 626.5,164.9 626.8,161.6 627.1,163.5 627.4,160.4 627.6,163.6 627.9,164.2 628.2,167.0 628.5,165.2 628.8,161.3 629.1,156.2 629.4,165.7 629.6,165.3 629.9,162.4 630.2,162.2 630.5,164.8 630.8,163.2 631.1,167.0 631.4,164.2 631.7,161.6 631.9,160.0 632.2,164.0 632.5,164.2 632.8,162.5 633.1,161.0 633.4,162.2 633.7,164.8 633.9,162.1 634.2,160.6 634.5,164.1 634.8,165.3 635.1,161.0 635.4,161.1 635.7,159.7 635.9,161.5 636.2,163.0 636.5,162.4 636.8,163.7 637.1,163.5 637.4,162.7 637.7,162.5 637.9,159.0 638.2,164.3 638.5,161.8 638.8,163.2 639.1,158.7 639.4,161.6 639.7,163.2 640.0,160.8 640.2,162.7 640.5,164.1 640.8,159.8 641.1,161.8 641.4,159.7 641.7,161.2 642.0,162.3 642.2,163.9 642.5,166.8 642.8,162.8 643.1,164.4 643.4,163.1 643.7,164.8 644.0,166.4 644.2,167.1 644.5,163.3 644.8,162.0 645.1,165.6 645.4,164.0 645.7,161.9 646.0,166.9 646.2,165.7 646.5,167.4 646.8,162.2 647.1,164.2 647.4,165.7 647.7,168.4 648.0,164.9 648.3,162.2 648.5,165.0 648.8,165.3 649.1,162.8 649.4,167.0 649.7,164.0 650.0,162.8 650.3,165.9 650.5,166.0 650.8,163.5 651.1,164.3 651.4,164.6 651.7,163.6 652.0,163.6 652.3,166.2 652.5,165.5 652.8,162.9 653.1,161.3 653.4,160.7 653.7,165.7 654.0,161.1 654.3,161.7 654.6,163.4 654.8,162.1 655.1,161.2 655.4,158.9 655.7,165.3 656.0,161.4 656.3,163.0 656.6,163.1 656.8,159.9 657.1,160.6 657.4,164.8 657.7,163.1 658.0,161.9 658.3,165.8 658.6,160.6 658.8,162.8 659.1,162.4 659.4,162.1 659.7,158.8 660.0,163.1 660.3,164.1 660.6,159.3 660.8,164.6 661.1,164.7 661.4,166.7 661.7,160.9 662.0,162.8 662.3,162.3 662.6,162.9 662.9,163.6 663.1,165.0 663.4,164.8 663.7,161.8 664.0,162.3 664.3,158.6 664.6,164.0 664.9,163.2 665.1,164.2 665.4,158.4 665.7,164.3 666.0,159.4 666.3,157.8 666.6,161.4 666.9,159.3 667.1,166.1 667.4,162.0 667.7,165.1 668.0,160.9 668.3,161.4 668.6,163.4 668.9,159.5 669.2,161.1 669.4,163.3 669.7,163.5 670.0,166.0 670.3,163.2 670.6,157.9 670.9,164.9 671.2,162.4 671.4,164.9 671.7,161.9 672.0,162.9 672.3,164.7 672.6,168.5 672.9,165.6 673.2,161.6 673.4,165.2 673.7,163.1 674.0,165.7 674.3,169.0 674.6,163.4 674.9,163.6 675.2,165.5 675.4,164.8 675.7,163.0 676.0,164.9 676.3,162.4 676.6,163.5 676.9,168.5 677.2,163.0 677.5,163.9 677.7,164.3 678.0,161.2 678.3,163.2 678.6,160.7 678.9,159.2 679.2,161.5 679.5,165.5 679.7,163.6 680.0,159.6" fill="none" stroke="#f00" stroke-width="5.2" stroke-linejoin="bevel"/>
<polyline points="680.0,159.6 680.3,162.5 680.6,163.9 680.9,162.2 681.2,160.8 681.5,161.5 681.7,160.7 682.0,164.4 682.3,163.1 682.6,163.2 682.9,162.7 683.2,167.8 683.5,163.4 683.8,166.2 684.0,159.7 684.3,159.4 684.6,159.1 684.9,161.4 685.2,164.6 685.5,161.2 685.8,164.1 686.0,162.1 686.3,165.9 686.6,165.1 686.9,162.5 687.2,159.2 687.5,163.5 687.8,157.7 688.0,156.3 688.3,165.9 688.6,162.5 688.9,164.5 689.2,162.1 689.5,162.6 689.8,161.0 690.0,158.0 690.3,157.6 690.6,158.8 690.9,159.0 691.2,158.4 691.5,158.0 691.8,156.6 692.1,157.8 692.3,156.4 692.6,160.8 692.9,155.5 693.2,153.2 693.5,157.2 693.8,161.4 694.1,154.7 694.3,159.2 694.6,166.2 694.9,159.7 695.2,158.1 695.5,159.2 695.8,157.5 696.1,159.6 696.3,161.3 696.6,167.0 696.9,165.3 697.2,162.5 697.5,161.6 697.8,166.1 698.1,165.3 698.3,162.7 698.6,168.7 698.9,168.8 699.2,164.4 699.5,163.0 699.8,164.7 700.1,169.1 700.4,163.0 700.6,166.2 700.9,160.9 701.2,162.6 701.5,161.5 701.8,160.3 702.1,163.0 702.4,159.4 702.6,158.1 702.9,160.1 703.2,157.5 703.5,162.3 703.8,158.1 704.1,159.6 704.4,162.6 704.6,160.1 704.9,161.0 705.2,160.9 705.5,159.1 705.8,156.4 706.1,159.7 706.4,158.4 706.7,162.4 706.9,158.2 707.2,155.5 707.5,156.3 707.8,157.2 708.1,159.8 708.4,161.0 708.7,158.8 708.9,162.2 709.2,162.0 709.5,156.6 709.8,161.6 710.1,154.8 710.4,163.3 710.7,158.8 710.9,163.2 711.2,160.0 711.5,163.3 711.8,160.7 712.1,161.4 712.4,162.3 712.7,159.9 712.9,157.4 713.2,162.8 713.5,158.9 713.8,160.8 714.1,160.9 714.4,154.9 714.7,165.9 715.0,161.8 715.2,164.4 715.5,160.3 715.8,159.7 716.1,148.9 716.4,157.7 716.7,153.7 717.0,154.8 717.2,159.1 717.5,156.6 717.8,153.5 718.1,157.4 718.4,157.3 718.7,156.7 719.0,162.1 719.2,160.5 719.5,157.8 719.8,157.6 720.1,161.8 720.4,160.6 720.7,160.6 721.0,161.1 721.3,159.3 721.5,161.2 721.8,161.5 722.1,166.0 722.4,165.4 722.7,162.0 723.0,167.3 723.3,162.6 723.5,165.2 723.8,165.7 724.1,162.0 724.4,165.6 724.7,166.1 725.0,165.6 725.3,163.7 725.5,156.6 725.8,169.5 726.1,163.9 726.4,164.5 726.7,161.3 727.0,164.8 727.3,170.3 727.5,160.1 727.8,166.5 728.1,163.6 728.4,166.9 728.7,166.0 729.0,164.2 729.3,160.4 729.6,160.2 729.8,163.8 730.1,160.6 730.4,162.6 730.7,161.0 731.0,160.6 731.3,159.0 731.6,162.1 731.8,160.5 732.1,159.3 732.4,159.4 732.7,161.5 733.0,154.4 733.3,160.0 733.6,156.5 733.8,157.7 734.1,154.8 734.4,163.8 734.7,152.2 735.0,158.2 735.3,160.9 735.6,157.2 735.9,151.5 736.1,156.3 736.4,161.2 736.7,159.3 737.0,154.7 737.3,162.3 737.6,159.3 737.9,159.8 738.1,153.3 738.4,160.2 738.7,156.0 739.0,161.5 739.3,161.9 739.6,157.0 739.9,158.1 740.1,164.4 740.4,157.9 740.7,157.8 741.0,161.0 741.3,158.6 741.6,158.2 741.9,160.1 742.1,160.1 742.4,160.2 742.7,158.9 743.0,161.7 743.3,158.1 743.6,162.0 743.9,157.6 744.2,158.0 744.4,160.6 744.7,155.4 745.0,152.5 745.3,154.2 745.6,161.7 745.9,154.6 746.2,157.6 746.4,158.4 746.7,160.0 747.0,158.5 747.3,154.8 747.6,157.3 747.9,160.0 748.2,160.8 748.4,160.2 748.7,157.6 749.0,154.1 749.3,162.3 749.6,159.4 749.9,160.6 750.2,161.7 750.4,158.6 750.7,158.3 751.0,164.0 751.3,163.1 751.6,157.2 751.9,159.9 752.2,159.6 752.5,162.8 752.7,162.8 753.0,160.9 753.3,163.9 753.6,166.0 753.9,163.2 754.2,161.0 754.5,166.7 754.7,161.2 755.0,162.4 755.3,166.9 755.6,164.5 755.9,164.6 756.2,162.6 756.5,162.3 756.7,167.6 757.0,167.5 757.3,160.5 757.6,162.7 757.9,161.5 758.2,161.3 758.5,157.6 758.8,164.9 759.0,158.1 759.3,163.2 759.6,158.5 759.9,156.5 760.2,163.9 760.5,158.7 760.8,160.4 761.0,160.3 761.3,159.2 761.6,162.2 761.9,161.8 762.2,157.2 762.5,156.7 762.8,160.7 763.0,163.2 763.3,152.6 763.6,156.1 763.9,158.3 764.2,162.2 764.5,161.0 764.8,158.7 765.0,162.1 765.3,154.8 765.6,159.0 765.9,158.3 766.2,162.3 766.5,161.9 766.8,161.6 767.1,158.6 767.3,160.2 767.6,160.4 767.9,158.8 768.2,159.2 768.5,155.8 768.8,160.8 769.1,163.4 769.3,160.8 769.6,156.9 769.9,162.9 770.2,161.4 770.5,162.9 770.8,160.9 771.1,161.6 771.3,164.9 771.6,163.5 771.9,160.4 772.2,160.2 772.5,161.0 772.8,161.4 773.1,165.0 773.4,165.3 773.6,161.8 773.9,167.9 774.2,164.8 774.5,170.0 774.8,165.8 775.1,166.7 775.4,168.0 775.6,162.7 775.9,166.3 776.2,165.1 776.5,164.5 776.8,165.7 777.1,159.2 777.4,164.5 777.6,162.2 777.9,166.3 778.2,163.6 778.5,163.0 778.8,162.6 779.1,163.2 779.4,160.8 779.6,156.4 779.9,161.0 780.2,160.7 780.5,161.1 780.8,152.3 781.1,154.6 781.4,157.3 781.7,156.5 781.9,160.3 782.2,158.4 782.5,157.1 782.8,157.2 783.1,159.9 783.4,159.6 783.7,155.8 783.9,156.4 784.2,163.5 784.5,157.1 784.8,153.8 785.1,159.4 785.4,157.0 785.7,162.1 785.9,155.6 786.2,161.5 786.5,162.2 786.8,159.8 787.1,152.3 787.4,161.4 787.7,163.7 788.0,159.0 788.2,160.1 788.5,156.2 788.8,165.1 789.1,166.4 789.4,162.9 789.7,161.0 790.0,161.2 790.2,159.2 790.5,166.8 790.8,164.9 791.1,162.9 791.4,160.0 791.7,161.1 792.0,163.7 792.2,165.4 792.5,159.9 792.8,159.7 793.1,154.6 793.4,163.2 793.7,158.0 794.0,166.5 794.2,164.6 794.5,165.1 794.8,164.5 795.1,165.8 795.4,164.8 795.7,163.4 796.0,164.5 796.3,161.2 796.5,163.3 796.8,162.9 797.1,158.4 797.4,161.7 797.7,161.9 798.0,162.2 798.3,161.7 798.5,159.9 798.8,163.7 799.1,157.6 799.4,156.0 799.7,156.9 800.0,161.5 800.3,164.4 800.5,160.7 800.8,158.7 801.1,156.4 801.4,159.3 801.7,159.5 802.0,154.0 802.3,160.5 802.5,155.3 802.8,155.8 803.1,162.5 803.4,157.8 803.7,160.3 804.0,161.6 804.3,164.4 804.6,163.6 804.8,157.7 805.1,160.2 805.4,158.2 805.7,162.3 806.0,160.1 806.3,159.9 806.6,163.7 806.8,164.1 807.1,157.7 807.4,158.6 807.7,161.9 808.0,159.4 808.3,157.1 808.6,153.6 808.8,161.8 809.1,157.3 809.4,152.7 809.7,159.0 810.0,154.8 810.3,167.1 810.6,155.0 810.9,159.5 811.1,165.4 811.4,157.5 811.7,156.8 812.0,156.5 812.3,156.7 812.6,160.6 812.9,162.9 813.1,162.2 813.4,161.0 813.7,159.7 814.0,162.5 814.3,160.9 814.6,158.4 814.9,160.1 815.1,154.1 815.4,154.5 815.7,164.6 816.0,162.8 816.3,165.1 816.6,164.7 816.9,159.5 817.1,164.3 817.4,164.6 817.7,162.3 818.0,159.1 818.3,162.8 818.6,162.9 818.9,159.2 819.2,160.7 819.4,160.9 819.7,159.5 820.0,165.7 820.3,162.1 820.6,164.9 820.9,160.0 821.2,160.8 821.4,166.7 821.7,159.4 822.0,167.3 822.3,160.1 822.6,163.1 822.9,166.5 823.2,167.2 823.4,164.5 823.7,163.5 824.0,165.4 824.3,161.3 824.6,167.1 824.9,162.6 825.2,162.3 825.5,167.9 825.7,160.9 826.0,165.6 826.3,169.3 826.6,163.2 826.9,161.9 827.2,158.2 827.5,162.4 827.7,156.3 828.0,156.3 828.3,157.4 828.6,156.7" fill="none" stroke="#f00" stroke-width="5.6" stroke-linejoin="bevel"/>
</g>
<rect x="283.9" y="7.6" width="544.7" height="510.3" fill="none" stroke="#000" stroke-width="3.3"/>
<line x1="283.9" y1="517.9" x2="283.9" y2="527.4" stroke="#000" stroke-width="3.2"/>
<line x1="283.9" y1="7.6" x2="283.9" y2="17.1" stroke="#000" stroke-width="3.2"/>
<line x1="333.4" y1="517.9" x2="333.4" y2="523.4" stroke="#000" stroke-width="3.2"/>
<line x1="333.4" y1="7.6" x2="333.4" y2="13.1" stroke="#000" stroke-width="3.2"/>
<line x1="382.9" y1="517.9" x2="382.9" y2="527.4" stroke="#000" stroke-width="3.2"/>
<line x1="382.9" y1="7.6" x2="382.9" y2="17.1" stroke="#000" stroke-width="3.2"/>
<line x1="432.5" y1="517.9" x2="432.5" y2="523.4" stroke="#000" stroke-width="3.2"/>
<line x1="432.5" y1="7.6" x2="432.5" y2="13.1" stroke="#000" stroke-width="3.2"/>
<line x1="482.0" y1="517.9" x2="482.0" y2="527.4" stroke="#000" stroke-width="3.2"/>
<line x1="482.0" y1="7.6" x2="482.0" y2="17.1" stroke="#000" stroke-width="3.2"/>
<line x1="531.5" y1="517.9" x2="531.5" y2="523.4" stroke="#000" stroke-width="3.2"/>
<line x1="531.5" y1="7.6" x2="531.5" y2="13.1" stroke="#000" stroke-width="3.2"/>
<line x1="581.0" y1="517.9" x2="581.0" y2="527.4" stroke="#000" stroke-width="3.2"/>
<line x1="581.0" y1="7.6" x2="581.0" y2="17.1" stroke="#000" stroke-width="3.2"/>
<line x1="630.5" y1="517.9" x2="630.5" y2="523.4" stroke="#000" stroke-width="3.2"/>
<line x1="630.5" y1="7.6" x2="630.5" y2="13.1" stroke="#000" stroke-width="3.2"/>
<line x1="680.0" y1="517.9" x2="680.0" y2="527.4" stroke="#000" stroke-width="3.2"/>
<line x1="680.0" y1="7.6" x2="680.0" y2="17.1" stroke="#000" stroke-width="3.2"/>
<line x1="729.6" y1="517.9" x2="729.6" y2="523.4" stroke="#000" stroke-width="3.2"/>
<line x1="729.6" y1="7.6" x2="729.6" y2="13.1" stroke="#000" stroke-width="3.2"/>
<line x1="779.1" y1="517.9" x2="779.1" y2="527.4" stroke="#000" stroke-width="3.2"/>
<line x1="779.1" y1="7.6" x2="779.1" y2="17.1" stroke="#000" stroke-width="3.2"/>
<line x1="828.6" y1="517.9" x2="828.6" y2="523.4" stroke="#000" stroke-width="3.2"/>
<line x1="828.6" y1="7.6" x2="828.6" y2="13.1" stroke="#000" stroke-width="3.2"/>
<line x1="273.4" y1="517.9" x2="283.9" y2="517.9" stroke="#000" stroke-width="3.2"/>
<line x1="819.1" y1="517.9" x2="828.6" y2="517.9" stroke="#000" stroke-width="3.2"/>
<line x1="278.4" y1="461.1" x2="283.9" y2="461.1" stroke="#000" stroke-width="3.2"/>
<line x1="824.1" y1="461.1" x2="828.6" y2="461.1" stroke="#000" stroke-width="3.2"/>
<line x1="273.4" y1="404.4" x2="283.9" y2="404.4" stroke="#000" stroke-width="3.2"/>
<line x1="819.1" y1="404.4" x2="828.6" y2="404.4" stroke="#000" stroke-width="3.2"/>
<line x1="278.4" y1="347.6" x2="283.9" y2="347.6" stroke="#000" stroke-width="3.2"/>
<line x1="824.1" y1="347.6" x2="828.6" y2="347.6" stroke="#000" stroke-width="3.2"/>
<line x1="273.4" y1="290.9" x2="283.9" y2="290.9" stroke="#000" stroke-width="3.2"/>
<line x1="819.1" y1="290.9" x2="828.6" y2="290.9" stroke="#000" stroke-width="3.2"/>
<line x1="278.4" y1="234.1" x2="283.9" y2="234.1" stroke="#000" stroke-width="3.2"/>
<line x1="824.1" y1="234.1" x2="828.6" y2="234.1" stroke="#000" stroke-width="3.2"/>
<line x1="273.4" y1="177.4" x2="283.9" y2="177.4" stroke="#000" stroke-width="3.2"/>
<line x1="819.1" y1="177.4" x2="828.6" y2="177.4" stroke="#000" stroke-width="3.2"/>
<line x1="278.4" y1="120.6" x2="283.9" y2="120.6" stroke="#000" stroke-width="3.2"/>
<line x1="824.1" y1="120.6" x2="828.6" y2="120.6" stroke="#000" stroke-width="3.2"/>
<line x1="273.4" y1="63.9" x2="283.9" y2="63.9" stroke="#000" stroke-width="3.2"/>
<line x1="819.1" y1="63.9" x2="828.6" y2="63.9" stroke="#000" stroke-width="3.2"/>
<text x="208.8" y="529.2" font-size="37.68" font-weight="bold" textLength="56.1" lengthAdjust="spacingAndGlyphs">0.0</text>
<text x="208.8" y="415.7" font-size="37.68" font-weight="bold" textLength="56.1" lengthAdjust="spacingAndGlyphs">0.2</text>
<text x="208.9" y="302.2" font-size="37.68" font-weight="bold" textLength="54.6" lengthAdjust="spacingAndGlyphs">0.4</text>
<text x="208.8" y="188.7" font-size="37.68" font-weight="bold" textLength="55.9" lengthAdjust="spacingAndGlyphs">0.6</text>
<text x="208.8" y="75.2" font-size="37.68" font-weight="bold" textLength="55.7" lengthAdjust="spacingAndGlyphs">0.8</text>
<text x="272.3" y="563.7" font-size="37.68" font-weight="bold" textLength="22.8" lengthAdjust="spacingAndGlyphs">0</text>
<text x="371.2" y="563.7" font-size="37.68" font-weight="bold" textLength="22.8" lengthAdjust="spacingAndGlyphs">1</text>
<text x="470.5" y="563.7" font-size="37.68" font-weight="bold" textLength="22.8" lengthAdjust="spacingAndGlyphs">2</text>
<text x="569.7" y="563.7" font-size="37.68" font-weight="bold" textLength="22.8" lengthAdjust="spacingAndGlyphs">3</text>
<text x="668.2" y="563.7" font-size="37.68" font-weight="bold" textLength="22.8" lengthAdjust="spacingAndGlyphs">4</text>
<text x="767.4" y="563.7" font-size="37.68" font-weight="bold" textLength="22.8" lengthAdjust="spacingAndGlyphs">5</text>
<text x="376.9" y="612.2" font-size="44.19" textLength="357.8" lengthAdjust="spacingAndGlyphs">Frequency (GHz)</text>
<text x="171.8" y="331.2" font-size="46.37" textLength="138.7" lengthAdjust="spacingAndGlyphs" transform="rotate(-90 171.8 331.2)">R, T, A</text>
<text x="106.7" y="41.8" font-size="56.41" font-weight="bold" textLength="71.2" lengthAdjust="spacingAndGlyphs">(a)</text>
<rect x="585.6" y="9.0" width="241.6" height="56.2" fill="#fff" stroke="#999" stroke-width="1"/>
<line x1="590.3" y1="34.6" x2="666.2" y2="34.6" stroke="#000" stroke-width="2.9" stroke-linecap="round"/>
<text x="676.7" y="47.3" font-size="40.84" font-weight="bold" textLength="24.0" lengthAdjust="spacingAndGlyphs">T</text>
<text x="699.8" y="55.0" font-size="26.48" font-weight="bold" textLength="124.0" lengthAdjust="spacingAndGlyphs">electrode</text>
<rect x="345.3" y="66.4" width="153.2" height="98.1" fill="#fff" stroke="#444" stroke-width="1"/>
<line x1="349.3" y1="91.8" x2="413.8" y2="91.8" stroke="#00f" stroke-width="3.7" stroke-linecap="round"/>
<line x1="349.3" y1="139.1" x2="413.8" y2="139.1" stroke="#f00" stroke-width="3.7" stroke-linecap="round"/>
<text x="422.7" y="100.6" font-size="33.43" font-weight="bold" textLength="21.7" lengthAdjust="spacingAndGlyphs">T</text>
<text x="442.2" y="108.5" font-size="23.4" font-weight="bold" textLength="47.5" lengthAdjust="spacingAndGlyphs">LRS</text>
<text x="424.4" y="148.6" font-size="34.01" font-weight="bold" textLength="21.3" lengthAdjust="spacingAndGlyphs">T</text>
<text x="444.6" y="156.1" font-size="23.4" font-weight="bold" textLength="49.3" lengthAdjust="spacingAndGlyphs">HRS</text>
<rect x="635.0" y="192.4" width="163.1" height="102.0" fill="#fff" stroke="#555" stroke-width="1"/>
<line x1="638.5" y1="218.6" x2="702.5" y2="218.6" stroke="#00f" stroke-width="3.3" stroke-linecap="round" stroke-dasharray="0.01 7.9"/>
<line x1="638.5" y1="267.8" x2="702.5" y2="267.8" stroke="#f00" stroke-width="3.3" stroke-linecap="round" stroke-dasharray="0.01 7.9"/>
<text x="712.8" y="228.4" font-size="35.32" font-weight="bold" textLength="26.5" lengthAdjust="spacingAndGlyphs">A</text>
<text x="738.9" y="236.0" font-size="23.98" font-weight="bold" textLength="50.5" lengthAdjust="spacingAndGlyphs">LRS</text>
<text x="715.3" y="277.9" font-size="36.05" font-weight="bold" textLength="26.9" lengthAdjust="spacingAndGlyphs">A</text>
<text x="741.7" y="285.4" font-size="24.71" font-weight="bold" textLength="51.3" lengthAdjust="spacingAndGlyphs">HRS</text>
<rect x="356.1" y="332.7" width="263.2" height="59.2" fill="#fff" stroke="#444" stroke-width="1"/>
<line x1="362.0" y1="358.6" x2="378.2" y2="358.6" stroke="#000" stroke-width="3.2" stroke-linecap="round"/>
<line x1="401.6" y1="358.6" x2="418.7" y2="358.6" stroke="#000" stroke-width="3.2" stroke-linecap="round"/>
<line x1="441.8" y1="358.6" x2="451.7" y2="358.6" stroke="#000" stroke-width="3.2" stroke-linecap="round"/>
<text x="461.8" y="370.4" font-size="38.81" font-weight="bold" textLength="31.1" lengthAdjust="spacingAndGlyphs">A</text>
<text x="491.7" y="380.1" font-size="26.62" font-weight="bold" textLength="123.0" lengthAdjust="spacingAndGlyphs">electrode</text>
<rect x="680.5" y="412.4" width="143.2" height="89.4" fill="#fff" stroke="#999" stroke-width="1"/>
<line x1="684.0" y1="434.9" x2="744.0" y2="434.9" stroke="#00f" stroke-width="3.8" stroke-linecap="round" stroke-dasharray="6.4 11.7"/>
<line x1="684.0" y1="478.5" x2="744.0" y2="478.5" stroke="#f00" stroke-width="3.8" stroke-linecap="round" stroke-dasharray="6.4 11.7"/>
<text x="751.1" y="443.2" font-size="30.38" font-weight="bold" textLength="22.4" lengthAdjust="spacingAndGlyphs">R</text>
<text x="773.7" y="449.5" font-size="21.22" font-weight="bold" textLength="43.7" lengthAdjust="spacingAndGlyphs">LRS</text>
<text x="751.1" y="486.8" font-size="30.81" font-weight="bold" textLength="22.9" lengthAdjust="spacingAndGlyphs">R</text>
<text x="774.3" y="493.1" font-size="21.08" font-weight="bold" textLength="45.6" lengthAdjust="spacingAndGlyphs">HRS</text>
</g>
<g id="panel-b">
<text x="55.9" y="682.6" font-size="57.38" font-weight="bold" textLength="74.2" lengthAdjust="spacingAndGlyphs">(b)</text>
<ellipse cx="220.7" cy="681.8" rx="40" ry="42" fill="#fff" stroke="#000" stroke-width="3.1"/>
<path d="M197 685.6 L207.6 654.5 Q209.9 648.2 212 655 L229 711 Q231.5 718.8 233.6 710.5 L242 677.4" fill="none" stroke="#000" stroke-width="2.8" stroke-linejoin="round"/>
<text x="136.4" y="748.0" font-size="32.12" font-weight="500" textLength="181.3" lengthAdjust="spacingAndGlyphs" font-family='"Noto Sans CJK JP", "Liberation Sans", sans-serif' stroke="#000" stroke-width="0.7">Synthesizer</text>
<text x="178.5" y="808.0" font-size="31.54" font-weight="bold" textLength="131.8" lengthAdjust="spacingAndGlyphs">RF input</text>
<line x1="262.0" y1="680.7" x2="361.0" y2="679.6" stroke="#000" stroke-width="3.1"/>
<rect x="361.2" y="639.7" width="146.7" height="69.9" fill="#fff" stroke="#5b9bd5" stroke-width="1.9"/>
<text x="374.8" y="666.8" font-size="25.15" font-weight="bold" textLength="118.8" lengthAdjust="spacingAndGlyphs">Low pass</text>
<text x="406.2" y="698.7" font-size="24.0" font-weight="bold" textLength="56.6" lengthAdjust="spacingAndGlyphs">filter</text>
<polyline points="508.8,676.9 618.5,674.2 618.5,713" fill="none" stroke="#000" stroke-width="3.3" stroke-linejoin="miter"/>
<polygon points="618.5,720.7 613.1,711.7 623.9,711.7" fill="#000"/>
<text x="622.4" y="707.2" font-size="29.99" font-weight="500" textLength="44.5" lengthAdjust="spacingAndGlyphs" font-family='"Noto Sans CJK JP", "Liberation Sans", sans-serif' stroke="#000" stroke-width="0.7">RF</text>
<rect x="592.8" y="719.9" width="49.9" height="75.8" fill="#ffd966" stroke="none" stroke-width="1"/>
<text x="538.6" y="760.3" font-size="28.77" font-weight="500" textLength="95.6" lengthAdjust="spacingAndGlyphs" font-family='"Noto Sans CJK JP", "Liberation Sans", sans-serif' stroke="#000" stroke-width="0.7">Bias-T</text>
<line x1="652.0" y1="757.3" x2="781.3" y2="757.8" stroke="#000" stroke-width="3.3"/>
<polygon points="643.4,757.3 653.4,752.0 653.4,762.6" fill="#000"/>
<text x="715.3" y="747.6" font-size="29.99" font-weight="500" textLength="48.9" lengthAdjust="spacingAndGlyphs" font-family='"Noto Sans CJK JP", "Liberation Sans", sans-serif' stroke="#000" stroke-width="0.7">DC</text>
<line x1="781.3" y1="730.8" x2="781.3" y2="783.9" stroke="#000" stroke-width="3.3"/>
<line x1="799.0" y1="750.0" x2="799.0" y2="769.1" stroke="#000" stroke-width="3.3"/>
<polyline points="799,759.3 897.9,759.3 897.9,1066.8 808,1066.8" fill="none" stroke="#000" stroke-width="3.2" stroke-linejoin="miter"/>
<line x1="897.9" y1="902.5" x2="936.2" y2="902.5" stroke="#000" stroke-width="3.1"/>
<line x1="936.2" y1="873.8" x2="936.2" y2="927.2" stroke="#000" stroke-width="3.3"/>
<line x1="950.9" y1="885.3" x2="951.7" y2="921.4" stroke="#000" stroke-width="3.1"/>
<line x1="962.8" y1="892.4" x2="962.8" y2="912.9" stroke="#000" stroke-width="3.1"/>
<text x="898.5" y="951.0" font-size="27.85" font-weight="500" textLength="104.2" lengthAdjust="spacingAndGlyphs" font-family='"Noto Sans CJK JP", "Liberation Sans", sans-serif' stroke="#000" stroke-width="0.7">Ground</text>
<line x1="618.5" y1="795.0" x2="618.5" y2="835.0" stroke="#000" stroke-width="3.3"/>
<polygon points="618.5,842.4 613.1,833.4 623.9,833.4" fill="#000"/>
<text font-family='"Noto Sans CJK JP", "Liberation Sans", sans-serif' font-weight="500" stroke="#000" stroke-width="0.7"><tspan x="627.1" y="831.1" font-size="29.99" textLength="40.3" lengthAdjust="spacingAndGlyphs">RF</tspan><tspan x="667.6" y="832.3" font-size="26.41" font-weight="400" stroke-width="0.45" textLength="29.2" lengthAdjust="spacingAndGlyphs">＋</tspan><tspan x="693.1" y="831.1" font-size="29.99" textLength="49.9" lengthAdjust="spacingAndGlyphs">DC</tspan></text>
<rect x="576.4" y="840.4" width="82.4" height="140.1" fill="#c9c9c9" stroke="none" stroke-width="1"/>
<path d="M635.7 854 H601.9 V886.5 L616.6 904.2 V916 L601.9 933.7 V967.2 H635.7" fill="none" stroke="#b0b8be" stroke-width="4.6" stroke-linejoin="miter"/>
<path d="M635.7 851.8 V886.5 L622.3 904.2 V916 L635.7 933.7 V969.4" fill="none" stroke="#b0b8be" stroke-width="4.6" stroke-linejoin="miter"/>
<path d="M635.7 854 H601.9 V886.5 L616.6 904.2 V916 L601.9 933.7 V967.2 H635.7" fill="none" stroke="#eef4f8" stroke-width="3.3" stroke-linejoin="miter"/>
<path d="M635.7 851.8 V886.5 L622.3 904.2 V916 L635.7 933.7 V969.4" fill="none" stroke="#eef4f8" stroke-width="3.3" stroke-linejoin="miter"/>
<line x1="603.0" y1="861.5" x2="611.0" y2="861.5" stroke="#8a8a8a" stroke-width="0.8"/>
<line x1="637.0" y1="861.5" x2="645.0" y2="861.5" stroke="#8a8a8a" stroke-width="0.8"/>
<line x1="603.0" y1="961.0" x2="607.0" y2="961.0" stroke="#8a8a8a" stroke-width="0.8"/>
<line x1="634.0" y1="961.0" x2="639.0" y2="961.0" stroke="#8a8a8a" stroke-width="0.8"/>
<line x1="619.0" y1="911.5" x2="624.0" y2="911.5" stroke="#777" stroke-width="0.8"/>
<text x="634.6" y="880.6" font-size="11.5" textLength="21.8" lengthAdjust="spacingAndGlyphs" fill="#222" transform="rotate(90 634.6 880.6)">gap</text>
<text x="654.7" y="925.9" font-size="26.73" font-weight="500" textLength="97.4" lengthAdjust="spacingAndGlyphs" font-family='"Noto Sans CJK JP", "Liberation Sans", sans-serif' stroke="#000" stroke-width="0.7">Device</text>
<line x1="618.5" y1="980.5" x2="618.5" y2="1020.0" stroke="#000" stroke-width="3.3"/>
<polygon points="618.7,1028.0 613.3,1019.0 624.1,1019.0" fill="#000"/>
<text font-family='"Noto Sans CJK JP", "Liberation Sans", sans-serif' font-weight="500" stroke="#000" stroke-width="0.7"><tspan x="627.9" y="1011.5" font-size="30.39" textLength="43.5" lengthAdjust="spacingAndGlyphs">RF</tspan><tspan x="669.6" y="1012.1" font-size="27.65" font-weight="400" stroke-width="0.45" textLength="29.1" lengthAdjust="spacingAndGlyphs">＋</tspan><tspan x="692.6" y="1011.5" font-size="30.39" textLength="51.3" lengthAdjust="spacingAndGlyphs">DC</tspan></text>
<rect x="594.1" y="1025.4" width="49.3" height="75.3" fill="#ffd966" stroke="none" stroke-width="1"/>
<text x="553.8" y="1055.3" font-size="28.22" font-weight="500" textLength="89.9" lengthAdjust="spacingAndGlyphs" font-family='"Noto Sans CJK JP", "Liberation Sans", sans-serif' stroke="#000" stroke-width="0.7">Bias-T</text>
<text x="676.6" y="1052.0" font-size="29.44" font-weight="500" textLength="49.1" lengthAdjust="spacingAndGlyphs" font-family='"Noto Sans CJK JP", "Liberation Sans", sans-serif' stroke="#000" stroke-width="0.7">DC</text>
<line x1="643.4" y1="1065.2" x2="732.0" y2="1064.4" stroke="#000" stroke-width="3.3"/>
<polygon points="740.8,1064.4 731.0,1059.1 731.0,1069.7" fill="#000"/>
<circle cx="776.3" cy="1060.3" r="31.9" fill="#fff" stroke="#000" stroke-width="3.1"/>
<text x="764.1" y="1074.1" font-size="46.78" font-weight="300" textLength="24.4" lengthAdjust="spacingAndGlyphs" font-family='"Noto Sans CJK JP", "Liberation Sans", sans-serif'>A</text>
<line x1="594.1" y1="1066.8" x2="528.5" y2="1069.2" stroke="#000" stroke-width="4"/>
<polygon points="519.6,1069.3 530.0,1063.4 530.0,1075.2" fill="#000"/>
<rect x="395.1" y="1031.1" width="122.9" height="68.1" fill="#fff" stroke="#00b050" stroke-width="2"/>
<text x="406.5" y="1058.4" font-size="24.71" font-weight="bold" textLength="37.1" lengthAdjust="spacingAndGlyphs">DC</text>
<text x="406.5" y="1089.9" font-size="24.83" font-weight="bold" textLength="67.2" lengthAdjust="spacingAndGlyphs">block</text>
<line x1="362.0" y1="1071.9" x2="394.2" y2="1071.9" stroke="#000" stroke-width="3.5"/>
<rect x="217.9" y="1034.5" width="143.1" height="69.5" fill="#fff" stroke="#ffc000" stroke-width="2"/>
<text x="229.7" y="1061.9" font-size="24.93" font-weight="bold" textLength="119.4" lengthAdjust="spacingAndGlyphs">Spectrum</text>
<text x="229.9" y="1094.0" font-size="24.27" font-weight="bold" textLength="107.0" lengthAdjust="spacingAndGlyphs">Analyzer</text>
</g>
<g id="panel-c">
<text x="-0.4" y="1135.3" font-size="57.24" font-weight="bold" textLength="71.7" lengthAdjust="spacingAndGlyphs">(c)</text>
<rect x="-1.0" y="1526.4" width="342.6" height="68.5" fill="none" stroke="#ebebeb" stroke-width="1"/>
<rect x="125.2" y="1482.1" width="15.0" height="20.9" fill="none" stroke="#efefef" stroke-width="1"/>
<polyline points="109.8,1247.5 111.2,1290.0 112.8,1350.0 115.4,1504.8" fill="none" stroke="#111" stroke-width="1.25"/>
<polyline points="148.2,1504.8 153.5,1218.0 154.9,1218.0 160.2,1504.8" fill="none" stroke="#111" stroke-width="1.4" stroke-linejoin="round"/>
<polyline points="199.0,1504.8 199.3,1496.5 199.7,1496.5 200.0,1504.8" fill="none" stroke="#111" stroke-width="1.4" stroke-linejoin="round"/>
<line x1="131.2" y1="1502.0" x2="131.2" y2="1504.8" stroke="#111" stroke-width="1.6"/>
<polyline points="109.8,1531.5 111.0,1600.0 112.6,1700.0 115.2,1811.7" fill="none" stroke="#111" stroke-width="1.25"/>
<polyline points="147.8,1811.7 153.6,1533.5 155.2,1533.5 161.0,1811.7" fill="none" stroke="#111" stroke-width="1.4" stroke-linejoin="round"/>
<polyline points="194.3,1811.7 198.9,1601.7 201.5,1601.7 206.1,1811.7" fill="none" stroke="#111" stroke-width="1.4" stroke-linejoin="round"/>
<polyline points="240.5,1811.7 245.1,1680.5 246.1,1680.5 250.7,1811.7" fill="none" stroke="#111" stroke-width="1.4" stroke-linejoin="round"/>
<polyline points="286.5,1811.7 290.7,1739.5 291.7,1739.5 295.9,1811.7" fill="none" stroke="#111" stroke-width="1.4" stroke-linejoin="round"/>
<polyline points="333.0,1811.7 335.9,1764.2 337.3,1764.2 340.2,1811.7" fill="none" stroke="#111" stroke-width="1.4" stroke-linejoin="round"/>
<line x1="382.0" y1="1808.0" x2="382.0" y2="1811.7" stroke="#111" stroke-width="1.4"/>
<line x1="109.5" y1="1197.8" x2="109.5" y2="1811.7" stroke="#000" stroke-width="1.3"/>
<line x1="412.2" y1="1197.8" x2="412.2" y2="1811.7" stroke="#000" stroke-width="1.3"/>
<line x1="108.9" y1="1197.8" x2="412.8" y2="1197.8" stroke="#000" stroke-width="1.6"/>
<line x1="108.3" y1="1504.8" x2="413.4" y2="1504.8" stroke="#000" stroke-width="3.3"/>
<line x1="108.3" y1="1811.7" x2="413.4" y2="1811.7" stroke="#000" stroke-width="3.0"/>
<line x1="109.5" y1="1247.5" x2="112.5" y2="1247.5" stroke="#000" stroke-width="1.2"/>
<line x1="409.2" y1="1247.5" x2="412.2" y2="1247.5" stroke="#000" stroke-width="1.2"/>
<line x1="109.5" y1="1532.8" x2="112.5" y2="1532.8" stroke="#000" stroke-width="1.2"/>
<line x1="409.2" y1="1532.8" x2="412.2" y2="1532.8" stroke="#000" stroke-width="1.2"/>
<line x1="109.5" y1="1298.9" x2="114.0" y2="1298.9" stroke="#000" stroke-width="1.2"/>
<line x1="407.7" y1="1298.9" x2="412.2" y2="1298.9" stroke="#000" stroke-width="1.2"/>
<line x1="109.5" y1="1588.7" x2="114.0" y2="1588.7" stroke="#000" stroke-width="1.2"/>
<line x1="407.7" y1="1588.7" x2="412.2" y2="1588.7" stroke="#000" stroke-width="1.2"/>
<line x1="109.5" y1="1350.4" x2="112.5" y2="1350.4" stroke="#000" stroke-width="1.2"/>
<line x1="409.2" y1="1350.4" x2="412.2" y2="1350.4" stroke="#000" stroke-width="1.2"/>
<line x1="109.5" y1="1644.5" x2="112.5" y2="1644.5" stroke="#000" stroke-width="1.2"/>
<line x1="409.2" y1="1644.5" x2="412.2" y2="1644.5" stroke="#000" stroke-width="1.2"/>
<line x1="109.5" y1="1401.9" x2="114.0" y2="1401.9" stroke="#000" stroke-width="1.2"/>
<line x1="407.7" y1="1401.9" x2="412.2" y2="1401.9" stroke="#000" stroke-width="1.2"/>
<line x1="109.5" y1="1700.4" x2="114.0" y2="1700.4" stroke="#000" stroke-width="1.2"/>
<line x1="407.7" y1="1700.4" x2="412.2" y2="1700.4" stroke="#000" stroke-width="1.2"/>
<line x1="109.5" y1="1453.3" x2="112.5" y2="1453.3" stroke="#000" stroke-width="1.2"/>
<line x1="409.2" y1="1453.3" x2="412.2" y2="1453.3" stroke="#000" stroke-width="1.2"/>
<line x1="109.5" y1="1756.2" x2="112.5" y2="1756.2" stroke="#000" stroke-width="1.2"/>
<line x1="409.2" y1="1756.2" x2="412.2" y2="1756.2" stroke="#000" stroke-width="1.2"/>
<line x1="210.0" y1="1197.8" x2="210.0" y2="1200.8" stroke="#000" stroke-width="1.2"/>
<line x1="210.0" y1="1504.8" x2="210.0" y2="1511.3" stroke="#000" stroke-width="1.4"/>
<line x1="310.5" y1="1197.8" x2="310.5" y2="1201.8" stroke="#000" stroke-width="1.2"/>
<line x1="310.5" y1="1504.8" x2="310.5" y2="1512.3" stroke="#000" stroke-width="1.4"/>
<line x1="109.5" y1="1811.7" x2="109.5" y2="1818.7" stroke="#000" stroke-width="1.5"/>
<line x1="210.0" y1="1811.7" x2="210.0" y2="1816.2" stroke="#000" stroke-width="1.5"/>
<line x1="310.5" y1="1811.7" x2="310.5" y2="1818.7" stroke="#000" stroke-width="1.5"/>
<line x1="411.0" y1="1811.7" x2="411.0" y2="1816.2" stroke="#000" stroke-width="1.5"/>
<text x="84.0" y="1208.3" font-size="37.97" font-weight="bold" textLength="14.3" lengthAdjust="spacingAndGlyphs">0</text>
<text x="57.5" y="1310.2" font-size="37.97" font-weight="bold" textLength="42.9" lengthAdjust="spacingAndGlyphs">-20</text>
<text x="57.5" y="1413.2" font-size="37.97" font-weight="bold" textLength="42.9" lengthAdjust="spacingAndGlyphs">-40</text>
<text x="57.5" y="1516.1" font-size="37.97" font-weight="bold" textLength="42.9" lengthAdjust="spacingAndGlyphs">-60</text>
<text x="57.5" y="1600.0" font-size="37.97" font-weight="bold" textLength="42.9" lengthAdjust="spacingAndGlyphs">-20</text>
<text x="57.5" y="1711.7" font-size="37.97" font-weight="bold" textLength="42.9" lengthAdjust="spacingAndGlyphs">-40</text>
<text x="57.5" y="1823.0" font-size="37.97" font-weight="bold" textLength="42.9" lengthAdjust="spacingAndGlyphs">-60</text>
<text x="88.8" y="1852.6" font-size="34.67" font-weight="bold" textLength="40.9" lengthAdjust="spacingAndGlyphs">0.0</text>
<text x="290.6" y="1852.6" font-size="34.67" font-weight="bold" textLength="37.9" lengthAdjust="spacingAndGlyphs">0.1</text>
<text x="123.5" y="1889.0" font-size="40.7" textLength="272.5" lengthAdjust="spacingAndGlyphs">Frequency(GHz)</text>
<text transform="translate(47.3 1484.1) rotate(-90) scale(0.84 1)" x="0" y="0" font-size="48.57" textLength="316.8" lengthAdjust="spacing">Output(dBm)</text>
<text transform="translate(47.3 1777.9) rotate(-90) scale(0.84 1)" x="0" y="0" font-size="48.57" textLength="319.0" lengthAdjust="spacing">Output(dBm)</text>
<text x="244.3" y="1283.0" font-size="29.07" font-weight="bold" textLength="97.5" lengthAdjust="spacingAndGlyphs">20MHz</text>
<text x="284.8" y="1359.8" font-size="30.81" font-weight="bold" textLength="66.5" lengthAdjust="spacingAndGlyphs" fill="#5b9bd5">LRS</text>
<text x="293.6" y="1635.7" font-size="28.92" font-weight="bold" textLength="61.9" lengthAdjust="spacingAndGlyphs" fill="#ff0000">HRS</text>
<text x="153.8" y="1214.3" font-size="22.5" font-weight="200" text-anchor="middle" fill="#111" font-family='"DejaVu Sans", sans-serif' stroke="#111" stroke-width="0.35">1</text>
<text x="200.6" y="1490.6" font-size="22.5" font-weight="200" text-anchor="middle" fill="#111" font-family='"DejaVu Sans", sans-serif' stroke="#111" stroke-width="0.35">2</text>
<text x="154.4" y="1529.6" font-size="22.5" font-weight="200" text-anchor="middle" fill="#111" font-family='"DejaVu Sans", sans-serif' stroke="#111" stroke-width="0.35">1</text>
<text x="204.2" y="1593.3" font-size="22.5" font-weight="200" text-anchor="middle" fill="#111" font-family='"DejaVu Sans", sans-serif' stroke="#111" stroke-width="0.35">2</text>
<text x="246.8" y="1677.3" font-size="22.5" font-weight="200" text-anchor="middle" fill="#111" font-family='"DejaVu Sans", sans-serif' stroke="#111" stroke-width="0.35">3</text>
<text x="291.6" y="1734.8" font-size="22.5" font-weight="200" text-anchor="middle" fill="#111" font-family='"DejaVu Sans", sans-serif' stroke="#111" stroke-width="0.35">4</text>
<text x="337.4" y="1761.7" font-size="22.5" font-weight="200" text-anchor="middle" fill="#111" font-family='"DejaVu Sans", sans-serif' stroke="#111" stroke-width="0.35">5</text>
</g>
<g id="panel-d" stroke-linejoin="miter">
<text x="539.4" y="1216.8" font-size="58.07" font-weight="bold" textLength="75.2" lengthAdjust="spacingAndGlyphs">(d)</text>
<clipPath id="clipD"><rect x="576.6" y="1295.6" width="438.9" height="422.6"/></clipPath>
<g clip-path="url(#clipD)">
<polyline points="576.6,1718.3 578.2,1695.5" fill="none" stroke="#ff0000" stroke-width="1.4"/>
<polygon points="578.2,1687.1 584.9,1692.9 582.3,1702.3 574.1,1702.3 571.5,1692.9" fill="#fff" stroke="#ff0000" stroke-width="2.4"/>
<polyline points="578.2,1694.2 584.6,1679.4 592.5,1662.0" fill="none" stroke="#ff0000" stroke-width="1.4"/>
<polygon points="578.2,1685.1 584.7,1694.2 578.2,1703.3 571.7,1694.2" fill="#fff" stroke="#ff0000" stroke-width="2.4"/>
<polygon points="584.6,1670.3 591.0,1679.4 584.6,1688.5 578.1,1679.4" fill="#fff" stroke="#ff0000" stroke-width="2.4"/>
<polygon points="592.5,1652.8 599.0,1662.0 592.5,1671.1 586.1,1662.0" fill="#fff" stroke="#ff0000" stroke-width="2.4"/>
<polyline points="578.2,1614.3 584.6,1643.2 592.5,1641.8 600.5,1671.4" fill="none" stroke="#ff0000" stroke-width="1.4"/>
<polygon points="578.2,1623.7 570.8,1608.9 585.6,1608.9" fill="#fff" stroke="#ff0000" stroke-width="2.4"/>
<polygon points="584.6,1652.5 577.2,1637.8 591.9,1637.8" fill="#fff" stroke="#ff0000" stroke-width="2.4"/>
<polygon points="592.5,1651.2 585.2,1636.4 599.9,1636.4" fill="#fff" stroke="#ff0000" stroke-width="2.4"/>
<polygon points="600.5,1680.7 593.1,1665.9 607.9,1665.9" fill="#fff" stroke="#ff0000" stroke-width="2.4"/>
<polyline points="578.2,1590.1 584.6,1586.1 592.5,1552.6 600.5,1599.5 616.4,1629.1 656.3,1694.9" fill="none" stroke="#ff0000" stroke-width="1.6"/>
<polygon points="578.2,1580.8 570.8,1595.6 585.6,1595.6" fill="#fff" stroke="#ff0000" stroke-width="2.4"/>
<polygon points="584.6,1576.8 577.2,1591.5 591.9,1591.5" fill="#fff" stroke="#ff0000" stroke-width="2.4"/>
<polygon points="592.5,1543.2 585.2,1558.0 599.9,1558.0" fill="#fff" stroke="#ff0000" stroke-width="2.4"/>
<polygon points="600.5,1590.2 593.1,1605.0 607.9,1605.0" fill="#fff" stroke="#ff0000" stroke-width="2.4"/>
<polygon points="616.4,1619.7 609.1,1634.5 623.8,1634.5" fill="#fff" stroke="#ff0000" stroke-width="2.4"/>
<polygon points="656.3,1685.5 648.9,1700.3 663.7,1700.3" fill="#fff" stroke="#ff0000" stroke-width="2.4"/>
<polyline points="578.2,1470.7 584.6,1468.7 592.5,1464.6 600.5,1487.5 616.4,1584.8 656.3,1629.7 696.1,1638.5 736.0,1704.9 815.6,1704.2 895.3,1696.9 975.0,1690.8" fill="none" stroke="#ff0000" stroke-width="1.7"/>
<ellipse cx="578.2" cy="1470.7" rx="5.4" ry="6.8" fill="#fff" stroke="#ff0000" stroke-width="2.1"/>
<ellipse cx="584.6" cy="1468.7" rx="5.4" ry="6.8" fill="#fff" stroke="#ff0000" stroke-width="2.1"/>
<ellipse cx="592.5" cy="1464.6" rx="5.4" ry="6.8" fill="#fff" stroke="#ff0000" stroke-width="2.1"/>
<ellipse cx="600.5" cy="1487.5" rx="5.4" ry="6.8" fill="#fff" stroke="#ff0000" stroke-width="2.1"/>
<ellipse cx="616.4" cy="1584.8" rx="5.4" ry="6.8" fill="#fff" stroke="#ff0000" stroke-width="2.1"/>
<ellipse cx="656.3" cy="1629.7" rx="5.4" ry="6.8" fill="#fff" stroke="#ff0000" stroke-width="2.1"/>
<ellipse cx="696.1" cy="1638.5" rx="5.4" ry="6.8" fill="#fff" stroke="#ff0000" stroke-width="2.1"/>
<ellipse cx="736.0" cy="1704.9" rx="5.4" ry="6.8" fill="#fff" stroke="#ff0000" stroke-width="2.1"/>
<ellipse cx="815.6" cy="1704.2" rx="5.4" ry="6.8" fill="#fff" stroke="#ff0000" stroke-width="2.1"/>
<ellipse cx="895.3" cy="1696.9" rx="5.4" ry="6.8" fill="#fff" stroke="#ff0000" stroke-width="2.1"/>
<ellipse cx="975.0" cy="1690.8" rx="5.4" ry="6.8" fill="#fff" stroke="#ff0000" stroke-width="2.1"/>
<polyline points="578.2,1426.4 584.6,1405.6 592.5,1372.0 600.5,1374.0 616.4,1361.3 656.3,1357.9 696.1,1357.9 736.0,1358.6 815.6,1357.9 895.3,1355.2 975.0,1360.6" fill="none" stroke="#ff0000" stroke-width="1.7"/>
<rect x="572.5" y="1419.1" width="11.4" height="14.5" fill="#fff" stroke="#ff0000" stroke-width="3.3"/>
<rect x="578.9" y="1398.3" width="11.4" height="14.5" fill="#fff" stroke="#ff0000" stroke-width="3.3"/>
<rect x="586.8" y="1364.8" width="11.4" height="14.5" fill="#fff" stroke="#ff0000" stroke-width="3.3"/>
<rect x="594.8" y="1366.8" width="11.4" height="14.5" fill="#fff" stroke="#ff0000" stroke-width="3.3"/>
<rect x="610.7" y="1354.0" width="11.4" height="14.5" fill="#fff" stroke="#ff0000" stroke-width="3.3"/>
<rect x="650.6" y="1350.7" width="11.4" height="14.5" fill="#fff" stroke="#ff0000" stroke-width="3.3"/>
<rect x="690.4" y="1350.7" width="11.4" height="14.5" fill="#fff" stroke="#ff0000" stroke-width="3.3"/>
<rect x="730.3" y="1351.3" width="11.4" height="14.5" fill="#fff" stroke="#ff0000" stroke-width="3.3"/>
<rect x="809.9" y="1350.7" width="11.4" height="14.5" fill="#fff" stroke="#ff0000" stroke-width="3.3"/>
<rect x="889.6" y="1348.0" width="11.4" height="14.5" fill="#fff" stroke="#ff0000" stroke-width="3.3"/>
<rect x="969.3" y="1353.4" width="11.4" height="14.5" fill="#fff" stroke="#ff0000" stroke-width="3.3"/>
<polyline points="576.6,1713.6 578.2,1704.9 592.5,1694.2" fill="none" stroke="#0000ff" stroke-width="2.0"/>
<polygon points="586.4,1704.9 573.7,1696.9 573.7,1713.0" fill="#fff" stroke="#0000ff" stroke-width="2.4"/>
<polygon points="600.7,1694.2 588.0,1686.1 588.0,1702.2" fill="#fff" stroke="#0000ff" stroke-width="2.4"/>
<polyline points="578.2,1353.9 584.6,1343.1 592.5,1329.4 600.5,1338.4 616.4,1341.8 656.3,1346.5 696.1,1351.2 736.0,1355.2 815.6,1354.6 895.3,1353.9 975.0,1360.6" fill="none" stroke="#0000ff" stroke-width="2.0"/>
<polygon points="570.0,1353.9 582.7,1345.8 582.7,1362.0" fill="#fff" stroke="#0000ff" stroke-width="2.4"/>
<polygon points="576.4,1343.1 589.1,1335.1 589.1,1351.2" fill="#fff" stroke="#0000ff" stroke-width="2.4"/>
<polygon points="584.3,1329.4 597.0,1321.3 597.0,1337.5" fill="#fff" stroke="#0000ff" stroke-width="2.4"/>
<polygon points="592.3,1338.4 605.0,1330.4 605.0,1346.5" fill="#fff" stroke="#0000ff" stroke-width="2.4"/>
<polygon points="608.2,1341.8 621.0,1333.7 621.0,1349.9" fill="#fff" stroke="#0000ff" stroke-width="2.4"/>
<polygon points="648.1,1346.5 660.8,1338.4 660.8,1354.6" fill="#fff" stroke="#0000ff" stroke-width="2.4"/>
<polygon points="687.9,1351.2 700.6,1343.1 700.6,1359.3" fill="#fff" stroke="#0000ff" stroke-width="2.4"/>
<polygon points="727.8,1355.2 740.5,1347.2 740.5,1363.3" fill="#fff" stroke="#0000ff" stroke-width="2.4"/>
<polygon points="807.4,1354.6 820.2,1346.5 820.2,1362.6" fill="#fff" stroke="#0000ff" stroke-width="2.4"/>
<polygon points="887.1,1353.9 899.8,1345.8 899.8,1362.0" fill="#fff" stroke="#0000ff" stroke-width="2.4"/>
<polygon points="966.8,1360.6 979.5,1352.5 979.5,1368.7" fill="#fff" stroke="#0000ff" stroke-width="2.4"/>
</g>
<rect x="576.6" y="1295.6" width="438.9" height="422.6" fill="none" stroke="#000" stroke-width="2.8"/>
<line x1="576.6" y1="1718.2" x2="576.6" y2="1726.7" stroke="#000" stroke-width="2.6"/>
<line x1="616.4" y1="1718.2" x2="616.4" y2="1722.7" stroke="#000" stroke-width="2.6"/>
<line x1="616.4" y1="1295.6" x2="616.4" y2="1299.6" stroke="#000" stroke-width="2.6"/>
<line x1="656.3" y1="1718.2" x2="656.3" y2="1726.7" stroke="#000" stroke-width="2.6"/>
<line x1="656.3" y1="1295.6" x2="656.3" y2="1303.6" stroke="#000" stroke-width="2.6"/>
<line x1="696.1" y1="1718.2" x2="696.1" y2="1722.7" stroke="#000" stroke-width="2.6"/>
<line x1="696.1" y1="1295.6" x2="696.1" y2="1299.6" stroke="#000" stroke-width="2.6"/>
<line x1="736.0" y1="1718.2" x2="736.0" y2="1726.7" stroke="#000" stroke-width="2.6"/>
<line x1="736.0" y1="1295.6" x2="736.0" y2="1303.6" stroke="#000" stroke-width="2.6"/>
<line x1="775.8" y1="1718.2" x2="775.8" y2="1722.7" stroke="#000" stroke-width="2.6"/>
<line x1="775.8" y1="1295.6" x2="775.8" y2="1299.6" stroke="#000" stroke-width="2.6"/>
<line x1="815.6" y1="1718.2" x2="815.6" y2="1726.7" stroke="#000" stroke-width="2.6"/>
<line x1="815.6" y1="1295.6" x2="815.6" y2="1303.6" stroke="#000" stroke-width="2.6"/>
<line x1="855.5" y1="1718.2" x2="855.5" y2="1722.7" stroke="#000" stroke-width="2.6"/>
<line x1="855.5" y1="1295.6" x2="855.5" y2="1299.6" stroke="#000" stroke-width="2.6"/>
<line x1="895.3" y1="1718.2" x2="895.3" y2="1726.7" stroke="#000" stroke-width="2.6"/>
<line x1="895.3" y1="1295.6" x2="895.3" y2="1303.6" stroke="#000" stroke-width="2.6"/>
<line x1="935.2" y1="1718.2" x2="935.2" y2="1722.7" stroke="#000" stroke-width="2.6"/>
<line x1="935.2" y1="1295.6" x2="935.2" y2="1299.6" stroke="#000" stroke-width="2.6"/>
<line x1="975.0" y1="1718.2" x2="975.0" y2="1726.7" stroke="#000" stroke-width="2.6"/>
<line x1="975.0" y1="1295.6" x2="975.0" y2="1303.6" stroke="#000" stroke-width="2.6"/>
<line x1="1014.8" y1="1718.2" x2="1014.8" y2="1722.7" stroke="#000" stroke-width="2.6"/>
<line x1="1014.8" y1="1295.6" x2="1014.8" y2="1299.6" stroke="#000" stroke-width="2.6"/>
<line x1="568.3" y1="1302.2" x2="576.6" y2="1302.2" stroke="#000" stroke-width="2.6"/>
<line x1="1007.2" y1="1302.2" x2="1015.5" y2="1302.2" stroke="#000" stroke-width="2.6"/>
<line x1="571.8" y1="1369.3" x2="576.6" y2="1369.3" stroke="#000" stroke-width="2.6"/>
<line x1="1010.7" y1="1369.3" x2="1015.5" y2="1369.3" stroke="#000" stroke-width="2.6"/>
<line x1="568.3" y1="1436.4" x2="576.6" y2="1436.4" stroke="#000" stroke-width="2.6"/>
<line x1="1007.2" y1="1436.4" x2="1015.5" y2="1436.4" stroke="#000" stroke-width="2.6"/>
<line x1="571.8" y1="1503.6" x2="576.6" y2="1503.6" stroke="#000" stroke-width="2.6"/>
<line x1="1010.7" y1="1503.6" x2="1015.5" y2="1503.6" stroke="#000" stroke-width="2.6"/>
<line x1="568.3" y1="1570.7" x2="576.6" y2="1570.7" stroke="#000" stroke-width="2.6"/>
<line x1="1007.2" y1="1570.7" x2="1015.5" y2="1570.7" stroke="#000" stroke-width="2.6"/>
<line x1="571.8" y1="1637.8" x2="576.6" y2="1637.8" stroke="#000" stroke-width="2.6"/>
<line x1="1010.7" y1="1637.8" x2="1015.5" y2="1637.8" stroke="#000" stroke-width="2.6"/>
<line x1="568.3" y1="1704.9" x2="576.6" y2="1704.9" stroke="#000" stroke-width="2.6"/>
<line x1="1007.2" y1="1704.9" x2="1015.5" y2="1704.9" stroke="#000" stroke-width="2.6"/>
<text x="547.6" y="1311.7" font-size="37.25" font-weight="bold" textLength="16.6" lengthAdjust="spacingAndGlyphs">0</text>
<text x="520.7" y="1446.9" font-size="37.11" font-weight="bold" textLength="42.8" lengthAdjust="spacingAndGlyphs">-20</text>
<text x="520.7" y="1581.2" font-size="37.11" font-weight="bold" textLength="42.8" lengthAdjust="spacingAndGlyphs">-40</text>
<text x="520.7" y="1715.4" font-size="37.11" font-weight="bold" textLength="42.8" lengthAdjust="spacingAndGlyphs">-60</text>
<text x="568.9" y="1761.7" font-size="36.39" font-weight="bold" textLength="15.7" lengthAdjust="spacingAndGlyphs">0</text>
<text x="631.0" y="1761.7" font-size="36.39" font-weight="bold" textLength="51.7" lengthAdjust="spacingAndGlyphs">100</text>
<text x="710.1" y="1761.7" font-size="36.39" font-weight="bold" textLength="52.4" lengthAdjust="spacingAndGlyphs">200</text>
<text x="790.1" y="1761.7" font-size="36.39" font-weight="bold" textLength="52.0" lengthAdjust="spacingAndGlyphs">300</text>
<text x="870.1" y="1761.7" font-size="36.39" font-weight="bold" textLength="51.8" lengthAdjust="spacingAndGlyphs">400</text>
<text x="949.2" y="1761.7" font-size="36.39" font-weight="bold" textLength="52.3" lengthAdjust="spacingAndGlyphs">500</text>
<text x="656.7" y="1801.4" font-size="41.13" textLength="278.6" lengthAdjust="spacingAndGlyphs">Frequency(MHz)</text>
<text transform="translate(508.4 1699.2) rotate(-90) scale(0.8 1)" x="0" y="0" font-size="47.99" textLength="480.6" lengthAdjust="spacing">Output power(dBm)</text>
<line x1="826.0" y1="1395.2" x2="882.0" y2="1395.2" stroke="#0000ff" stroke-width="1.9"/>
<polygon points="845.1,1395.2 857.8,1387.1 857.8,1403.3" fill="#fff" stroke="#0000ff" stroke-width="2.4"/>
<text x="888.6" y="1404.2" font-size="29.36" font-weight="bold" textLength="94.1" lengthAdjust="spacingAndGlyphs">LRS-1st</text>
<line x1="826.0" y1="1433.0" x2="882.0" y2="1433.0" stroke="#0000ff" stroke-width="1.9"/>
<polygon points="861.5,1433.0 848.8,1424.9 848.8,1441.0" fill="#fff" stroke="#0000ff" stroke-width="2.4"/>
<text x="888.6" y="1442.0" font-size="29.36" font-weight="bold" textLength="102.5" lengthAdjust="spacingAndGlyphs">LRS-2nd</text>
<line x1="826.0" y1="1470.7" x2="882.0" y2="1470.7" stroke="#ff0000" stroke-width="1.9"/>
<rect x="847.6" y="1463.5" width="11.4" height="14.5" fill="#fff" stroke="#ff0000" stroke-width="3.3"/>
<text x="888.6" y="1479.7" font-size="29.36" font-weight="bold" textLength="96.9" lengthAdjust="spacingAndGlyphs">HRS-1st</text>
<line x1="826.0" y1="1508.5" x2="882.0" y2="1508.5" stroke="#ff0000" stroke-width="1.9"/>
<ellipse cx="853.3" cy="1508.5" rx="5.4" ry="6.8" fill="#fff" stroke="#ff0000" stroke-width="2.1"/>
<text x="888.6" y="1517.5" font-size="29.36" font-weight="bold" textLength="105.7" lengthAdjust="spacingAndGlyphs">HRS-2nd</text>
<line x1="826.0" y1="1546.2" x2="882.0" y2="1546.2" stroke="#ff0000" stroke-width="1.9"/>
<polygon points="853.3,1536.9 845.9,1551.6 860.7,1551.6" fill="#fff" stroke="#ff0000" stroke-width="2.4"/>
<text x="888.6" y="1555.2" font-size="29.36" font-weight="bold" textLength="100.3" lengthAdjust="spacingAndGlyphs">HRS-3rd</text>
<line x1="826.0" y1="1584.0" x2="882.0" y2="1584.0" stroke="#ff0000" stroke-width="1.9"/>
<polygon points="853.3,1593.3 845.9,1578.5 860.7,1578.5" fill="#fff" stroke="#ff0000" stroke-width="2.4"/>
<text x="888.6" y="1593.0" font-size="29.36" font-weight="bold" textLength="98.5" lengthAdjust="spacingAndGlyphs">HRS-4th</text>
<line x1="826.0" y1="1621.7" x2="882.0" y2="1621.7" stroke="#ff0000" stroke-width="1.9"/>
<polygon points="853.3,1612.6 859.8,1621.7 853.3,1630.8 846.8,1621.7" fill="#fff" stroke="#ff0000" stroke-width="2.4"/>
<text x="888.6" y="1630.7" font-size="29.36" font-weight="bold" textLength="98.5" lengthAdjust="spacingAndGlyphs">HRS-5th</text>
<line x1="826.0" y1="1659.5" x2="882.0" y2="1659.5" stroke="#ff0000" stroke-width="1.9"/>
<polygon points="853.3,1651.0 860.0,1656.9 857.4,1666.2 849.2,1666.2 846.6,1656.9" fill="#fff" stroke="#ff0000" stroke-width="2.4"/>
<text x="888.6" y="1668.5" font-size="29.36" font-weight="bold" textLength="98.5" lengthAdjust="spacingAndGlyphs">HRS-6th</text>
</g>
</svg>
</body></html>
